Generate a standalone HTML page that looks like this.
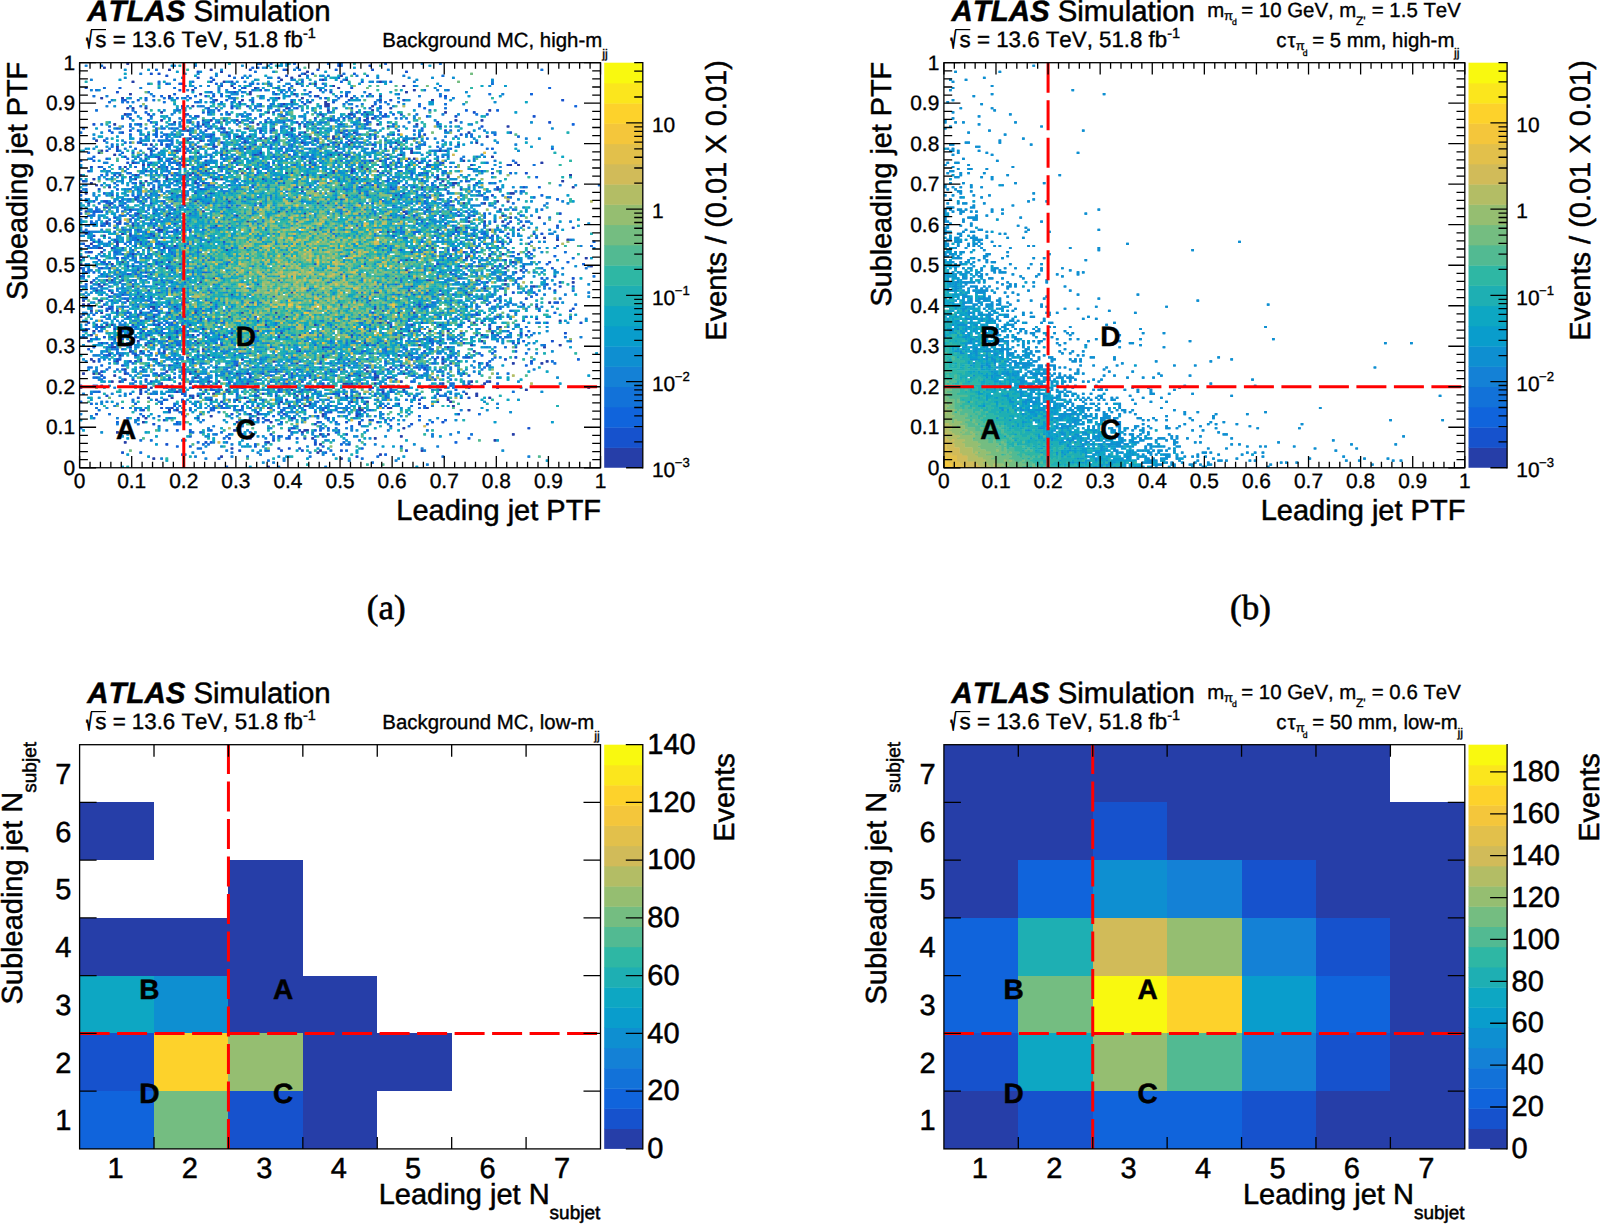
<!DOCTYPE html>
<html lang="en"><head><meta charset="utf-8"><title>ATLAS Simulation - ABCD regions</title>
<style>html,body{margin:0;padding:0;background:#fff}svg{display:block}text{font-family:"Liberation Sans",Arial,Helvetica,sans-serif;fill:#000;stroke:#000;stroke-width:.017em;font-kerning:none;font-variant-ligatures:none;text-rendering:geometricPrecision}.cap{font-family:"Liberation Serif","Times New Roman",Times,serif}</style></head><body>
<svg width="1600" height="1224" viewBox="0 0 1600 1224">
<rect width="1600" height="1224" fill="#fff"/>
<g id="c0" transform="translate(79.52 467.75) scale(2.60450 -2.02525) translate(0 .5)" fill="none" stroke-width="1.085">
<path stroke="#263ea8" d="M72 0h1M28 4h1m71 0h1M54 5h1M115 6h1M91 7h1M92 8h1m38 0h1M58 9h1M92 11h1M17 12h1m54 0h1M159 13h1M65 14h1m23 0h1m23 0h1M123 15h1M92 16h1m2 0h1m70 0h1M14 17h1m70 0h1M59 18h1m20 0h1m5 0h2M124 19h1M107 21h1M24 22h1m35 0h1m12 0h1M25 24h1m39 0h1m2 0h1m12 0h1M50 25h1m42 0h1m12 0h1M65 26h1m2 0h1m24 0h1M34 28h1m2 0h1m69 0h2m40 0h1M35 29h1m36 0h1m34 0h1m10 0h2m13 0h1M80 30h1m3 0h1m1 0h1m56 0h1M88 31h1m41 0h1M77 32h1m26 0h1m5 0h1m31 0h1M50 33h1m9 0h1m6 0h1m73 0h1M26 34h1m8 0h1m7 0h1m19 0h1m42 0h1m1 0h1m48 0h1M42 35h1m2 0h1m37 0h1m3 0h1m14 0h1m49 0h1M23 36h1m27 0h1m96 0h1m3 0h1M37 37h1m19 0h1m58 0h1M23 38h1m32 0h1m10 0h1m13 0h1m42 0h1m13 0h1m32 0h1M24 39h1m2 0h1m15 0h1m22 0h1m93 0h1m34 0h1M8 40h1m15 0h1m25 0h1m60 0h1M31 41h1m6 0h1m3 0h1m21 0h1m36 0h2m1 0h1m8 0h1m25 0h1m15 0h1M12 42h1m2 0h1m33 0h1m3 0h1m69 0h1m26 0h1m6 0h1M17 43h1m72 0h1M44 44h1m20 0h1m47 0h2M13 45h1m16 0h1m14 0h1m57 0h1m3 0h1M1 46h1m3 0h1m1 0h1m9 0h1m24 0h1m17 0h1m3 0h1m48 0h1m10 0h1M33 47h1m10 0h1m65 0h1M17 48h1m57 0h1m33 0h1m15 0h1M110 49h1m8 0h1M60 50h1m62 0h1M83 51h1m55 0h1m26 0h1m10 0h1M5 52h1m8 0h1m59 0h1m104 0h1M4 53h1m23 0h1m33 0h1m76 0h1M41 54h1m51 0h1m31 0h1M15 55h1m5 0h1m27 0h1m43 0h1m28 0h1M19 57h1m3 0h1m8 0h1m51 0h1m66 0h1M47 58h1m57 0h1M12 59h2m5 0h1m73 0h1m47 0h1m36 0h1M17 60h1m7 0h1m84 0h1m19 0h1m19 0h1m33 0h1M45 61h1m63 0h1M3 62h1m18 0h1m131 0h1M20 63h1m7 0h1m92 0h1M1 64h1m16 0h1m15 0h1m41 0h1M4 65h1m26 0h1m11 0h1m11 0h1m28 0h1m19 0h1m34 0h1m14 0h1M58 66h1m2 0h1m15 0h1m45 0h1m34 0h1M5 67h1m62 0h1m65 0h1m6 0h1M2 68h1m44 0h1m109 0h1M8 69h1m67 0h1m42 0h1m41 0h1M10 70h1m1 0h1m17 0h1m40 0h1m18 0h1m36 0h1m10 0h1M115 71h1m2 0h1m32 0h1m2 0h1M28 72h1m155 0h1M25 73h1m89 0h1M0 74h1m27 0h1m11 0h1m16 0h1m21 0h1M8 76h1m14 0h1m10 0h1m9 0h1m17 0h1m12 0h1m46 0h1m5 0h1M4 77h1m9 0h1M11 78h1m16 0h1m84 0h1M8 79h1m18 0h2m7 0h1m93 0h1m44 0h1M1 80h1m1 0h1M50 81h1m129 0h1M1 82h1m5 0h2m9 0h1m92 0h1M23 84h1m84 0h1M58 85h1m80 0h1m9 0h1M12 86h1m68 0h1M6 87h1m119 0h1M36 88h1m118 0h1M8 89h1m11 0h1m106 0h1m46 0h1M7 90h1m155 0h1M4 91h1m41 0h1m142 0h1M10 92h1m1 0h1m121 0h1m17 0h1m10 0h1M51 93h1M15 94h1M142 96h1M125 97h1m9 0h1m33 0h1M0 98h1m32 0h1m124 0h1m4 0h1M146 99h1m17 0h1m31 0h1M0 100h1m11 0h1m25 0h1M16 101h1m17 0h1m131 0h1M0 102h1m124 0h1M148 103h1m45 0h1M142 104h1m6 0h1m7 0h1M20 105h1m10 0h1m130 0h1M3 106h1m4 0h1m118 0h1m44 0h1M56 107h1m86 0h1M7 108h2m3 0h1m13 0h1m5 0h1m102 0h1M36 109h1M4 110h1m9 0h1M14 111h1M22 112h1m160 0h1m3 0h1M37 113h1m140 0h1M9 114h1m18 0h1M16 115h1M1 116h1m116 0h1m1 0h1M30 117h2m58 0h1m46 0h1m6 0h1m12 0h1M145 118h1M20 119h1m31 0h1m117 0h1M10 120h1M10 121h1m4 0h1m48 0h1m84 0h1m5 0h1m6 0h1M129 122h1M23 123h1m91 0h1m8 0h1m24 0h1m15 0h1m10 0h1M33 124h1m26 0h1m78 0h1m22 0h1M22 125h1m11 0h1m51 0h1m38 0h1M2 126h1m44 0h1m28 0h1m47 0h1M19 127h1m113 0h1m27 0h1M11 129h1m28 0h1M3 130h1m87 0h1m55 0h1m7 0h1M44 131h1m12 0h1m23 0h1m78 0h1m3 0h1M21 132h1m13 0h1m84 0h1M40 134h1m61 0h1m18 0h1M2 135h1m32 0h1m88 0h1m40 0h2M0 136h1m84 0h1m11 0h1M27 137h1m132 0h1M11 138h1m73 0h1m22 0h1m22 0h1m5 0h1m51 0h1M6 139h1m33 0h1m59 0h1m39 0h1M4 140h1m18 0h1m20 0h1m2 0h1m95 0h2M25 141h1m113 0h1m45 0h1M5 142h1m15 0h1m11 0h1m18 0h1m1 0h1m15 0h1m35 0h1m30 0h1M33 143h1m103 0h1m3 0h1M0 144h1m14 0h1m5 0h1m18 0h1m1 0h1m42 0h1m8 0h1m93 0h1M43 145h1m18 0h1m16 0h1M48 146h1m48 0h1m6 0h1m9 0h1M37 147h1m23 0h1m2 0h1m2 0h1m42 0h1M17 148h1m12 0h1m22 0h1m54 0h1m6 0h1M24 149h1m16 0h1m6 0h1m116 0h1m2 0h1M20 150h1m17 0h1m49 0h1m41 0h1m46 0h1M59 151h1m52 0h1m2 0h1m21 0h1m9 0h1M30 152h1m4 0h1m90 0h1m1 0h1M158 153h1M13 154h1m40 0h1m12 0h1m28 0h1m2 0h1m23 0h1M7 155h1m32 0h1m4 0h1m23 0h1m57 0h1M8 156h1m18 0h1m8 0h2m60 0h1m28 0h1m10 0h1M43 157h1m15 0h1m3 0h1m48 0h1M14 158h1m30 0h1m5 0h1m67 0h1M27 159h1m67 0h1m3 0h1m3 0h1M23 160h1m39 0h1m21 0h1m18 0h1m16 0h1m30 0h1M6 161h1m34 0h1m4 0h1m77 0h1M42 162h1m26 0h1m5 0h1m21 0h1m7 0h1m22 0h1M60 163h2m3 0h1m22 0h1m8 0h1m3 0h1m54 0h1M84 164h1M56 165h1m29 0h1m13 0h1m4 0h1m43 0h1M41 166h1m39 0h1M54 167h1m9 0h1m9 0h1m6 0h1M86 168h1m31 0h1m45 0h1M13 169h1m33 0h1m20 0h1m15 0h1m29 0h1m14 0h1M36 170h1m29 0h1M31 171h1m18 0h1m4 0h1m4 0h1m48 0h1m34 0h1m9 0h1M110 172h1m1 0h1M17 174h1m22 0h1m51 0h1m10 0h2m5 0h1M31 175h1m40 0h1m67 0h1M95 176h1m16 0h1m44 0h1M18 177h1m1 0h1m4 0h1m53 0h1m39 0h1M43 178h1m50 0h2m16 0h1M78 179h1m15 0h2M81 180h1m6 0h1m5 0h1M52 181h1m9 0h1m52 0h1m19 0h1M8 182h1m7 0h1m59 0h1m8 0h1m18 0h1M34 183h1m56 0h1m23 0h1M19 184h1m26 0h1m18 0h1m16 0h1M65 185h1m59 0h1M43 186h1m84 0h1M67 187h1m31 0h1M58 188h1m38 0h1m26 0h1M83 189h1m6 0h1M20 190h1m34 0h1m59 0h1M77 191h1m15 0h1m8 0h1M81 192h1M84 193h1m15 0h1M86 194h1M54 195h1m32 0h1M34 196h1m15 0h1m28 0h1M9 197h1M18 199h1m50 0h1"/>
<path stroke="#1652cd" d="M106 5h1M16 7h1M61 8h1m15 0h1m7 0h1m14 0h1m24 0h1M76 9h1m3 0h1m3 0h1M123 10h1M33 11h1m56 0h1m12 0h1M48 12h1m22 0h1m18 0h1M74 13h1M57 14h1m22 0h1m5 0h1M76 15h1m16 0h1M61 16h1m11 0h1m28 0h1M84 18h1M81 19h2m89 0h1M119 20h1M28 21h1m61 0h1m36 0h1M91 22h1m10 0h1m4 0h1m6 0h1m24 0h1M32 23h1m32 0h1m5 0h2m38 0h1M22 24h1m22 0h1m36 0h1m12 0h1M24 25h1m66 0h1M6 26h1m32 0h1m18 0h1m19 0h1m27 0h2m37 0h1M34 27h1m33 0h1m8 0h1m18 0h1M24 28h1m25 0h1m10 0h1m31 0h1M31 29h1m19 0h1m42 0h1M54 30h1m13 0h1m18 0h1m27 0h1M31 31h1m44 0h1m32 0h1m12 0h1M54 32h1m9 0h1m72 0h1M29 33h1m2 0h1m6 0h1m39 0h1m50 0h1M22 34h1m63 0h1m9 0h1m31 0h1m12 0h1m7 0h1M10 35h1m23 0h1m8 0h1m23 0h2m6 0h1m23 0h1M39 36h1m7 0h1m22 0h1m11 0h1m14 0h1m9 0h1m29 0h1M23 37h1m28 0h1m31 0h1m34 0h1M48 38h1m27 0h1m11 0h1M0 39h1m61 0h1m49 0h1m6 0h1m29 0h1M0 40h1m32 0h1m13 0h1M52 41h1m26 0h1m13 0h1m55 0h1m10 0h1M27 42h1m57 0h1m70 0h1M20 43h1m4 0h1m87 0h1m7 0h1M34 44h1m21 0h1m24 0h1m4 0h1m31 0h2M8 45h1m56 0h1m12 0h1m9 0h1m24 0h2m24 0h1M40 46h1m29 0h1m10 0h1m65 0h1M8 47h1m80 0h1m6 0h1M24 48h1m15 0h1m58 0h1m1 0h1m16 0h1m13 0h1M39 49h1m12 0h1m76 0h1m2 0h1M16 50h1m9 0h1m7 0h1m66 0h1m1 0h1m22 0h1m6 0h1m22 0h1M30 51h1m6 0h1m54 0h1m49 0h1m10 0h1m2 0h1M19 52h1m1 0h1m81 0h1m69 0h1M14 53h2m7 0h1m19 0h1m55 0h1m27 0h1m8 0h1m26 0h1M51 54h1m85 0h1m4 0h1m5 0h2m17 0h1M11 55h1m115 0h1m5 0h1M11 56h1m12 0h1m7 0h1m28 0h1m64 0h1M45 57h1m86 0h1m9 0h1M3 58h1M5 59h1m67 0h1m20 0h2m71 0h1M33 60h1m20 0h1m83 0h1M8 61h1m3 0h1m14 0h1m86 0h1m2 0h1m17 0h1m11 0h1m18 0h1m1 0h1M44 62h1m60 0h1m28 0h1m3 0h1m42 0h1M13 63h1m2 0h1m17 0h1m97 0h1M9 64h1m11 0h1m15 0h1m10 0h1m18 0h1m88 0h1M26 65h1m14 0h1m3 0h1m78 0h1m27 0h1m7 0h1m10 0h1M23 66h1m13 0h1m10 0h1m97 0h1m22 0h1m16 0h1M24 67h1m12 0h1m1 0h1m71 0h1m14 0h1m1 0h1m1 0h1M13 68h1m109 0h1M7 69h1m1 0h1m14 0h1M6 70h1m13 0h1m7 0h1m13 0h1m76 0h1m37 0h1M3 71h1m127 0h1m60 0h1M68 72h1m80 0h1M46 73h1m128 0h1M18 74h1m119 0h1m21 0h1M22 75h1m15 0h1m113 0h1M112 76h1M10 77h1m18 0h1m86 0h1m71 0h1M37 78h1m12 0h1m91 0h1m46 0h1M4 79h1m7 0h1m51 0h1m48 0h1m18 0h2m14 0h1M39 80h1m60 0h1m29 0h1m25 0h1m13 0h1M28 81h1m37 0h1m116 0h1M106 82h1m52 0h1m1 0h1M40 83h1m130 0h1M11 84h1m62 0h1M16 85h1m111 0h1m34 0h1M113 86h2m18 0h1m14 0h1m17 0h1M11 87h1m14 0h1m111 0h1m43 0h1M56 88h1m105 0h1M148 89h1m24 0h1m10 0h1M9 90h1m19 0h1m38 0h1m110 0h1M15 91h1m3 0h1m136 0h1m27 0h1M16 92h1m59 0h1m56 0h1M23 93h1m97 0h1m7 0h1m7 0h1m7 0h1m43 0h1M0 94h2m8 0h1m14 0h1m100 0h1m55 0h1M18 95h1m8 0h1m72 0h1m47 0h1M2 96h1m22 0h1m100 0h1m40 0h1M22 97h1m12 0h1M8 98h1m2 0h1m169 0h1M18 99h1m1 0h1m10 0h1m16 0h1m87 0h1m12 0h1m3 0h1m16 0h1M10 100h1m15 0h1m63 0h1m18 0h1m27 0h1M9 101h1m21 0h1m90 0h1m57 0h1M127 102h1m35 0h1M6 103h1m7 0h1M102 104h1M168 105h1M4 106h1m131 0h1m10 0h1m2 0h1m1 0h1M63 108h1m80 0h1m7 0h1M2 109h2m10 0h1m17 0h1m7 0h1m92 0h1m49 0h1M1 110h1m21 0h1m7 0h1m130 0h1m9 0h1M5 111h1m1 0h1m41 0h1m5 0h1m105 0h1m3 0h1M13 112h1M26 113h1m4 0h1m132 0h1M5 114h1m13 0h1m100 0h1m30 0h1m6 0h1M2 115h1m16 0h1m7 0h1m115 0h1m20 0h1m9 0h1m2 0h1M3 116h1m26 0h1m4 0h1M37 117h1m130 0h1M28 118h1m28 0h1m86 0h1m3 0h1m40 0h1M8 119h1m97 0h1m48 0h1m7 0h1m19 0h1M14 120h2m4 0h1m15 0h1m3 0h1m99 0h1m23 0h1M131 121h1m27 0h1m5 0h1M19 122h1m8 0h1m7 0h1M13 123h1m32 0h1M119 124h1m8 0h1m16 0h1m5 0h1M0 125h1m27 0h1m13 0h1m141 0h1M5 126h1m2 0h1m133 0h1M36 127h1M10 128h1m27 0h1m18 0h1m76 0h1M15 129h1m124 0h1m2 0h1M11 130h2m11 0h1m2 0h1m21 0h1m19 0h1M9 131h2m4 0h1m126 0h1M42 132h1m13 0h1m3 0h1m37 0h1m1 0h1M22 133h1m3 0h1m36 0h1m65 0h1m4 0h1m21 0h1M12 134h1m26 0h1m70 0h1m12 0h1m8 0h1m5 0h1m15 0h1m3 0h1M44 135h1m5 0h1m56 0h1m33 0h1M90 136h1M7 137h1m38 0h1m73 0h1m19 0h1m5 0h1M30 138h1m35 0h1m16 0h1m30 0h1m4 0h1m8 0h1m31 0h1m9 0h1M24 139h1m24 0h1m7 0h1m54 0h1m30 0h1M40 140h1m37 0h1m31 0h1m11 0h1m29 0h1M1 141h1m27 0h1m7 0h1m6 0h1m103 0h1M77 142h1M19 143h1m30 0h1m41 0h1M13 144h1m21 0h1m9 0h1m41 0h1m42 0h1M81 145h1m15 0h1m6 0h1m11 0h1m1 0h1m39 0h1m12 0h1M3 146h1m21 0h1M104 147h1m14 0h1M4 148h1m2 0h1m25 0h1m12 0h1m41 0h1m29 0h1M26 149h1m12 0h1m86 0h1m6 0h2m15 0h1m13 0h1M18 150h1m103 0h1m16 0h1m27 0h1M48 151h1m62 0h1m13 0h1m8 0h1M25 152h1m34 0h1m57 0h1m3 0h1M17 153h1m12 0h1m54 0h1m16 0h1M25 154h1m42 0h1m11 0h1m37 0h1M78 155h1M10 156h1m3 0h1m41 0h1m83 0h1M14 157h1m11 0h1m2 0h1m87 0h1m6 0h1M52 158h1m12 0h1M25 159h1m5 0h1m1 0h1m15 0h1m1 0h1m15 0h1m3 0h1m21 0h1m18 0h1m9 0h1m22 0h1M54 160h1m15 0h1m27 0h1M9 161h1m53 0h1m10 0h1m15 0h1m12 0h1M44 162h1m26 0h1m41 0h1M50 163h1m24 0h1M26 164h1m15 0h1m8 0h1m27 0h1m22 0h1m8 0h1m8 0h1m11 0h1m13 0h1M16 165h1m74 0h1m73 0h1M19 166h1m28 0h1m20 0h1m3 0h1m48 0h1m17 0h1M55 167h1M45 168h1m92 0h1m15 0h1M5 169h1m17 0h1m21 0h1m43 0h1m10 0h1m9 0h1M42 170h1m6 0h1m3 0h1m7 0h1m9 0h1m6 0h1m4 0h1m53 0h1m42 0h1M47 171h1m48 0h1M16 172h1m2 0h1m70 0h1m5 0h1m4 0h1M27 173h1m16 0h2m32 0h1m14 0h1m11 0h1m10 0h1m27 0h1m29 0h1M26 174h1m14 0h1m15 0h1m59 0h1m5 0h1M49 175h1m24 0h1m31 0h1m2 0h1m41 0h1M53 176h1M49 177h1m8 0h1m21 0h1m2 0h1m20 0h1M39 178h1m18 0h1m5 0h1m12 0h1M86 179h1M61 180h1m4 0h1m30 0h1M17 181h1m85 0h1m15 0h1m4 0h1m60 0h1M34 182h1M51 183h1m38 0h1m9 0h1m1 0h1m37 0h1M75 184h1m35 0h1M14 185h1m44 0h1m28 0h1m7 0h1M69 186h1m22 0h1M2 187h1m56 0h1m3 0h1m40 0h1M54 188h1M39 189h1M50 190h1m7 0h1M51 191h1M45 192h1m30 0h1M33 193h1m23 0h1m21 0h1M27 194h1m2 0h1m58 0h1M45 195h1m79 0h1M65 196h1m25 0h1m20 0h1M99 198h1m11 0h1M73 199h1"/>
<path stroke="#1064dc" d="M56 0h1M53 4h1M117 6h1M94 7h1M108 9h1M37 10h1m4 0h1m24 0h1m25 0h1M67 11h1m32 0h1M50 12h1m93 0h1M83 14h1m65 0h1M42 15h1m37 0h1M57 16h1m4 0h1M42 17h1m22 0h1m32 0h1M37 18h1m4 0h1m7 0h1m39 0h1m1 0h1M0 19h1m94 0h1M104 20h1M37 21h1m95 0h1M14 22h1m22 0h1m39 0h1m20 0h1m36 0h1M63 23h1m4 0h1m39 0h1m3 0h1m6 0h1m20 0h1M18 24h1m51 0h1M74 25h1m55 0h1M46 26h1m47 0h1M90 27h1m4 0h1m10 0h1m2 0h1M23 28h1m18 0h1m8 0h1m34 0h1m15 0h1m8 0h1M16 29h1m16 0h1m21 0h1m9 0h1m16 0h1m49 0h1M36 30h1m22 0h1m2 0h1m33 0h1m20 0h1m14 0h1M4 31h1m16 0h1m33 0h1m24 0h1M0 32h1M83 33h1m30 0h1M87 34h1m14 0h1m28 0h1M40 35h1m63 0h1m12 0h1m20 0h1M19 36h1m35 0h1m4 0h1m37 0h2m1 0h1m14 0h1M7 37h1m17 0h1m10 0h1m16 0h1m22 0h1m13 0h1M50 38h2m33 0h1m1 0h1m28 0h1m2 0h1m24 0h1M33 39h1m42 0h1m49 0h1M5 40h1m29 0h1m32 0h1m34 0h1m38 0h1m5 0h1M57 41h1m45 0h1m4 0h1m29 0h1M45 42h1m11 0h1m15 0h1m2 0h1m50 0h1M34 43h1m26 0h1m5 0h2m10 0h1m56 0h1M6 44h1m2 0h1m26 0h1m24 0h1m40 0h1m32 0h1M73 45h1m7 0h1m45 0h2m2 0h1m17 0h1M18 46h1m10 0h1m2 0h1m24 0h1m21 0h1m25 0h1M17 47h1m21 0h1m32 0h1m3 0h1m36 0h1m31 0h1M10 48h1m3 0h1m1 0h1m19 0h1m2 0h1m43 0h2m35 0h1m17 0h1M3 49h1m19 0h1m42 0h1m25 0h1m30 0h1m7 0h1M8 50h1m78 0h1m36 0h1m6 0h1m39 0h1M60 51h1m20 0h1m91 0h1M7 52h1m5 0h1m9 0h1m35 0h1m24 0h1m7 0h1m24 0h1m27 0h1m11 0h1M7 53h1m21 0h1m7 0h1m72 0h1m18 0h1m61 0h1M34 54h1m46 0h1m18 0h1m29 0h1m8 0h1m4 0h1m14 0h1M10 55h1m48 0h1m58 0h1m23 0h1m11 0h1M14 56h1m5 0h2m5 0h1m13 0h1m23 0h1m45 0h1m41 0h1m4 0h1M47 57h1m35 0h1m24 0h2m49 0h1m7 0h1M14 58h1m28 0h1m15 0h1m36 0h1m28 0h1m8 0h2M11 59h1m23 0h1m15 0h1m45 0h1m26 0h1M12 60h1m3 0h1m11 0h1m8 0h2m51 0h1m7 0h1m13 0h2m9 0h1M10 61h1m15 0h1m8 0h1m16 0h1m1 0h1M33 62h1m52 0h1m9 0h1m7 0h1m65 0h1m17 0h1M4 63h1m1 0h1m16 0h1m3 0h1m25 0h1m80 0h1m8 0h1M12 64h1m42 0h2m22 0h1m24 0h1m41 0h1m14 0h1M53 65h1m22 0h1m30 0h1m61 0h1M18 66h2m10 0h1m1 0h1m59 0h1m45 0h1M1 67h1m5 0h1m8 0h1m12 0h1m1 0h1m12 0h1m22 0h1m96 0h1m7 0h1M3 68h1m61 0h1m34 0h1M17 69h1m3 0h1m50 0h1m36 0h1m39 0h1M29 70h1m5 0h1m75 0h1m34 0h1M33 71h1m1 0h1m16 0h1m1 0h1m124 0h1M23 72h1m12 0h1m89 0h1m43 0h1M78 73h1m28 0h1m5 0h1m12 0h1M9 74h1m27 0h1m29 0h1m8 0h1m36 0h1m74 0h1M5 75h1m22 0h1m121 0h1M14 76h1m3 0h1m7 0h1m3 0h1m121 0h1m29 0h1M27 77h1m16 0h1m2 0h1M10 78h1m1 0h1m33 0h1m85 0h1m28 0h1M11 79h1m4 0h1m5 0h1m7 0h1m21 0h1m75 0h1M9 80h1m114 0h1m8 0h1m8 0h1M27 81h1m6 0h1m100 0h1m46 0h1M12 82h1m35 0h1m93 0h1M17 83h1m9 0h1m125 0h1M27 84h1m35 0h1m61 0h1m35 0h1m11 0h1M122 85h1m20 0h1m31 0h1M17 86h1m4 0h1m7 0h1m4 0h1m14 0h1m120 0h1m2 0h1M8 87h1m78 0h1m46 0h1M5 88h1m40 0h1m99 0h1m4 0h1m9 0h1M155 89h1m33 0h1M2 90h1m118 0h1M32 91h1m2 0h1m4 0h1m54 0h1m71 0h1M5 92h1m25 0h1m96 0h1m24 0h1M47 93h1m120 0h2m7 0h1M102 94h1m41 0h1M8 95h1m10 0h1m1 0h1m85 0h1M5 96h1m17 0h1m19 0h1m3 0h2m89 0h1m24 0h1M3 97h1M7 98h1m140 0h1M33 99h1m44 0h1m62 0h1m12 0h1m4 0h1m1 0h1M29 100h1m26 0h1m104 0h1m17 0h1m13 0h1M8 101h1m20 0h1m157 0h1M7 102h1m139 0h1M16 103h1m3 0h1m152 0h1M0 104h1m17 0h1m1 0h1m4 0h1m10 0h1m102 0h1m26 0h1m15 0h1M16 105h1m2 0h1m58 0h1m94 0h1M13 106h1m8 0h1M20 107h1m13 0h1m84 0h1m3 0h1m17 0h1M4 108h1m11 0h1m11 0h1m29 0h1m90 0h1m7 0h1M5 109h1m15 0h1m95 0h1m78 0h1M17 110h1m11 0h1m11 0h1m113 0h1M23 111h1m2 0h1m3 0h1m100 0h1m65 0h1M7 112h1m142 0h1M21 113h1m103 0h1m11 0h1m15 0h2m2 0h1m17 0h1m7 0h1M44 114h1m91 0h1m5 0h1m13 0h1M128 115h1m9 0h1m16 0h1M31 116h1m5 0h1m4 0h1m81 0h1m3 0h3m13 0h2m1 0h2M22 117h1m6 0h1m9 0h1m2 0h1m4 0h1m23 0h1M13 118h1m37 0h1m71 0h1m42 0h1M28 119h1m103 0h1m10 0h1M4 120h1m4 0h1m19 0h1m99 0h1m3 0h1m21 0h1M4 121h1m164 0h1M30 122h1m103 0h1M20 123h1m14 0h1m1 0h1M3 124h1m12 0h1m2 0h1m1 0h1m114 0h1m32 0h1M5 125h1m15 0h1m32 0h1m45 0h1m6 0h1m47 0h1M6 126h2m71 0h1m45 0h1m19 0h1M6 127h1m10 0h1m26 0h1m67 0h1M0 128h1m8 0h1m46 0h1m44 0h1m3 0h1m26 0h1M16 129h1m16 0h1m26 0h1m6 0h1m30 0h1m21 0h1m21 0h1M7 130h1m2 0h1m84 0h1m11 0h1m4 0h1m28 0h1M5 131h1m17 0h1m8 0h1m83 0h1m13 0h1m1 0h1M115 132h1m6 0h1m15 0h1m5 0h1m38 0h1M21 133h1m26 0h1m74 0h1m9 0h1m30 0h1M0 134h1m19 0h1m1 0h1m7 0h1m17 0h1m97 0h1m30 0h1M9 135h1m17 0h1m21 0h1M129 136h1m4 0h1m18 0h1m15 0h1M2 137h1m11 0h1m7 0h1m24 0h2m52 0h1m29 0h1M28 138h1m9 0h1m6 0h1m36 0h1m5 0h1m18 0h1m68 0h1M51 139h1m14 0h1m42 0h1m14 0h1m10 0h1m15 0h1M21 140h1m23 0h1m2 0h1m27 0h1M41 141h1m24 0h1m32 0h1m18 0h1M45 142h1m5 0h1m14 0h1m8 0h1m28 0h1m9 0h1M175 143h1M8 144h1m13 0h1m10 0h1m3 0h1m29 0h1m59 0h1m9 0h1m3 0h1M19 145h1m29 0h1m7 0h1m10 0h1m2 0h1m55 0h1m3 0h1m1 0h1m5 0h1m25 0h1M105 146h1m17 0h1m16 0h1m13 0h1M27 147h1m29 0h1m92 0h1M15 148h1m5 0h1m21 0h1m29 0h1m59 0h1M37 149h1m22 0h1m21 0h1m7 0h1m27 0h1M21 150h1m5 0h1m7 0h1m22 0h1m13 0h1m36 0h1m9 0h1m18 0h1M0 151h1m4 0h1m27 0h1m54 0h1m11 0h1m28 0h1M4 152h1m5 0h1m7 0h1m20 0h1m15 0h1m3 0h1m15 0h1m13 0h1m56 0h1M5 153h1m20 0h1m2 0h1m12 0h1m7 0h1m23 0h1m36 0h1M27 154h1m28 0h1m9 0h1m15 0h1m18 0h3M3 155h1m12 0h1m3 0h1m79 0h1M38 156h1m42 0h1M21 157h1m19 0h1m23 0h1m7 0h1m14 0h1m3 0h1m28 0h1m5 0h1m14 0h1m15 0h1m22 0h1M33 158h1m39 0h1m24 0h1m6 0h1m23 0h1m7 0h1M113 159h1m18 0h1M22 160h1m63 0h1m10 0h1m2 0h1m1 0h1M30 161h1m3 0h1m32 0h1m7 0h1m4 0h1M23 162h1m9 0h1m28 0h1m19 0h1M25 163h1m3 0h1m16 0h1m2 0h1m7 0h1m12 0h1m10 0h1m31 0h1m16 0h1m13 0h1M19 164h1m9 0h1m3 0h1m16 0h1m25 0h1m4 0h1m25 0h1m5 0h1m16 0h1m28 0h1M12 165h1m16 0h1m24 0h2m13 0h1M11 166h1m10 0h1m6 0h1m44 0h1m27 0h1m10 0h1m14 0h1M1 167h1m12 0h1m14 0h1m5 0h1m9 0h1m3 0h1m41 0h1m17 0h1m21 0h1M19 168h1m28 0h1m1 0h1m3 0h1m24 0h1m40 0h1M22 169h1m6 0h1m75 0h1m31 0h1m51 0h1M27 170h1m17 0h1m19 0h1m21 0h1m22 0h2M26 171h1m70 0h1m1 0h1m7 0h1M103 172h1m3 0h1M62 173h1m6 0h1m43 0h1m3 0h1m15 0h1M18 174h2m45 0h1m42 0h1m11 0h1m35 0h1M25 175h1m21 0h1m8 0h1m58 0h1M69 176h1m5 0h1m72 0h1m11 0h1M111 177h1m3 0h1m16 0h1M115 178h1m14 0h1m59 0h1M61 179h1m7 0h1m7 0h1m35 0h1M45 180h1m5 0h1m33 0h1M16 181h1m5 0h1m33 0h1M25 182h1m11 0h1m4 0h1m51 0h1M31 183h1m16 0h1m5 0h1m55 0h1m27 0h1M36 184h1m65 0h1m70 0h1M50 185h1m26 0h1M38 186h1m41 0h1M15 187h1m46 0h1m17 0h1m99 0h1M81 188h1m46 0h1M33 189h1m4 0h1m13 0h1m35 0h1M85 190h1m14 0h1m7 0h1m10 0h1M50 192h1m11 0h1m36 0h1M110 193h1M105 194h1M78 196h1m19 0h1M66 197h1m1 0h1M100 198h1M82 199h1m34 0h1"/>
<path stroke="#1272d9" d="M112 2h1M72 3h1M108 4h1M64 5h1m23 0h1m25 0h1m24 0h1M39 6h1M23 7h1m34 0h1M71 8h2m23 0h1m5 0h1M45 9h2M47 11h1m1 0h1M45 12h1m10 0h1m44 0h1M23 13h1m3 0h1m62 0h1M55 14h1m18 0h1m4 0h1M56 15h1m6 0h1m26 0h1M52 16h1m97 0h1M43 17h1m2 0h1m7 0h1m26 0h1M60 18h1m38 0h1m10 0h1M60 19h1m32 0h1m4 0h1M30 20h1m52 0h1m8 0h1m33 0h1M17 21h1m4 0h1m15 0h1m37 0h1M70 22h1m21 0h1M47 23h1m38 0h1m8 0h1m21 0h1m12 0h1M5 24h1m28 0h1m51 0h1m29 0h1M30 25h1m9 0h1m25 0h1M11 26h1m11 0h1m45 0h1m6 0h1m2 0h1m73 0h1M38 27h1m14 0h1m46 0h1M7 28h1m28 0h1m40 0h2m19 0h1m7 0h1M6 29h1m14 0h1m12 0h1m15 0h1m3 0h1m1 0h1m5 0h1m10 0h1m2 0h1m1 0h1m10 0h1m3 0h1m7 0h1m1 0h1m26 0h1M38 30h1m5 0h1m8 0h1m12 0h1m60 0h1M36 31h1m3 0h1m62 0h1M31 32h1m8 0h1m4 0h1m37 0h1m4 0h1m2 0h1M20 33h1m12 0h1m15 0h1m9 0h1m10 0h1m4 0h1m9 0h1m1 0h1m37 0h1M48 34h1m1 0h1m31 0h1m8 0h1m15 0h1m9 0h2m27 0h1M60 35h1m24 0h1m6 0h1m20 0h1m12 0h1m13 0h1M4 36h1m22 0h1m1 0h1m10 0h1m31 0h1m7 0h1m10 0h1m21 0h1m11 0h1M5 37h2m61 0h1m35 0h2m14 0h1m3 0h1m22 0h1m18 0h1M35 38h1m2 0h1m7 0h1m6 0h1m25 0h1m9 0h1m21 0h1m3 0h1M25 39h1m16 0h1m7 0h1m7 0h1m1 0h1m27 0h1m22 0h1m13 0h1m17 0h1M6 40h1m24 0h1m27 0h1m33 0h1m60 0h1M20 41h1m38 0h1m18 0h1m3 0h1m9 0h1m13 0h1m35 0h2M21 42h1m21 0h1m6 0h1m11 0h1m1 0h3m61 0h1M8 43h1m65 0h1m9 0h1m49 0h1m7 0h1M5 44h1m43 0h1m38 0h1m3 0h1m16 0h1m19 0h1M25 45h2m25 0h1m45 0h1M28 46h1m2 0h1m23 0h1m5 0h2m2 0h1m3 0h1m13 0h1m10 0h1m11 0h1m46 0h1m10 0h1M21 47h1m18 0h1m1 0h1m30 0h1m1 0h1m21 0h1m14 0h1m3 0h1m6 0h1m9 0h1m3 0h1m1 0h1M28 48h1m27 0h1m39 0h1m33 0h1m2 0h1m8 0h1m11 0h1M4 49h1m6 0h1m31 0h1m13 0h1m9 0h1m2 0h1m28 0h1m13 0h1m7 0h1m6 0h1m13 0h1m12 0h1M32 50h1m2 0h1m23 0h1m4 0h1m6 0h1m14 0h1m10 0h1m11 0h2m33 0h1M20 51h1m19 0h1m2 0h1m2 0h2m11 0h1m9 0h1m26 0h1m20 0h1m17 0h2m45 0h1M43 52h1m16 0h1m40 0h1m3 0h1m33 0h2m40 0h1M27 53h1m7 0h1m3 0h1m7 0h1m21 0h1m36 0h1M36 54h1m8 0h1m25 0h1m10 0h1m46 0h1m2 0h1m14 0h1M9 55h1m19 0h1m15 0h1m29 0h1m19 0h1m30 0h1M30 56h1m5 0h1m18 0h1m51 0h2m3 0h1m18 0h1m39 0h1M10 57h1m19 0h1m23 0h1m1 0h1m37 0h1m2 0h1m19 0h1M12 58h1m3 0h1m16 0h1m8 0h1m6 0h1m13 0h1m20 0h1m8 0h1m22 0h2M32 59h1m84 0h1m41 0h1m3 0h1M19 60h1m45 0h1m14 0h1m54 0h1m42 0h1M14 61h1m22 0h2m9 0h1m9 0h1m43 0h1m34 0h1M19 62h1m16 0h2m20 0h1m6 0h1m2 0h1m40 0h1m5 0h1m13 0h2m4 0h1m7 0h1m2 0h1m13 0h1M123 63h1m2 0h1m4 0h1m3 0h1m6 0h1m25 0h1M43 64h1m119 0h2m21 0h1M25 65h1m95 0h1m10 0h1m40 0h1M36 66h1m51 0h1m76 0h1M2 67h1m5 0h1m9 0h1m7 0h1m14 0h1m35 0h1m26 0h1m53 0h1M6 68h1m16 0h1m8 0h1m5 0h1m41 0h1m30 0h1m18 0h1m22 0h1m15 0h1M86 69h1m11 0h1m58 0h1m13 0h1M2 70h1m29 0h1m1 0h1m4 0h1m56 0h1m48 0h1m22 0h1M22 71h1m7 0h1m6 0h1m1 0h1m15 0h1m19 0h1m19 0h1m11 0h2m3 0h1m23 0h1m39 0h1M8 72h1m20 0h1m10 0h1m5 0h1m2 0h1m21 0h1m25 0h1m11 0h1m7 0h1m5 0h1M13 73h1m20 0h1m14 0h1m3 0h1m10 0h1m41 0h1m38 0h1m2 0h1m6 0h1m3 0h1M22 74h1m77 0h1m15 0h1m11 0h2m14 0h1m19 0h1m6 0h1M1 75h1m23 0h1m3 0h1m15 0h1m2 0h1m36 0h1m46 0h1m18 0h1m1 0h1M6 76h1m12 0h1m13 0h1m32 0h1m72 0h1m27 0h1M7 77h1m15 0h1m31 0h1m1 0h1m69 0h1m37 0h1m10 0h1M24 78h1m106 0h1m44 0h1M18 79h1m39 0h1m62 0h1m1 0h1m10 0h1m17 0h1m6 0h1m1 0h1M20 80h1m13 0h1m17 0h1m76 0h1m22 0h1m10 0h1m11 0h1m14 0h1M17 81h1m21 0h3m13 0h1m9 0h1m3 0h1m40 0h1m17 0h1m1 0h1m14 0h1m11 0h1m7 0h1M15 82h1m9 0h2m26 0h1m97 0h1m3 0h1M1 83h1m16 0h1m1 0h1m3 0h1m6 0h1m122 0h1M2 84h1m11 0h2m5 0h1m15 0h1m97 0h2M8 85h1m4 0h1m8 0h1m68 0h1m28 0h1m11 0h1m5 0h1m11 0h1m7 0h1M108 86h1m18 0h1m41 0h1M0 87h1m17 0h1m16 0h1m3 0h1m4 0h1m4 0h1m17 0h1m121 0h1M4 88h1m17 0h1m7 0h1m2 0h1m3 0h1m1 0h1m1 0h1m23 0h1m22 0h1m37 0h1m53 0h1M0 89h2m5 0h1m17 0h1m87 0h1m54 0h1m9 0h1M20 90h1m30 0h1m64 0h1m24 0h1m5 0h1M114 91h1m25 0h1m13 0h1M20 92h1m8 0h1m3 0h1m63 0h1m25 0h1m37 0h1M13 93h1m13 0h1m13 0h1m12 0h1m91 0h1m14 0h1m17 0h1M197 94h1M22 95h1m16 0h1m103 0h1m8 0h1M15 96h1m5 0h1m4 0h1m143 0h1M1 97h1m12 0h1m26 0h1m90 0h1m38 0h1M1 98h1m20 0h1m15 0h1m5 0h1m1 0h1m123 0h1m6 0h1m16 0h1M12 99h1m14 0h1m6 0h1m31 0h1m67 0h1m10 0h1m4 0h1m1 0h1M15 100h1m7 0h1m15 0h1M11 101h1m9 0h2m13 0h1m20 0h1m75 0h1m17 0h1m1 0h1m11 0h1m1 0h1M47 102h1m1 0h1m73 0h1m15 0h1m4 0h1M1 103h1m15 0h1m7 0h1m83 0h1m31 0h1m3 0h1m6 0h1m36 0h1M47 104h1m87 0h1m2 0h1m9 0h1M14 105h1m6 0h1m4 0h1m8 0h1m104 0h1m10 0h1m5 0h1M2 106h1m11 0h1m14 0h1m5 0h1m9 0h1m112 0h1m7 0h1m19 0h1M31 107h1m84 0h1m11 0h1m1 0h1m1 0h1m11 0h1m6 0h1m12 0h1M6 108h1m6 0h1m21 0h1m6 0h1m76 0h1m19 0h1m3 0h1M6 109h1m30 0h1m8 0h1m106 0h1m6 0h1M25 110h1m4 0h1m120 0h1M11 111h1m7 0h1m126 0h1m26 0h1M4 112h1m9 0h1m5 0h2m126 0h1m9 0h1m29 0h1M4 113h1m15 0h1m4 0h1m43 0h1m54 0h1m7 0h1m11 0h1M23 114h1m3 0h1m70 0h1m14 0h1m35 0h1m10 0h1M3 115h1m21 0h1m71 0h1m56 0h1M13 116h1m8 0h1m2 0h1m7 0h1m62 0h1m18 0h1m5 0h1m1 0h1m12 0h1m18 0h1m5 0h2M2 117h1m13 0h1m2 0h1m16 0h1m64 0h1m2 0h1m46 0h1M38 118h1m11 0h1m41 0h1m67 0h1m22 0h1M9 119h1m31 0h1M5 120h1m5 0h1m5 0h2m3 0h1m4 0h1m29 0h1m10 0h1m109 0h1M13 121h1m10 0h1m2 0h1m3 0h1m35 0h1m2 0h1m12 0h1m87 0h2M11 122h1m3 0h1m41 0h1m60 0h2m19 0h1M48 123h1m37 0h1m18 0h1m32 0h1m16 0h1M4 124h2m9 0h1m21 0h1m21 0h1m64 0h1m30 0h1M18 125h1m19 0h1m27 0h1m44 0h1m1 0h1m18 0h1m11 0h1m4 0h1M3 126h1m6 0h1m5 0h1m2 0h1m5 0h1m3 0h1m72 0h1m14 0h1m14 0h1m2 0h1m2 0h1m9 0h1m2 0h1M20 127h1m8 0h1m11 0h1m67 0h1m19 0h1m11 0h1m24 0h1m10 0h1M6 128h1m5 0h1m1 0h1m13 0h1m4 0h1m1 0h1m18 0h1m68 0h1M58 129h1m10 0h1m23 0h1m6 0h1m24 0h1m31 0h1M17 130h1m14 0h1m2 0h1m9 0h1m11 0h1m52 0h1m16 0h1m4 0h2m6 0h1m13 0h1m11 0h1M13 131h1m8 0h1m8 0h1m4 0h1m10 0h1m15 0h1m21 0h1m50 0h1M2 132h1m13 0h1m2 0h1m5 0h1m19 0h2m19 0h1m60 0h1M37 133h1m12 0h1m17 0h1m9 0h1m4 0h1m48 0h1m32 0h1m8 0h1M14 134h1m22 0h2m34 0h1m14 0h1m64 0h1m8 0h1M51 135h1m3 0h1M31 136h1m12 0h1m34 0h1m2 0h1m27 0h1m26 0h1M19 137h1m34 0h1m4 0h1m27 0h1m14 0h1m16 0h1m15 0h1M20 138h1m13 0h1m5 0h1m80 0h1m3 0h1M2 139h1m5 0h1m5 0h1m26 0h1m3 0h1m4 0h1m10 0h1m1 0h1m8 0h1m15 0h1m25 0h1m84 0h1M13 140h1m6 0h1m6 0h1m7 0h1m59 0h1m9 0h1m29 0h1m2 0h1m18 0h1m1 0h1M2 141h1m33 0h1m23 0h1m2 0h1m7 0h1m19 0h1m25 0h1m2 0h2m9 0h1m17 0h1M10 142h1m28 0h1m19 0h2m13 0h1m24 0h1m9 0h1m8 0h1m12 0h1M46 143h1m30 0h1m27 0h1m15 0h1M10 144h1m21 0h1m5 0h1m5 0h1m8 0h2m55 0h1m3 0h1M14 145h1m3 0h1m10 0h1m6 0h1m4 0h1m5 0h1m3 0h1m80 0h1M33 146h1m11 0h1m8 0h1m19 0h1m27 0h1m19 0h1M9 147h1m8 0h1m14 0h1m1 0h1m7 0h1m6 0h1m20 0h1m33 0h1M8 148h1m45 0h2m36 0h1m28 0h1m3 0h1m4 0h1m6 0h1m6 0h1M56 149h1m14 0h1m4 0h1m12 0h1m12 0h1m18 0h1m52 0h1M37 150h1m36 0h1m17 0h1m24 0h1m38 0h1M34 151h1m31 0h1m31 0h1m9 0h1m8 0h1m13 0h1m34 0h1M34 152h1m47 0h1m3 0h1m3 0h1M22 153h1m23 0h1m1 0h1m9 0h1m1 0h1m15 0h1m4 0h1m12 0h1m42 0h1m1 0h1m1 0h1m10 0h1M36 154h1m32 0h1m19 0h1m5 0h1m38 0h1M27 155h1m2 0h1m61 0h1M69 156h1m9 0h1m33 0h1m22 0h2M27 157h1m10 0h1m16 0h1m4 0h2m14 0h2m1 0h1m10 0h1m47 0h1m17 0h1M12 158h1m21 0h1m11 0h1m9 0h1m5 0h1m15 0h1m2 0h1m1 0h1m8 0h1m14 0h1M12 159h1m21 0h1m3 0h1m5 0h1m16 0h1m11 0h1m7 0h1m4 0h1m2 0h1m20 0h1M17 160h1m1 0h1m11 0h1m3 0h1m22 0h1m3 0h1m1 0h1m17 0h1m5 0h1m2 0h1m15 0h2M35 161h1m11 0h1m37 0h1m20 0h1m10 0h1m21 0h1M50 162h1m37 0h1m1 0h1m8 0h1m11 0h1m21 0h1M31 163h1m6 0h1m9 0h1m34 0h1m11 0h1m54 0h1m17 0h1M32 164h1m3 0h1m2 0h1m5 0h1m11 0h1m48 0h1m11 0h1m3 0h1m25 0h1m1 0h1M0 165h1m105 0h1M42 166h1m58 0h1m29 0h1m10 0h1M15 167h1m9 0h1m5 0h2m4 0h1m5 0h1m19 0h1m5 0h1m41 0h1M11 168h1m117 0h1M8 169h1m10 0h1m15 0h1m2 0h1m21 0h1m13 0h1m11 0h1m12 0h1m7 0h1m1 0h1m10 0h1M48 170h1m24 0h1m18 0h1m49 0h1M41 171h1m29 0h1m8 0h1m14 0h1m14 0h1M72 172h1m13 0h1m17 0h1M77 173h1m32 0h1M77 174h1m1 0h1m49 0h1m22 0h1M21 175h1m73 0h1m8 0h1M6 176h1m13 0h1m16 0h2m10 0h1m26 0h1m1 0h1m55 0h1M52 177h1m7 0h1m6 0h1m14 0h1m15 0h1m41 0h1M23 178h1m22 0h1m21 0h2m3 0h1m2 0h1m29 0h1M101 179h1m28 0h1m9 0h1M11 180h1m4 0h1m1 0h1m13 0h1m11 0h1m9 0h1m3 0h1m54 0h1m1 0h1m1 0h1m4 0h1M25 181h1m2 0h1m22 0h1m7 0h1m6 0h1m5 0h1m8 0h1M32 182h1m7 0h1m17 0h1m16 0h1m23 0h1m40 0h1M5 183h1m22 0h1m12 0h1m2 0h1m12 0h1m22 0h1m2 0h1m28 0h1M54 184h1m67 0h1m34 0h1M26 185h1m35 0h1m11 0h1m28 0h1M6 186h1m59 0h1m4 0h1m22 0h1m37 0h1m8 0h1M9 187h1m26 0h1m7 0h1m23 0h1m6 0h2M73 188h1m64 0h1M59 189h1m5 0h2m1 0h1m3 0h1m20 0h1m64 0h1M30 190h1m12 0h1M92 191h1M59 192h1M65 193h1m21 0h1m7 0h1m43 0h1M85 194h1m15 0h1M67 195h1M29 196h1m54 0h1m92 0h1M83 197h1M8 198h1m35 0h1M95 199h1m3 0h2m37 0h1"/>
<path stroke="#1481d6" d="M76 0h1m17 0h1M133 1h1M74 2h1M78 3h1m24 0h1m17 0h1M31 4h1m16 0h1M44 5h1m13 0h1m113 0h1M69 6h1m23 0h1m3 0h1M47 7h1m20 0h1m19 0h1M56 8h1m75 0h1M131 9h1M70 10h1m66 0h1M58 11h1m43 0h1m10 0h1M51 12h1M39 13h1m54 0h1m12 0h1M64 14h1m6 0h1m4 0h1M49 15h1m24 0h1m2 0h1m28 0h1m28 0h1M51 16h1m29 0h1m3 0h1m49 0h1m6 0h1M89 17h1m9 0h1m45 0h1M33 18h1m15 0h1m45 0h1m8 0h1m13 0h1m14 0h1M49 19h1m22 0h1m19 0h1m9 0h1m1 0h1M51 20h1m10 0h1M14 21h1m21 0h1m62 0h1m18 0h1M21 22h1m24 0h1m21 0h1M21 23h1m39 0h1m4 0h1m14 0h1m42 0h1M14 24h1m90 0h1m14 0h1M4 25h1m72 0h1m1 0h1m8 0h1m10 0h1m2 0h1m4 0h1m2 0h1m2 0h1m1 0h1m7 0h1M0 26h1m60 0h1m2 0h1m18 0h1m19 0h1m12 0h1m9 0h1M39 27h1m41 0h1m12 0h1m6 0h1m13 0h1M21 28h1m37 0h1m2 0h1m4 0h1m6 0h1m71 0h1M25 29h1m11 0h1m4 0h1m5 0h1m8 0h1m1 0h1m19 0h1m12 0h1m6 0h2m15 0h1M13 30h1m37 0h1m30 0h1m5 0h1m13 0h1m17 0h1m14 0h1M6 31h1m7 0h1m28 0h1m6 0h1m5 0h1m33 0h1m4 0h1m20 0h1m43 0h1M8 32h1m1 0h1m19 0h1m8 0h1m30 0h1m5 0h1m13 0h1m12 0h1M57 33h1m19 0h1m6 0h1m9 0h2m8 0h1M110 34h1m25 0h1M15 35h1m112 0h1m10 0h1m4 0h1M1 36h1m10 0h1m4 0h1m27 0h1m21 0h1m7 0h1m41 0h1m22 0h1m1 0h1M28 37h1m5 0h1m3 0h1m1 0h1m31 0h1m4 0h1m2 0h1m4 0h1m12 0h1m7 0h1M68 38h1m1 0h1m6 0h1m12 0h1m10 0h1m2 0h1m9 0h1m20 0h1M13 39h1m21 0h1m17 0h1m20 0h1m2 0h1m5 0h1m33 0h1m23 0h1M86 40h1m20 0h1m35 0h1m3 0h1M30 41h1m16 0h1m1 0h1m12 0h2m8 0h1M16 42h1m8 0h1m16 0h1m3 0h1m31 0h1m3 0h1m32 0h1m31 0h1m1 0h1M7 43h1m8 0h1m26 0h1m3 0h1m1 0h1m6 0h1m7 0h1m4 0h1m15 0h1m8 0h1m22 0h1m15 0h1M38 44h1m6 0h1m2 0h1m1 0h1m109 0h1M24 45h1m24 0h1m4 0h1m4 0h3m9 0h2m9 0h1m7 0h1m6 0h1m6 0h1m41 0h1M36 46h1m11 0h1m38 0h1m23 0h1m10 0h1m3 0h1m5 0h1m8 0h1m18 0h1M6 47h1m16 0h1m30 0h1m1 0h2m6 0h1m5 0h1m3 0h1m2 0h1m7 0h1m8 0h1m5 0h1m25 0h2m23 0h1M6 48h1m25 0h1m1 0h1m13 0h1m6 0h1m3 0h1m4 0h1m13 0h1m95 0h1M37 49h1m18 0h1m31 0h1m44 0h1m17 0h1m5 0h1M28 50h1m2 0h1m14 0h1m5 0h1m22 0h1m1 0h1m2 0h1m24 0h1m5 0h1m17 0h2m14 0h1M14 51h1m41 0h1m15 0h1m5 0h1m23 0h1m3 0h1m16 0h1m4 0h1M2 52h1m47 0h1m7 0h1m6 0h1m9 0h1m36 0h1m9 0h1m28 0h1M9 53h1m23 0h1m33 0h1m19 0h1m70 0h1M15 54h1m22 0h2m7 0h2m4 0h1m74 0h1m6 0h1M5 55h2m9 0h1m5 0h1m3 0h1m20 0h1M8 56h1m7 0h1m6 0h1m7 0h1m30 0h2m15 0h1m17 0h1m2 0h1m13 0h1m2 0h1m11 0h1m7 0h2m5 0h1m30 0h1M14 57h1m5 0h1m5 0h1m8 0h1m3 0h1m12 0h1m15 0h1m5 0h1m11 0h1m1 0h1m15 0h1m20 0h1m11 0h1M10 58h1m2 0h1m16 0h1m21 0h1m4 0h1m3 0h1m9 0h1m52 0h1m3 0h1m43 0h1M10 59h1m10 0h1m9 0h1m2 0h1m18 0h1m29 0h1m58 0h1m13 0h1M14 60h1m17 0h1m8 0h1m2 0h1m4 0h1m9 0h1m1 0h3m13 0h1m4 0h1m19 0h1m25 0h1m2 0h1m45 0h1M7 61h1m10 0h1m3 0h1m2 0h1m5 0h1m9 0h1m1 0h1m26 0h1m1 0h1m23 0h1m14 0h1m28 0h1m14 0h1M13 62h1m14 0h1m1 0h1m7 0h1m2 0h1m8 0h2m12 0h1m2 0h1m34 0h1m17 0h1m4 0h1m2 0h1m37 0h1M24 63h1m32 0h1m6 0h1m23 0h1m49 0h1m2 0h1m3 0h1m16 0h1M2 64h1m3 0h1m18 0h1m16 0h1m44 0h1m3 0h1m1 0h1m29 0h1m9 0h1m8 0h1m7 0h1m8 0h1m5 0h1m26 0h1M17 65h1m29 0h1m1 0h1m32 0h1m8 0h1m1 0h1m47 0h1m17 0h1M41 66h1m4 0h1m3 0h2m5 0h1m8 0h1m33 0h1m4 0h1m3 0h1m6 0h1m3 0h2m5 0h1m46 0h1M36 67h1m13 0h1m1 0h1m19 0h1M8 68h1m12 0h1m20 0h1m15 0h1m54 0h1m18 0h1m27 0h1M6 69h1m6 0h1m5 0h2m32 0h1m72 0h1m10 0h1m1 0h1m20 0h1m3 0h1M15 70h2m6 0h1m12 0h1m38 0h1m15 0h1m16 0h1m16 0h2m1 0h1m10 0h1M10 71h1m4 0h1m1 0h1m13 0h1m9 0h1m72 0h1m4 0h1m21 0h1m33 0h1M16 72h1m3 0h2m33 0h1m36 0h2m47 0h1M10 73h1m15 0h2m9 0h1m1 0h1m4 0h1m5 0h1m1 0h1m46 0h1m21 0h1m5 0h1m15 0h1m13 0h1m7 0h1m28 0h1M11 74h1m14 0h1m36 0h1m46 0h1m39 0h1m8 0h1m1 0h1M11 75h1m2 0h1m2 0h1m15 0h1m6 0h1m2 0h1m11 0h1m16 0h1m34 0h1m28 0h2m23 0h1M1 76h2m1 0h1m12 0h1m32 0h1m30 0h1m37 0h1m6 0h1m11 0h1m7 0h1M12 77h1m5 0h1m11 0h1m6 0h1m7 0h1m4 0h1m37 0h1m56 0h1M4 78h1m9 0h1m11 0h1m7 0h1m9 0h1m7 0h1m50 0h1m14 0h1m33 0h1m5 0h1m12 0h1M3 79h1m11 0h1m1 0h1m14 0h1m4 0h1m2 0h1m112 0h1m4 0h1m10 0h1M22 80h1m8 0h1m5 0h1m73 0h1m24 0h1m10 0h1m16 0h1m1 0h1M5 81h1m7 0h1m9 0h1m112 0h1m32 0h1M79 82h1m37 0h1m19 0h1m8 0h1M2 83h1m13 0h1m4 0h1m14 0h1m1 0h1m4 0h1m1 0h1m138 0h1M93 84h1m55 0h1m7 0h2M1 85h1m15 0h2m50 0h1m19 0h1m21 0h1m21 0h1m14 0h1m29 0h1m7 0h1M4 86h1m10 0h1m9 0h1m5 0h1m24 0h1m49 0h1m18 0h1m15 0h1m53 0h1M14 87h1m6 0h1m11 0h1m2 0h2m91 0h1m17 0h1m2 0h1m4 0h2M2 88h1m3 0h1m7 0h1m1 0h1m35 0h1m92 0h1m22 0h1m9 0h1M2 89h1m8 0h1m4 0h1m7 0h1m6 0h1m11 0h1m120 0h1m10 0h1M6 90h1m38 0h1m7 0h1m97 0h3m24 0h1m3 0h1M11 91h3m109 0h1m20 0h2M21 92h1m3 0h1m2 0h1m79 0h1m26 0h1m5 0h2m24 0h1m10 0h1M1 93h1m27 0h1m9 0h1m101 0h1m18 0h1M11 94h2m3 0h1m5 0h1m23 0h2m70 0h1m18 0h1m22 0h2m3 0h1M14 95h1m1 0h1m14 0h1m2 0h1m3 0h1m98 0h1m1 0h1m4 0h1m17 0h2M3 96h1m7 0h1m1 0h1m6 0h1m7 0h1m7 0h1m12 0h1m14 0h1m75 0h1m11 0h1m5 0h2m14 0h1M4 97h1m23 0h1m14 0h1m99 0h2M3 98h1m14 0h1m4 0h1m10 0h1m97 0h1m27 0h1m24 0h1M6 99h1m17 0h2m9 0h1m71 0h1m19 0h1m27 0h1m39 0h1M2 100h1m6 0h1m128 0h2m10 0h1m5 0h1m10 0h1m2 0h1m2 0h1M18 101h1m118 0h1m38 0h1M14 102h1m6 0h1m29 0h1m77 0h1m12 0h1m7 0h1m4 0h1m4 0h1M13 103h1m7 0h1m4 0h1m127 0h1m1 0h1m11 0h1m3 0h1M8 104h1m156 0h1M13 105h1m13 0h1m8 0h1m2 0h1m2 0h1m89 0h1m38 0h1M15 106h1m3 0h1m14 0h1m4 0h1m6 0h1m58 0h1m12 0h1m11 0h2m6 0h1m9 0h1M9 107h1m3 0h2m89 0h1m30 0h1m38 0h1M0 108h1m4 0h1m27 0h2m1 0h2m90 0h1m27 0h1m4 0h1m14 0h1m20 0h1M10 109h1m16 0h1m87 0h1m9 0h1m66 0h1M0 110h1m9 0h1m8 0h1m1 0h1m33 0h1m19 0h1m59 0h1m7 0h1M13 111h1m4 0h1m24 0h1m114 0h1m19 0h1M46 112h1m3 0h1m80 0h1m21 0h1M11 113h1m33 0h2m6 0h1m81 0h1m19 0h1m16 0h1M0 114h1m13 0h1m5 0h3m7 0h1m9 0h1m17 0h1m23 0h1m58 0h1m6 0h1m19 0h1m14 0h1M28 115h1m4 0h1m4 0h1m33 0h1m1 0h1m38 0h1m9 0h2m20 0h1m4 0h1m29 0h2M4 116h3m2 0h1m9 0h1m3 0h1m10 0h1m116 0h1m2 0h1M0 117h1m7 0h1m8 0h2m4 0h1m29 0h1m11 0h1m57 0h1m28 0h1M16 118h1m13 0h1m1 0h1m11 0h1m7 0h1m80 0h1m4 0h1m1 0h1m14 0h1m16 0h1M2 119h2m1 0h1m5 0h1m10 0h1m3 0h1m5 0h1m1 0h1m29 0h1m37 0h1m5 0h1M8 120h1m28 0h1m98 0h1m20 0h1M6 121h1m12 0h1m21 0h1m7 0h1m54 0h1m2 0h1m14 0h1m15 0h1m9 0h1m39 0h1M0 122h1m6 0h1m26 0h1m5 0h1m55 0h1m17 0h1m16 0h1M2 123h1m4 0h1m6 0h1m10 0h1m5 0h1m20 0h1m67 0h1m7 0h1m1 0h1m36 0h1m12 0h1M22 124h1m2 0h1m15 0h2m22 0h1m56 0h1m6 0h1m20 0h1m12 0h1m9 0h1M44 125h1m18 0h1m93 0h1M14 126h1m36 0h1m15 0h1m13 0h1m18 0h1m12 0h1m20 0h1m15 0h1M0 127h1m6 0h1m6 0h1m6 0h2m3 0h1m1 0h1m2 0h2m2 0h1m30 0h1m1 0h1m8 0h1m3 0h1m17 0h2m62 0h1m3 0h1M16 128h2m16 0h1m18 0h1m23 0h1m7 0h1m34 0h2m37 0h1M24 129h1m2 0h1m6 0h1m4 0h1m16 0h1m4 0h1m12 0h1m64 0h1m11 0h1m1 0h1m24 0h1M42 130h1m5 0h1m2 0h1m2 0h1m12 0h1m20 0h1m14 0h1m55 0h1m19 0h1M18 131h1m24 0h1m8 0h1m9 0h1m61 0h1m4 0h1m55 0h1M0 132h1m17 0h1m3 0h1m4 0h1m16 0h1m20 0h1m28 0h1m6 0h1m53 0h1M24 133h1m4 0h1m9 0h1m29 0h1m3 0h1m29 0h1m1 0h1m20 0h1m28 0h1M5 134h1m4 0h1m7 0h1m4 0h1m1 0h1m1 0h1m13 0h1m56 0h1m7 0h1m6 0h1m17 0h1m4 0h1m2 0h1m12 0h1M11 135h2m10 0h1m1 0h1m3 0h1m11 0h1m68 0h1m7 0h2m2 0h1M28 136h1m4 0h1m7 0h1m13 0h2m2 0h1m36 0h1m5 0h1m4 0h1m1 0h1m6 0h1m9 0h1m5 0h1m8 0h1m8 0h1m1 0h1m3 0h1m10 0h1m2 0h1M1 137h1m15 0h1m5 0h1m7 0h1m20 0h1m7 0h1m1 0h1m35 0h1m4 0h1m2 0h2m51 0h1m1 0h1M33 138h1m15 0h1m1 0h1m19 0h2m31 0h1m15 0h1m6 0h1m8 0h1m12 0h1m3 0h1m17 0h1M11 139h1m14 0h1m1 0h1m1 0h2m14 0h1m72 0h1m13 0h1m8 0h1m41 0h1M49 140h1m9 0h1m44 0h1m2 0h1m3 0h1m3 0h1m9 0h1M14 141h1m1 0h1m11 0h1m1 0h1m2 0h1m49 0h1m30 0h1m17 0h1m13 0h1M29 142h1m12 0h1m58 0h1m17 0h1m9 0h1M7 143h1m20 0h1m11 0h1m4 0h1m51 0h1m5 0h1m18 0h1m4 0h1m20 0h1M30 144h1m43 0h1m58 0h1m1 0h1M24 145h1m2 0h1m6 0h1m2 0h1m14 0h1m62 0h1M11 146h1m34 0h1m47 0h1m4 0h1m26 0h2m23 0h1M15 147h1m8 0h1m6 0h1m4 0h1m1 0h1m6 0h1m8 0h1m34 0h1m18 0h1m16 0h1m6 0h1m25 0h1M24 148h1m22 0h1m17 0h1m3 0h1m2 0h1m24 0h1m9 0h1m8 0h1m5 0h1m19 0h1m18 0h1M31 149h1m6 0h1m10 0h1m36 0h1m51 0h1M9 150h2m13 0h1m9 0h1m1 0h1m8 0h1m3 0h1m1 0h1m16 0h1m1 0h1m15 0h1m3 0h1m12 0h1m3 0h1m34 0h1M50 151h1m4 0h1m37 0h1m8 0h1m6 0h1m12 0h1m9 0h1m26 0h1M23 152h1m14 0h1m4 0h1m22 0h1m3 0h1m6 0h1m1 0h1m5 0h1m28 0h1m36 0h1M20 153h1m33 0h1m15 0h1m15 0h1m1 0h2m3 0h1m10 0h1m16 0h1m25 0h1M15 154h1m7 0h1m26 0h1m23 0h1m32 0h1m9 0h1m36 0h1M48 155h1m5 0h1m8 0h1m4 0h1m4 0h1m13 0h1m17 0h1m18 0h1m4 0h1M41 156h1m10 0h1m1 0h1m6 0h1m22 0h2m28 0h1m8 0h1m11 0h1M11 157h1m5 0h1m33 0h1m6 0h1m5 0h1m18 0h1m15 0h1m9 0h1m10 0h1m9 0h1M28 158h1m11 0h1m1 0h1m27 0h1m6 0h1m2 0h1m20 0h1m4 0h1m1 0h1m35 0h1M35 159h1m6 0h1m12 0h1m10 0h1m9 0h1m3 0h1m16 0h1m17 0h1m1 0h1m12 0h2m22 0h1m12 0h1M39 160h1m11 0h1m22 0h1m30 0h1m23 0h1m2 0h1m27 0h1M23 161h1m4 0h1m2 0h1m17 0h2m1 0h1m11 0h1m17 0h1m8 0h1m39 0h1M5 162h1m4 0h1m14 0h1m15 0h1m3 0h1m6 0h1m4 0h1m26 0h1m6 0h1m2 0h1m30 0h1m1 0h1m8 0h1m34 0h1M33 163h1m9 0h1m20 0h1m21 0h1m6 0h2m21 0h1m23 0h1M28 164h1m20 0h1m6 0h1m21 0h1m1 0h1M15 165h1m31 0h1m25 0h1m10 0h1m14 0h1m1 0h1m1 0h1m26 0h1m27 0h2M36 166h1m2 0h2m14 0h1m4 0h1m33 0h1m4 0h1m55 0h1M42 167h1m7 0h1m26 0h1m28 0h1m46 0h1M16 168h1m29 0h1m30 0h2m11 0h1m5 0h1m4 0h1m2 0h1m1 0h1m17 0h1m3 0h1m16 0h1M150 169h1M52 170h1m22 0h1m12 0h1m4 0h2m31 0h1m19 0h1M39 171h1m2 0h1m16 0h1m4 0h1m11 0h1m4 0h1m16 0h1M38 172h1m28 0h1m45 0h1m1 0h1m5 0h1m1 0h1m1 0h1m2 0h1M18 173h1m66 0h1m11 0h1m2 0h1M35 174h1m18 0h1m6 0h1m2 0h1m28 0h1m18 0h1m26 0h1M36 175h1m14 0h1m35 0h1m2 0h1m5 0h1M50 176h1m34 0h1M95 177h1M10 178h1m14 0h1m15 0h1m5 0h1m19 0h1m4 0h1m8 0h1m2 0h1m7 0h1M73 179h2m4 0h1m1 0h1m22 0h1m3 0h1m9 0h1M20 180h1m66 0h1m14 0h1M12 181h1m85 0h1m15 0h1M19 182h1m39 0h1m9 0h1m22 0h1m50 0h1M10 183h1m58 0h1m18 0h1m9 0h1m6 0h1m24 0h1M27 184h1m23 0h1m8 0h1m25 0h1m51 0h1m23 0h1M57 185h2m43 0h1m6 0h1M4 186h1m36 0h1m11 0h1m2 0h1m21 0h1m3 0h1m54 0h1M23 187h1m29 0h1M43 188h1m5 0h1m15 0h1m12 0h1m6 0h1m4 0h1m3 0h1M26 189h1m3 0h1m23 0h1m18 0h1m6 0h1M57 190h1m5 0h1m12 0h1m35 0h1m1 0h1m1 0h1m11 0h1m29 0h1M4 191h1m31 0h1m44 0h1m3 0h1m8 0h1m6 0h1M72 192h1m41 0h1M52 193h1m40 0h1m12 0h1m17 0h1M23 194h1M82 196h1m35 0h1M70 197h1M2 198h1m33 0h1M68 199h1m10 0h1m51 0h1"/>
<path stroke="#0e8fd1" d="M70 2h1M78 4h1m43 0h1M76 5h1M40 6h1M43 7h1m49 0h1M162 8h1M48 10h1m5 0h1m8 0h1m1 0h1m21 0h1M61 11h1m47 0h1m18 0h1M103 12h1M62 13h1m34 0h1m4 0h1M111 14h1M48 15h1m19 0h1m1 0h1m23 0h1m10 0h1m11 0h1M18 16h1m70 0h1m3 0h1M8 17h1m38 0h1M64 18h1m32 0h1m8 0h1M73 19h1M108 20h2M77 21h1m20 0h1m23 0h1M38 22h1m1 0h1m44 0h1M22 23h1m32 0h1m19 0h1m21 0h1m36 0h1m9 0h1M28 24h1m6 0h1m8 0h1m13 0h1m26 0h1m5 0h1m2 0h1m42 0h1M57 25h1m2 0h1m21 0h1m7 0h1m3 0h1m6 0h1m6 0h1M70 26h2m43 0h1M49 27h1m13 0h1m3 0h1m4 0h1m7 0h1m1 0h1m16 0h1m65 0h1M60 28h1m20 0h1m10 0h1m3 0h1m13 0h1m1 0h1m43 0h1M10 29h1m8 0h1m26 0h1m5 0h1m16 0h1m10 0h1m4 0h1m5 0h1m3 0h1m2 0h1m3 0h1m6 0h1m13 0h1m36 0h1M49 30h1m26 0h1m4 0h1m7 0h2m1 0h1m2 0h1m2 0h1M8 31h1m63 0h1m5 0h1m20 0h2m5 0h1m8 0h1m2 0h1m2 0h1M20 32h1m38 0h1m1 0h1m3 0h1m18 0h1m8 0h1m2 0h1m12 0h1m17 0h1m27 0h1M41 33h1m10 0h1m2 0h1m36 0h1m7 0h1m1 0h1m3 0h1m9 0h2m1 0h1m2 0h1M7 34h1m52 0h1m24 0h1m14 0h1m3 0h1m4 0h1M17 35h1m97 0h1m13 0h1m6 0h1M28 36h1m3 0h1m40 0h1m15 0h1m2 0h1m1 0h1m1 0h1m14 0h1m6 0h1m10 0h2m13 0h1M4 37h1m24 0h1m3 0h1m5 0h1m16 0h1m3 0h1m1 0h1m20 0h1m8 0h1m6 0h1m2 0h1m22 0h1m16 0h1m34 0h1M26 38h1m12 0h1m20 0h1m10 0h2m48 0h1m15 0h1M23 39h1m8 0h1m3 0h1m24 0h1m1 0h1m3 0h1m12 0h1m19 0h1M11 40h1m13 0h1m3 0h2m29 0h3m15 0h1m15 0h1m1 0h1m21 0h1m15 0h1M19 41h1m6 0h1m48 0h1m4 0h1m6 0h2m6 0h1m14 0h1m4 0h1m1 0h1M9 42h1m18 0h1m31 0h1m19 0h1m16 0h1m2 0h1m6 0h1m8 0h1m3 0h1m47 0h1M78 43h1m14 0h1m9 0h1m2 0h2m4 0h1m15 0h1M7 44h1m7 0h1m27 0h1m2 0h1m11 0h1m4 0h1m2 0h1m43 0h1m1 0h1m7 0h1m12 0h1m7 0h1m41 0h1M19 45h1m1 0h1m18 0h1m33 0h1m9 0h4m6 0h1m16 0h1m5 0h1m12 0h1m2 0h1M39 46h1m5 0h3m4 0h1m1 0h1m8 0h1m4 0h1m6 0h1m12 0h1m18 0h1m7 0h1m17 0h1m11 0h1M5 47h1m18 0h1m13 0h1m11 0h1m7 0h1m2 0h1m7 0h1m17 0h1m10 0h1m3 0h1m35 0h1M3 48h1m17 0h1m19 0h1m2 0h1m2 0h1m14 0h1m7 0h1m65 0h1m8 0h1m2 0h1M6 49h1m27 0h1m14 0h1m8 0h1m10 0h1m7 0h1m8 0h1m18 0h1m24 0h1M17 50h1m20 0h1m11 0h1m7 0h1m14 0h1m32 0h1m10 0h1m2 0h1m11 0h1m8 0h1m8 0h1m6 0h1M11 51h1m6 0h1m17 0h1m7 0h1m8 0h1m8 0h1m2 0h1m16 0h1m6 0h1m5 0h1m2 0h2m1 0h1m6 0h1m9 0h1M18 52h1m10 0h1m2 0h1m34 0h1m1 0h1m10 0h1m18 0h1m7 0h1m12 0h1m15 0h1M1 53h1m24 0h1m11 0h1m2 0h2m27 0h2m8 0h1m1 0h2m6 0h1m9 0h1m18 0h2m9 0h1m13 0h1M10 54h1m10 0h1m33 0h1m2 0h1m3 0h1m6 0h1m2 0h1m1 0h1m29 0h1m6 0h1m2 0h1m3 0h1m8 0h1m13 0h1m19 0h1M7 55h1m28 0h1m30 0h1m10 0h1m21 0h1m42 0h1m4 0h1m2 0h1M15 56h1m19 0h1m20 0h1m2 0h1m25 0h1m19 0h1m9 0h2m4 0h1m2 0h1m7 0h1m10 0h1M8 57h1m39 0h1m6 0h1m1 0h1m11 0h1m17 0h1m28 0h1m3 0h1m2 0h1m3 0h1m1 0h1m9 0h1m5 0h1m35 0h1M19 58h1m12 0h1m4 0h1m27 0h1m17 0h1m15 0h2m13 0h1m24 0h1m1 0h1M14 59h1m7 0h1m25 0h1m19 0h2m4 0h1m21 0h1m4 0h1m30 0h1m1 0h1m5 0h1m2 0h1m11 0h1M1 60h1m4 0h1m14 0h1m12 0h1m7 0h1m12 0h1m76 0h1m12 0h1m5 0h1M9 61h1m20 0h1m15 0h1m12 0h1m7 0h1m3 0h1m17 0h2m1 0h1m4 0h1m6 0h4m13 0h2m3 0h1m35 0h1m9 0h1m1 0h1M26 62h1m4 0h2m30 0h1m19 0h1m3 0h1m11 0h2m15 0h1m10 0h1m59 0h1M15 63h1m2 0h1m30 0h4m1 0h1m18 0h1m2 0h1m4 0h1m32 0h1m3 0h1m11 0h1m8 0h1m10 0h1M0 64h1m10 0h1m1 0h1m9 0h1m16 0h1m12 0h1m54 0h1m17 0h1m7 0h1m9 0h1m10 0h1m2 0h1m10 0h1M21 65h1m18 0h1m17 0h1m1 0h1m6 0h1m13 0h1m34 0h1m3 0h1m8 0h1m15 0h1m9 0h1m2 0h1M5 66h1m19 0h1m1 0h1m3 0h1m3 0h1m17 0h1m16 0h1m15 0h1m15 0h1m28 0h1m15 0h1M19 67h1m7 0h1m6 0h1m3 0h1m19 0h2m5 0h1m25 0h1m37 0h1m32 0h1m16 0h1M22 68h1m6 0h1m4 0h1m5 0h1m2 0h1m4 0h1m5 0h1m5 0h1m14 0h1m2 0h1m14 0h1m3 0h1m8 0h1m2 0h1m15 0h2m14 0h2m9 0h1m13 0h1M5 69h1m12 0h1m12 0h1m5 0h1m2 0h2m3 0h1m1 0h1m18 0h1m15 0h1m10 0h1m31 0h1m5 0h1m1 0h1m6 0h1m4 0h1m21 0h1m11 0h1M13 70h1m3 0h1m4 0h1m18 0h1m22 0h1m76 0h1m25 0h1M9 71h1m18 0h1m5 0h1m10 0h1m17 0h1m4 0h1m12 0h1m43 0h1m7 0h1m13 0h1m10 0h1m28 0h1M1 72h2m3 0h1m7 0h1m9 0h1m7 0h2m11 0h1m57 0h1m17 0h1m33 0h1M4 73h1m6 0h1m5 0h2m9 0h1m9 0h1m19 0h1m8 0h1m67 0h1m4 0h1M19 74h3m3 0h1m1 0h1m10 0h1m7 0h1m27 0h1m39 0h1m33 0h1M3 75h1m15 0h1m3 0h2m5 0h1m10 0h1m53 0h1m19 0h1m10 0h1m2 0h1m12 0h1m21 0h1m2 0h1M25 76h1m15 0h1m69 0h1m29 0h1m16 0h1M21 77h1m6 0h1m2 0h1m4 0h1m1 0h1m9 0h1m38 0h1m11 0h1m23 0h1m9 0h1m32 0h1M29 78h1m6 0h1m1 0h1m18 0h1m57 0h1m9 0h1m1 0h1m13 0h1m4 0h1m12 0h1M1 79h1m19 0h1m4 0h1m6 0h1m83 0h1m8 0h1m8 0h2m25 0h1m14 0h1m3 0h1M26 80h1m2 0h1m5 0h1m32 0h1m48 0h1m8 0h1m4 0h1m2 0h2m12 0h1m18 0h1M10 81h1m5 0h1m4 0h1m7 0h1m32 0h1m10 0h1m45 0h1m30 0h1m10 0h1m23 0h1M24 82h1m2 0h1m6 0h1m9 0h1m17 0h1m5 0h1m30 0h1m8 0h1m12 0h2m3 0h1m3 0h1m1 0h1m5 0h1m1 0h1m2 0h1M30 83h1m17 0h1m57 0h1m2 0h2m15 0h1m4 0h1m5 0h1m22 0h1M12 84h1m6 0h1m4 0h1m5 0h1m1 0h1m25 0h2m20 0h1m22 0h1m13 0h1m34 0h1m1 0h1m40 0h1M14 85h1m9 0h1m8 0h1m15 0h1m11 0h1m3 0h1m31 0h1m25 0h1m6 0h1m6 0h1m6 0h1m1 0h1m7 0h1M2 86h1m3 0h1m9 0h1m10 0h1m1 0h1m3 0h1m7 0h1m5 0h1m7 0h1m37 0h1m3 0h1m19 0h1m12 0h1m5 0h1m22 0h1M7 87h1m88 0h1m25 0h1m18 0h1m17 0h1m12 0h2M8 88h1m8 0h1m31 0h1m1 0h1m2 0h1m2 0h1m31 0h1m26 0h1m32 0h1m4 0h1m4 0h1m13 0h1M19 89h1m6 0h2m6 0h3m81 0h1m5 0h1m1 0h1m2 0h1m11 0h1m14 0h1m3 0h1M5 90h1m8 0h1m1 0h2m12 0h1m6 0h2m1 0h1m7 0h1m15 0h1m53 0h1m1 0h1m1 0h1m20 0h1m5 0h1m16 0h1m28 0h1M21 91h1m2 0h1m6 0h1m2 0h1m2 0h1m4 0h1m19 0h1m14 0h1m26 0h1m24 0h1m17 0h1M34 92h2m2 0h1m2 0h1m4 0h1m5 0h1m76 0h1m10 0h1M6 93h1m101 0h1m14 0h1m23 0h1m15 0h1m1 0h1M8 94h1m15 0h1m5 0h1m4 0h1m7 0h1m18 0h1m9 0h1m3 0h1m75 0h1m11 0h1m5 0h1m3 0h1M1 95h1m8 0h1m2 0h1m3 0h1m25 0h1m1 0h1m11 0h1m13 0h1m45 0h1m24 0h1m4 0h1m6 0h1m3 0h2m6 0h1m18 0h1M1 96h1m5 0h1m9 0h1m6 0h1m21 0h1m3 0h1m1 0h1m17 0h1m49 0h1m10 0h1m15 0h1m3 0h1m2 0h1m11 0h1m10 0h1m4 0h2M20 97h2m3 0h1m19 0h1m136 0h1M9 98h2m24 0h2m88 0h1m9 0h1M2 99h1m10 0h1m7 0h2m21 0h1m87 0h1m33 0h1m23 0h1M3 100h1m14 0h1m1 0h1m20 0h1m3 0h1m8 0h1m15 0h1m42 0h1m40 0h1m16 0h2M6 101h1m23 0h1m10 0h1m1 0h1m12 0h1m112 0h1m3 0h1M17 102h1m2 0h1m7 0h2m3 0h2m19 0h1m46 0h1m4 0h1m41 0h1m7 0h1m1 0h1m9 0h2M4 103h1m6 0h1m6 0h1m5 0h1m26 0h1m115 0h1M6 104h1m2 0h1m3 0h1m9 0h1m3 0h1m13 0h1m3 0h1m54 0h1m21 0h1m7 0h1m5 0h1m3 0h1m5 0h1m14 0h1m10 0h1M7 105h1m10 0h1m4 0h1m19 0h1m1 0h1m64 0h1m6 0h1m9 0h1m7 0h1m8 0h1m14 0h1M20 106h1m10 0h1m4 0h1m91 0h1m12 0h1m2 0h1m32 0h1M15 107h2m7 0h1m1 0h1m15 0h1m2 0h1m21 0h1m11 0h1m9 0h1m32 0h1m27 0h1M3 108h1m15 0h1m10 0h1m24 0h1m4 0h1m52 0h2m11 0h1m4 0h1m9 0h1m8 0h1m12 0h1m18 0h1M7 109h1m1 0h1m8 0h1m5 0h1m1 0h1m87 0h1m4 0h1m9 0h1m4 0h1m2 0h1M7 110h1m1 0h1m22 0h2m9 0h1m27 0h1m6 0h1m26 0h1m10 0h1m29 0h1m6 0h1m10 0h1M8 111h1m7 0h1m4 0h2m2 0h1m9 0h1m5 0h1m4 0h1m23 0h1m65 0h6m9 0h1m8 0h1m1 0h1M16 112h1m2 0h1m9 0h1m17 0h2m10 0h1m9 0h1m69 0h1m9 0h1m39 0h1M14 113h1m4 0h1m4 0h1m3 0h1m3 0h1m5 0h1m5 0h1m6 0h1m43 0h1m24 0h1m37 0h1M1 114h1m2 0h1m10 0h1m33 0h2m54 0h1m8 0h1m2 0h2m2 0h1m44 0h1m8 0h1M26 115h1m9 0h1m10 0h1m20 0h1m30 0h1m6 0h1m32 0h1m1 0h1m24 0h1m1 0h1M2 116h1m4 0h1m9 0h1m6 0h1m11 0h1m9 0h1m2 0h1m77 0h1m9 0h1m1 0h1m2 0h1m16 0h1m22 0h1M21 117h1m10 0h1m7 0h1m7 0h1m8 0h1m34 0h1m4 0h1m32 0h1m10 0h1m8 0h1m8 0h1M0 118h1m32 0h2m7 0h1m25 0h1m9 0h1m28 0h1m5 0h1m1 0h1m5 0h1m27 0h1m13 0h1M14 119h1m9 0h1m14 0h1m4 0h1m2 0h1m8 0h1m3 0h1m20 0h1m16 0h1m24 0h1m4 0h1m19 0h1m3 0h1m9 0h1M6 120h1m19 0h1m22 0h1m11 0h1m4 0h1m34 0h1m17 0h1m4 0h1m6 0h1m18 0h1m44 0h1M0 121h1m20 0h1m10 0h1m1 0h2m3 0h1m13 0h1m6 0h1m51 0h1m22 0h3m5 0h1M21 122h1m5 0h1m14 0h1m2 0h1m9 0h1m14 0h1m45 0h1m18 0h2m9 0h1m1 0h1m10 0h1M10 123h1m17 0h1m1 0h1m2 0h1m2 0h1m13 0h1m4 0h1m4 0h1m11 0h1m5 0h1m31 0h1m10 0h1m1 0h1m2 0h1m21 0h1M8 124h1m8 0h1m12 0h1m7 0h1m4 0h2m3 0h1m23 0h1m17 0h1m16 0h1m2 0h1m2 0h1m7 0h1m19 0h1m1 0h1m5 0h1M23 125h1m6 0h1m2 0h1m1 0h2m21 0h1m13 0h1m17 0h1m4 0h1m1 0h1m23 0h1m7 0h1m4 0h1m11 0h1m5 0h1M4 126h1m27 0h1m1 0h1m8 0h2m5 0h1m4 0h1m32 0h1m6 0h1m65 0h1M3 127h2m6 0h1m6 0h1m5 0h1m13 0h1m39 0h1m26 0h1m12 0h1m4 0h1m3 0h1m11 0h1m35 0h1M24 128h1m1 0h1m12 0h1m7 0h1m18 0h1m17 0h1m9 0h1m2 0h1m16 0h1m25 0h1m24 0h1m4 0h1M3 129h1m42 0h1m1 0h1m2 0h1m52 0h1m26 0h1m1 0h2m6 0h1m4 0h1m3 0h1m1 0h1m5 0h1M0 130h1m15 0h1m30 0h1m52 0h1m16 0h2m4 0h1m5 0h1m8 0h1m48 0h1M2 131h2m4 0h1m2 0h1m4 0h1m2 0h1m5 0h1m1 0h1m9 0h1m1 0h1m9 0h2m7 0h1m12 0h1m14 0h1m2 0h2m26 0h1m23 0h1m3 0h1m27 0h1M3 132h1m2 0h1m6 0h1m10 0h1m12 0h1m14 0h1m11 0h1m6 0h1m1 0h1m6 0h2m25 0h1m17 0h1m11 0h1m3 0h1m8 0h1m5 0h1m11 0h1M6 133h1m9 0h1m16 0h1m6 0h1m8 0h1m9 0h1m15 0h1m35 0h1m2 0h1m64 0h2M29 134h1m5 0h1m61 0h1m32 0h1m3 0h1M5 135h1m11 0h1m2 0h1m11 0h1m3 0h1m21 0h1m11 0h1m13 0h1m1 0h1m5 0h1m1 0h1m19 0h1m5 0h2m7 0h1m1 0h1m37 0h1M2 136h1m17 0h1m1 0h2m10 0h1m5 0h1m13 0h1m2 0h1m55 0h1M18 137h1m9 0h1m1 0h1m5 0h1m5 0h1m2 0h1m3 0h1m15 0h1m46 0h1m8 0h1m15 0h1m11 0h1M22 138h1m20 0h1m16 0h1m14 0h1m18 0h1m6 0h1m30 0h1m33 0h1m2 0h1M1 139h1m16 0h1m4 0h1m10 0h1m1 0h2m1 0h1m18 0h1m8 0h1m43 0h1m9 0h1m4 0h1m1 0h1m61 0h1M16 140h1m13 0h1m3 0h1m20 0h1m26 0h1m4 0h1m2 0h1m63 0h1m3 0h1M19 141h1m12 0h1m5 0h1m7 0h1m11 0h2m13 0h1m16 0h1m11 0h1m1 0h1m31 0h1M0 142h1m11 0h1m3 0h1m2 0h2m25 0h1m24 0h1m12 0h1m11 0h1m25 0h1m1 0h1m17 0h3M12 143h1m1 0h1m7 0h1m4 0h1m11 0h1m1 0h1m14 0h1m8 0h1m13 0h1m13 0h1m7 0h1m13 0h1m2 0h1m1 0h1m15 0h1M20 144h1m6 0h1m11 0h1m9 0h1m39 0h1m12 0h2m15 0h1m11 0h1m14 0h1m5 0h1M10 145h1m2 0h1m1 0h1m7 0h1m7 0h1m14 0h1m1 0h1m7 0h1m3 0h1m4 0h1m7 0h1m13 0h1m7 0h1m3 0h3m6 0h2m11 0h1m6 0h1m11 0h1m13 0h1m6 0h1m5 0h1M4 146h1m5 0h1m6 0h1m5 0h1m2 0h1m1 0h2m2 0h1m1 0h1m25 0h1m7 0h1m3 0h1m14 0h1m21 0h1m29 0h1m12 0h2m7 0h1M40 147h1m8 0h1m8 0h1m11 0h1m1 0h1m4 0h1m50 0h1m7 0h1m1 0h1m10 0h1M0 148h1m30 0h2m5 0h1m5 0h1m19 0h1m12 0h1m1 0h1m4 0h1m1 0h1m7 0h1m4 0h1m3 0h2m29 0h1M0 149h1m18 0h1m14 0h1m5 0h1m6 0h1m20 0h1m3 0h1m4 0h1m3 0h1m15 0h1m1 0h1m4 0h2m2 0h1m5 0h1m2 0h1m5 0h1m35 0h1M22 150h1m7 0h1m1 0h1m14 0h2m5 0h1m5 0h2m21 0h1m14 0h1m24 0h1m4 0h1m2 0h1M20 151h1m3 0h2m10 0h1m7 0h1m4 0h1m1 0h2m23 0h1m2 0h1m23 0h2m11 0h1m3 0h1m19 0h1m5 0h1m4 0h1M3 152h1m17 0h1m9 0h1m13 0h2m3 0h1m5 0h1m4 0h1m2 0h1m2 0h1m20 0h1m3 0h1m24 0h1m19 0h1M32 153h1m10 0h1m1 0h1m10 0h1m4 0h1m7 0h1m3 0h1m1 0h1m11 0h1m17 0h1m3 0h1m45 0h1M31 154h1m17 0h1m8 0h1m28 0h1m34 0h1m1 0h1m6 0h1m7 0h3M37 155h1m13 0h1m14 0h1m15 0h2m11 0h1m1 0h1m1 0h1m9 0h2m1 0h1m3 0h1m42 0h1M1 156h1m13 0h1m7 0h1m4 0h1m2 0h1m3 0h1m6 0h1m25 0h1m13 0h1m7 0h1m3 0h1m6 0h1m6 0h2m2 0h1m7 0h1m18 0h1m28 0h1M2 157h1m2 0h1m28 0h1m12 0h1m2 0h1m16 0h1m19 0h1m16 0h1m5 0h1m30 0h1M10 158h1m8 0h1m23 0h1m47 0h1m1 0h1m5 0h1m2 0h1m12 0h1m14 0h1m8 0h1m5 0h1m35 0h1M24 159h1m62 0h1m31 0h1M10 160h1m32 0h1m11 0h1m9 0h1m10 0h1m7 0h1m2 0h1m23 0h1m6 0h2m17 0h1m12 0h1M16 161h1m9 0h1m5 0h2m55 0h1m29 0h1m2 0h1m2 0h1m26 0h1M35 162h1m10 0h1m6 0h1m9 0h1m4 0h1m4 0h1m24 0h1m3 0h1m5 0h1m15 0h1m1 0h1m24 0h1m24 0h1M19 163h1m42 0h1m10 0h1m8 0h1m4 0h1m11 0h1m2 0h1m7 0h1m14 0h1m22 0h1M5 164h1m17 0h1m11 0h1m12 0h1m13 0h1m2 0h1m4 0h1m30 0h1m2 0h1m14 0h1m8 0h1M8 165h1m14 0h1m7 0h1m3 0h1m6 0h1m14 0h1m22 0h1m9 0h1m7 0h1m41 0h2M46 166h1m20 0h1m9 0h1m18 0h1m8 0h2m5 0h1m32 0h1M13 167h1m6 0h1m13 0h1m1 0h1m3 0h1m11 0h2m14 0h1m2 0h1m1 0h1m15 0h1m6 0h1m2 0h1m10 0h1m70 0h1M23 168h1m7 0h1m6 0h1m5 0h1m25 0h1m28 0h1m2 0h1m6 0h1m32 0h1M21 169h1m12 0h1m1 0h1m12 0h1m42 0h1M38 170h1m8 0h1m9 0h1m11 0h1m6 0h2m7 0h1m3 0h1m28 0h1m54 0h1M53 171h1m8 0h2m9 0h1m3 0h2m11 0h1m15 0h1m29 0h1M27 172h1m6 0h1m8 0h1m7 0h1m45 0h1m1 0h1M16 173h1m5 0h1m10 0h1m6 0h1m1 0h1m20 0h2m19 0h1m17 0h2m10 0h1m13 0h1M28 174h1m20 0h2m5 0h1m5 0h1m6 0h1m21 0h1m13 0h1m9 0h1m29 0h1M32 176h1m7 0h1m10 0h1m14 0h1m13 0h1m16 0h1m16 0h1M37 177h1m1 0h1m8 0h1m16 0h1m6 0h2m15 0h1M13 178h1m5 0h1m25 0h1m9 0h1m64 0h1M54 179h1m3 0h1m23 0h1m20 0h1m20 0h1m22 0h1M46 180h1m3 0h1m84 0h1m23 0h1M46 181h1m18 0h1m8 0h1m12 0h1m1 0h1m7 0h1m9 0h1m18 0h1M39 182h1m10 0h1m6 0h1m8 0h1m39 0h1m8 0h1m6 0h1M70 183h1M58 184h2m14 0h1m3 0h1m8 0h1M49 185h1m10 0h1m2 0h1m15 0h1m13 0h1m54 0h1M7 186h1m53 0h1m5 0h1m18 0h1m9 0h1m43 0h1M92 187h1m43 0h1M40 188h1m5 0h1m110 0h1M34 189h1m44 0h1m4 0h1M60 190h1m29 0h1m20 0h1m5 0h1M67 191h1m14 0h1m46 0h1m28 0h1M17 192h1m55 0h1m52 0h1m8 0h1m7 0h1M63 193h1M40 194h1m4 0h1m6 0h1M46 195h1m27 0h1M17 196h1m36 0h1M71 197h1M35 198h1m26 0h1m14 0h1"/>
<path stroke="#099dcc" d="M16 0h1m48 0h1m63 0h1M179 3h1M87 4h1M26 5h1m52 0h2m43 0h1M18 6h1M66 8h1m2 0h1m36 0h1M91 9h1m3 0h1M62 10h1m53 0h1m3 0h1M29 11h1m34 0h1m6 0h1M55 12h1m27 0h1M40 13h1m54 0h1m64 0h1M18 14h1m82 0h1M16 15h1m12 0h1m108 0h1M58 16h1M25 17h1m37 0h1m19 0h1m25 0h1M1 18h1M30 19h1m49 0h1M82 20h1M42 21h1m16 0h1m33 0h1m17 0h1M56 22h1m6 0h1m3 0h1m47 0h1m1 0h1m41 0h1m21 0h1M0 23h1m44 0h1M33 24h1m46 0h1m16 0h1m8 0h1M45 25h1m34 0h1M27 26h1m44 0h1m13 0h1m57 0h1M32 27h2m9 0h1m59 0h1m3 0h1m17 0h1M40 28h1m3 0h1m21 0h1m18 0h1m4 0h1m13 0h1M22 29h2m21 0h1m38 0h1m3 0h1m25 0h1m11 0h1m27 0h1M46 30h1m47 0h1m9 0h2m16 0h1M37 31h1m8 0h1m6 0h1m12 0h1m1 0h1m14 0h1m5 0h1m23 0h1M12 32h1m31 0h1m5 0h1m16 0h1m11 0h1m1 0h1m24 0h1m28 0h1M4 33h1m22 0h1m20 0h1m20 0h1m6 0h1m31 0h1m4 0h1m14 0h1m39 0h1M3 34h1m27 0h1m17 0h1m5 0h1m5 0h1m2 0h1m10 0h3m23 0h1m1 0h1m17 0h1M66 35h1m6 0h1m17 0h1m26 0h1M31 36h1m14 0h1m43 0h1m4 0h1m8 0h1m9 0h1m30 0h1M20 37h1m10 0h1m16 0h1m10 0h1m15 0h1m3 0h1m21 0h1m20 0h1M34 38h1m1 0h1m15 0h1m4 0h1m1 0h1m14 0h1m7 0h1m3 0h1m33 0h1M40 39h1m43 0h1m20 0h1m17 0h1m3 0h1m41 0h1M44 40h1m3 0h1m22 0h1m7 0h1m3 0h1m7 0h1m5 0h1m4 0h1m12 0h1m4 0h1m16 0h1m1 0h1M27 41h1m18 0h1m13 0h1m7 0h1m22 0h1m22 0h1m20 0h1m11 0h1m36 0h1M11 42h1m11 0h1m5 0h1m28 0h1m2 0h1m30 0h1m17 0h1M29 43h1m2 0h1m13 0h1m1 0h1m3 0h1m4 0h1m4 0h2m1 0h1m7 0h1m3 0h1m8 0h1m21 0h1M20 44h1m2 0h1m35 0h1m20 0h1m9 0h1m3 0h1m8 0h1m3 0h1m23 0h1M29 45h1m1 0h1m6 0h1m11 0h1m2 0h1m1 0h1m27 0h1m12 0h1m8 0h2m35 0h1m52 0h1M22 46h1m20 0h2m13 0h1m7 0h1m24 0h1m26 0h1m4 0h1m1 0h1m2 0h1m17 0h1M9 47h1m3 0h1m11 0h1m21 0h2m14 0h1m2 0h2m36 0h1m1 0h3m9 0h1M52 48h1m24 0h1m1 0h1m5 0h1m3 0h1m2 0h1m2 0h1m1 0h1m14 0h1m4 0h1m4 0h1M26 49h1m5 0h1m3 0h1m1 0h1m7 0h2m5 0h1m1 0h1m5 0h1m9 0h2m1 0h1m3 0h1m11 0h1m2 0h1m7 0h1m2 0h1m1 0h1m4 0h1m14 0h1m31 0h1M18 50h1m11 0h1m5 0h1m5 0h1m24 0h1m8 0h1m7 0h1m22 0h1m7 0h1m37 0h1m8 0h1M17 51h1m11 0h1m8 0h1m9 0h1m8 0h1m18 0h1m11 0h1m11 0h1m3 0h2m14 0h1m10 0h1m22 0h1M37 52h1m32 0h1m6 0h1m1 0h1m31 0h1m11 0h1m9 0h1m14 0h1M11 53h1m1 0h1m20 0h1m1 0h1m9 0h1m2 0h1m15 0h1m10 0h1m2 0h1m1 0h1m20 0h2m22 0h1m47 0h1M9 54h1m22 0h2m18 0h1m1 0h1m4 0h1m10 0h1m7 0h1m4 0h1m39 0h1m26 0h1M13 55h1m11 0h1m1 0h1m3 0h2m2 0h1m8 0h1m8 0h1m8 0h1m21 0h1m14 0h1m3 0h1m11 0h1m4 0h1m2 0h1m7 0h1m9 0h1M12 56h1m4 0h1m33 0h1m12 0h1m4 0h1m4 0h1m5 0h1m8 0h2m12 0h1m6 0h1m7 0h1m1 0h1m6 0h2m5 0h1m5 0h1m57 0h1M4 57h1m4 0h1m14 0h1m24 0h1m60 0h1m7 0h2m2 0h1m12 0h1m2 0h1M21 58h1m6 0h1m22 0h1m3 0h1m4 0h1m14 0h1m2 0h1m3 0h1m12 0h1m8 0h1m5 0h1m9 0h1m6 0h1m15 0h1M18 59h1m8 0h2m7 0h1m1 0h1m2 0h1m10 0h1m14 0h1m2 0h1m7 0h1m3 0h1m19 0h1m1 0h1m15 0h1m2 0h1m30 0h1m2 0h1m30 0h1M7 60h2m6 0h1m6 0h1m8 0h1m34 0h1m6 0h1m9 0h1m4 0h1m12 0h1m6 0h2m1 0h1m8 0h2m3 0h1m45 0h1M13 61h1m6 0h1m15 0h1m12 0h1m1 0h1m43 0h1m27 0h1m8 0h3m8 0h1m6 0h1M4 62h1m34 0h1m2 0h1m9 0h1m13 0h1m22 0h2m3 0h1m2 0h1m21 0h1m6 0h1m6 0h1m2 0h2m6 0h1m8 0h1m8 0h1M5 63h1m6 0h1m16 0h1m28 0h2m7 0h2m6 0h1m2 0h2m5 0h1m1 0h1m8 0h1m5 0h1m3 0h1m2 0h1m5 0h1m17 0h1m24 0h3M16 64h1m5 0h1m10 0h1m7 0h1m2 0h1m4 0h1m2 0h1m9 0h1m5 0h1m44 0h1m22 0h1m4 0h1M1 65h1m11 0h2m8 0h1m3 0h1m6 0h1m2 0h1m13 0h1m4 0h1m49 0h1m18 0h1m1 0h1m36 0h2M10 66h1m2 0h1m3 0h1m2 0h1m7 0h2m3 0h2m25 0h1m14 0h1m13 0h1m7 0h1m39 0h1m4 0h1m33 0h1M23 67h1m47 0h1m6 0h1m10 0h1m35 0h1m12 0h1m20 0h1m3 0h1M0 68h1m27 0h1m2 0h1m4 0h1m2 0h1m6 0h1m3 0h1m15 0h1m19 0h1m16 0h1m8 0h1m5 0h1m5 0h1m14 0h1M0 69h1m10 0h1m2 0h1m18 0h1m2 0h1m9 0h1m7 0h1m7 0h1m8 0h1m24 0h1m16 0h1m13 0h1M0 70h1m26 0h1m9 0h1m13 0h1m9 0h1m12 0h1m27 0h1m2 0h1m31 0h1m2 0h1M5 71h1m13 0h1m22 0h2m16 0h1m10 0h1m2 0h1m15 0h1m37 0h1m1 0h1m1 0h1m6 0h1m19 0h1m12 0h1M12 72h1m28 0h1m9 0h2m5 0h1m5 0h1m1 0h1m5 0h1m6 0h1m2 0h1m29 0h1m18 0h1m20 0h1m5 0h1m27 0h1m7 0h1M19 73h1m23 0h1m25 0h1m6 0h1m7 0h1m3 0h1m41 0h1m6 0h2m3 0h1m18 0h1m26 0h1M29 74h1m3 0h1m1 0h1m3 0h1m2 0h1m22 0h1m37 0h1m8 0h1m4 0h1m4 0h1m4 0h1m6 0h1m11 0h1m28 0h1m3 0h2M34 75h2m11 0h1m13 0h1m9 0h1m18 0h1m1 0h1m16 0h2m5 0h1m11 0h1m16 0h1m2 0h2m40 0h1M16 76h1m4 0h1m2 0h1m2 0h1m9 0h1m8 0h1m5 0h1m3 0h1m4 0h1m34 0h1m16 0h1m41 0h1M41 77h1m7 0h1m14 0h1m8 0h1m9 0h1m18 0h1m8 0h1m19 0h1m9 0h1m6 0h1m1 0h1M16 78h1m3 0h1m19 0h1m1 0h2m1 0h1m3 0h1m23 0h1m31 0h1m11 0h1m19 0h1m10 0h1M25 79h1m3 0h1m17 0h1m8 0h1m10 0h1m54 0h1m26 0h2m13 0h1m5 0h1M12 80h1m11 0h1m2 0h1m5 0h1m4 0h1m6 0h1m3 0h1m8 0h1m30 0h1m60 0h1M4 81h1m7 0h1m39 0h1m4 0h1m10 0h1m30 0h1m37 0h1m2 0h2m22 0h1M11 82h1m2 0h1m5 0h1m2 0h1m9 0h1m5 0h1m5 0h1m36 0h1m6 0h1m20 0h1m34 0h1m2 0h2m6 0h1m6 0h1m1 0h1M10 83h1m11 0h2m2 0h1m15 0h1m7 0h1m9 0h1m9 0h1m34 0h1m11 0h1m11 0h1m3 0h1m1 0h1m6 0h1m13 0h1M41 84h1m12 0h2m54 0h1m30 0h1m4 0h1m4 0h1m4 0h1M3 85h1m6 0h1m4 0h1m3 0h1m1 0h1m6 0h1m10 0h1m1 0h1m1 0h1m32 0h1m42 0h1m1 0h1m13 0h1M9 86h1m9 0h1m6 0h1m10 0h1m13 0h1m7 0h1m1 0h1m77 0h1m42 0h1M5 87h1m6 0h1m3 0h2m4 0h1m8 0h2m10 0h1m6 0h1m21 0h1m15 0h1m1 0h1m40 0h1m13 0h2m1 0h1m4 0h1m16 0h1m5 0h1M9 88h2m4 0h1m13 0h1m5 0h1m2 0h1m4 0h1m20 0h1m14 0h1m43 0h3M4 89h1m18 0h1m8 0h1m6 0h1m76 0h1m11 0h1m7 0h1m22 0h1m1 0h1m9 0h1M13 90h1m8 0h1m1 0h1m7 0h1m6 0h1m41 0h1m4 0h1m32 0h1m8 0h1m3 0h1m6 0h1m4 0h2m2 0h1m6 0h1m12 0h1m8 0h1M8 91h1m17 0h1m39 0h2m28 0h1m29 0h1m3 0h1m6 0h3m9 0h1m5 0h1m22 0h1M7 92h1m1 0h1m3 0h1m4 0h1m5 0h1m30 0h1m51 0h1m10 0h1m11 0h3m10 0h1m16 0h1m20 0h1M16 93h1m9 0h1m4 0h1m4 0h1m5 0h1m12 0h1m35 0h1m6 0h1m1 0h1m38 0h1m2 0h1M7 94h1m1 0h1m16 0h1m5 0h1m1 0h1m2 0h1m1 0h1m4 0h1m7 0h2m4 0h1m2 0h1m6 0h1m5 0h1m6 0h1m42 0h1m2 0h1m17 0h1M9 95h1m13 0h1m12 0h1m16 0h1m5 0h1m30 0h1m19 0h1m21 0h1m13 0h1M9 96h1m6 0h1m10 0h1m7 0h1m3 0h1m1 0h1m3 0h1m14 0h1m12 0h1m27 0h1m25 0h1m16 0h1m5 0h1M7 97h1m7 0h1m35 0h1m4 0h2m1 0h1m31 0h1m1 0h1m2 0h1m25 0h1m15 0h2m6 0h1m12 0h1m18 0h1M25 98h1m21 0h1m5 0h1m39 0h1m11 0h1m20 0h1m2 0h2m11 0h1m33 0h1M3 99h1m6 0h1m6 0h1m12 0h1m16 0h1m8 0h1m12 0h1m22 0h1m4 0h1m2 0h1m20 0h1m11 0h1m4 0h1m1 0h1m3 0h1m2 0h1M6 100h1m1 0h1m8 0h1m12 0h1m2 0h2m18 0h1m18 0h1m67 0h1m4 0h1M5 101h1m9 0h1m9 0h1m13 0h1m7 0h1m25 0h1m8 0h1m18 0h1m12 0h2m25 0h1m1 0h1m13 0h1M35 102h1m3 0h1m1 0h1m22 0h1m8 0h1m29 0h1m15 0h1m4 0h1m3 0h1m7 0h1m1 0h1m2 0h1m1 0h1m10 0h1m7 0h1m20 0h1M23 103h1m3 0h1m2 0h1m14 0h1m2 0h1m1 0h1m64 0h1m10 0h1m5 0h1m6 0h1m2 0h1m26 0h1m26 0h1M19 104h1m9 0h1m3 0h2m3 0h1m4 0h1m6 0h1m6 0h2m1 0h1m3 0h1m9 0h1m26 0h1m15 0h1m3 0h1m29 0h1M11 105h1m3 0h1m18 0h1m14 0h1m6 0h1m15 0h1m30 0h1m10 0h2m26 0h1M38 106h1m5 0h1m7 0h1m4 0h1m12 0h1m29 0h1m22 0h2M19 107h1m10 0h1m1 0h1m5 0h1m18 0h2m5 0h1m12 0h1m15 0h1m8 0h1m42 0h1m14 0h1M29 108h1m10 0h1m4 0h1m1 0h1m6 0h1m4 0h1m9 0h1m27 0h1m20 0h1m27 0h1m11 0h1m20 0h1M13 109h1m16 0h2m2 0h1m12 0h1m39 0h1m17 0h2m13 0h1m21 0h1m1 0h1m2 0h1m14 0h1M8 110h1m2 0h1m15 0h1m9 0h1m2 0h1m16 0h1m23 0h1m1 0h1m41 0h1m21 0h1m9 0h1M29 111h1m3 0h1m16 0h1m14 0h1m7 0h1m1 0h1m31 0h1m13 0h1m8 0h1m1 0h1m11 0h1m31 0h1M24 112h1m33 0h1m41 0h1m11 0h1m8 0h1m2 0h2m1 0h1m9 0h1m27 0h1m3 0h1M15 113h2m5 0h2m3 0h1m1 0h1m3 0h1m1 0h1m5 0h1m97 0h1m1 0h1m18 0h1M24 114h1m1 0h1m7 0h1m8 0h1m16 0h1m6 0h2m1 0h1m32 0h1m3 0h1m11 0h1m7 0h1m22 0h1m4 0h1m13 0h1M4 115h1m12 0h1m19 0h1m17 0h1m2 0h2m2 0h1m13 0h1m14 0h1m26 0h1m13 0h1m15 0h1m2 0h1m4 0h1M10 116h2m3 0h1m24 0h1m3 0h1m2 0h1m17 0h1m18 0h1m8 0h1m11 0h1m28 0h1m8 0h1m22 0h1m7 0h1M59 117h1m23 0h1m5 0h1m6 0h1m14 0h1m6 0h1m2 0h2m23 0h1m7 0h1m5 0h1m19 0h1m4 0h1M20 118h1m16 0h1m7 0h1m1 0h1m5 0h2m3 0h2m11 0h1m5 0h1m7 0h1m7 0h1m34 0h1m6 0h1m15 0h1m17 0h1m5 0h1M6 119h1m29 0h1m14 0h1m38 0h1m33 0h1m1 0h1m6 0h1m5 0h2m3 0h1M0 120h1m27 0h1m17 0h2m5 0h2m14 0h1m24 0h1m9 0h1m3 0h1m21 0h1m3 0h1m3 0h1m34 0h1M1 121h1m27 0h1m3 0h1m4 0h1m3 0h1m4 0h1m3 0h1m30 0h1m5 0h1m5 0h1m4 0h1m26 0h1m12 0h1m1 0h2m14 0h1m26 0h1M14 122h1m10 0h1m6 0h2m15 0h2m29 0h1m10 0h1m10 0h1m27 0h1m1 0h1m7 0h1m22 0h1m4 0h1M4 123h1m17 0h1m3 0h1m17 0h1m13 0h2m25 0h1m4 0h1m49 0h1m1 0h1m16 0h1M7 124h1m5 0h1m10 0h1m4 0h1m4 0h1m12 0h1m8 0h1m23 0h1m22 0h1m31 0h1m2 0h1m1 0h1m5 0h1m12 0h1m10 0h1M10 125h1m1 0h2m15 0h1m1 0h1m18 0h1m4 0h2m4 0h1m5 0h1m6 0h2m6 0h1m1 0h1m24 0h1m6 0h1m2 0h1m22 0h2M28 126h1m7 0h1m16 0h1m12 0h1m4 0h1m3 0h1m22 0h2m12 0h1m2 0h1m6 0h1m3 0h1m25 0h1m7 0h1m10 0h1m3 0h1M30 127h1m3 0h1m5 0h1m1 0h1m3 0h1m4 0h1m2 0h1m2 0h2m15 0h1m7 0h1m1 0h2m42 0h1m2 0h1m2 0h1m9 0h1m26 0h1M23 128h1m6 0h1m10 0h1m1 0h1m11 0h1m14 0h1m10 0h2m7 0h1m19 0h1m6 0h1m4 0h1m7 0h1m10 0h1m5 0h1m2 0h1M13 129h1m7 0h1m4 0h1m3 0h1m11 0h2m26 0h1m37 0h1m12 0h1m2 0h1m10 0h1m1 0h1M28 130h1m23 0h1m5 0h2m4 0h2m5 0h1m2 0h1m12 0h1m20 0h1m10 0h1m5 0h2m9 0h1m8 0h1m3 0h1M29 131h2m15 0h1m1 0h1m6 0h1m31 0h1m7 0h1m4 0h1m11 0h1m1 0h1m3 0h2m13 0h1m1 0h1m13 0h1m39 0h1M14 132h1m2 0h1m11 0h1m10 0h1m6 0h2m1 0h1m3 0h1m12 0h1m7 0h1m9 0h1m33 0h1m9 0h1m16 0h1M14 133h1m12 0h1m6 0h3m1 0h1m6 0h2m7 0h1m7 0h1m8 0h1m21 0h1m4 0h1m7 0h1m17 0h2m2 0h1m13 0h1M28 134h1m16 0h1m4 0h1m2 0h1m15 0h1m1 0h1m3 0h1m3 0h1m6 0h1m35 0h1m1 0h1m4 0h1m20 0h1m36 0h1M22 135h1m5 0h1m10 0h1m5 0h1m11 0h1m2 0h1m5 0h1m2 0h1m4 0h1m23 0h1m10 0h1m15 0h1m16 0h2m5 0h1m5 0h1M12 136h1m4 0h1m8 0h1m12 0h1m5 0h3m15 0h1m1 0h2m8 0h1m1 0h1m26 0h1m13 0h1m4 0h1m4 0h1m28 0h1M37 137h1m5 0h1m23 0h1m4 0h1m3 0h1m27 0h1m6 0h1m6 0h1m5 0h1M13 138h1m7 0h1m1 0h1m20 0h1m3 0h1m1 0h1m1 0h2m11 0h1m2 0h1m21 0h1m4 0h1m7 0h1m2 0h1m22 0h1m5 0h1m5 0h1m4 0h1m4 0h1m10 0h1M10 139h1m21 0h2m8 0h1m11 0h1m4 0h2m1 0h1m28 0h1m18 0h1m7 0h1m43 0h1M38 140h1m4 0h1m17 0h1m2 0h1m2 0h1m6 0h1m2 0h1m5 0h1m16 0h1m17 0h1m1 0h2m10 0h1m12 0h1m7 0h1M51 141h1m4 0h1m13 0h1m4 0h1m6 0h1m3 0h1m14 0h1m6 0h1m14 0h1m9 0h1m27 0h1M7 142h1m26 0h2m1 0h2m9 0h1m27 0h1m6 0h1m3 0h1m17 0h1m2 0h1m4 0h1m13 0h2m21 0h1M9 143h1m6 0h1m4 0h1m14 0h1m1 0h1m5 0h1m6 0h1m1 0h1m10 0h1m8 0h1m6 0h1m6 0h1m2 0h1m4 0h1m2 0h2m7 0h1m2 0h1m22 0h1m24 0h1M25 144h1m22 0h1m15 0h1m3 0h1m6 0h4m13 0h2m7 0h1m4 0h1m10 0h1m11 0h1m19 0h1M44 145h1m5 0h1m13 0h1m4 0h1m5 0h1m13 0h2m5 0h1m9 0h1m23 0h1M8 146h1m15 0h1m2 0h1m28 0h1m2 0h1m9 0h1m11 0h1m18 0h1m10 0h1m5 0h1m1 0h1m25 0h1m9 0h1M4 147h1m20 0h1m18 0h1m20 0h1m2 0h1m5 0h1m1 0h1m7 0h1m2 0h2m5 0h1m36 0h1m20 0h1M11 148h1m23 0h1m22 0h1m12 0h1m8 0h1m12 0h1m8 0h1m33 0h1m16 0h1M12 149h1m16 0h1m2 0h1m50 0h1m23 0h1m27 0h3M26 150h1m23 0h1m14 0h1m10 0h1m12 0h1m4 0h1m26 0h1m4 0h1m16 0h1m11 0h1M7 151h1m22 0h2m7 0h2m1 0h1m21 0h2m8 0h1m2 0h1m3 0h1m24 0h1m3 0h1m16 0h1m21 0h1M11 152h1m21 0h1m8 0h1m11 0h1m2 0h1m5 0h1m16 0h1m14 0h1m5 0h1m2 0h1m2 0h1M27 153h2m10 0h1m7 0h1m18 0h1m11 0h1m11 0h1m16 0h1m8 0h1m2 0h1M28 154h1m3 0h1m1 0h1m11 0h1m8 0h1m3 0h1m3 0h1m13 0h1m5 0h1m2 0h1m3 0h1m1 0h1m1 0h1m15 0h1m25 0h1M32 155h1m19 0h1m14 0h1m8 0h1m12 0h2m5 0h1m6 0h1m7 0h1m1 0h1m9 0h1m4 0h1m1 0h1M32 156h1m29 0h1m3 0h2m7 0h1m13 0h1m1 0h1m11 0h1m13 0h1m23 0h1M3 157h1m33 0h1m2 0h1m5 0h1m15 0h1m6 0h1m4 0h1m5 0h2m19 0h1m21 0h1m2 0h1M6 158h1m30 0h1m1 0h1m15 0h1m5 0h1m2 0h1m7 0h1m40 0h1m7 0h1m51 0h1M14 159h1m41 0h1m2 0h2m33 0h1m6 0h2m39 0h1m4 0h1M38 160h1m3 0h1m7 0h1m16 0h1m4 0h1m6 0h1m16 0h1m12 0h1m3 0h1m6 0h1m19 0h1m1 0h1M24 161h2m11 0h1m13 0h1m29 0h1m1 0h1m2 0h1m8 0h1m8 0h1m54 0h1M19 162h2m5 0h1m34 0h1m4 0h1m50 0h1M14 163h1m19 0h1m2 0h1m6 0h1m6 0h1m7 0h1m7 0h1m8 0h1m3 0h1m4 0h1m25 0h1m11 0h1M47 164h1m11 0h2m6 0h1m35 0h1M46 165h1m24 0h1m7 0h1m1 0h1m3 0h1m9 0h1m60 0h1M23 166h1m14 0h1m4 0h1m14 0h1m6 0h1m4 0h1m8 0h1m9 0h1m61 0h1M6 167h1m71 0h1m3 0h1m9 0h1m2 0h1m11 0h1M28 168h1m10 0h1m25 0h1m5 0h1m12 0h1m15 0h1m18 0h1m17 0h1M43 169h1m4 0h1m2 0h1m4 0h1m16 0h1m4 0h1m12 0h1m9 0h1m4 0h1M29 170h1m11 0h1m17 0h1m14 0h1m7 0h1m15 0h1m6 0h2m8 0h1M20 171h1m31 0h1m3 0h1m1 0h1m20 0h1m6 0h1m14 0h1M23 172h1m41 0h1M31 173h1m28 0h1m25 0h1m31 0h1m15 0h1M76 174h1m9 0h1M50 175h1m12 0h1m15 0h1m30 0h1m8 0h1m47 0h1M36 176h1m91 0h1M40 177h1m51 0h1M59 178h1m1 0h1m17 0h1M36 179h1m16 0h1m9 0h1m70 0h2M48 180h1m25 0h1m59 0h1M35 181h2m45 0h1m22 0h2m18 0h1m16 0h1M35 182h1m42 0h1M62 183h1m15 0h2m28 0h1m40 0h1m11 0h1M83 184h1m37 0h1M43 185h1m37 0h1M72 186h1m4 0h1M30 187h1m39 0h1m20 0h1m1 0h1M42 188h1m18 0h1m67 0h1m33 0h1M70 189h1m36 0h1m29 0h1M42 190h1m13 0h1m9 0h1M15 191h1m82 0h1m9 0h1M39 192h1m24 0h1m22 0h1m14 0h1M92 193h1m21 0h1M37 195h1m56 0h1M26 196h1M105 197h1M72 198h1m3 0h1m2 0h1m54 0h1M44 199h1m32 0h1"/>
<path stroke="#0da7c3" d="M33 3h1M98 4h1M106 7h1M83 8h1M64 10h1M61 12h1M51 13h1m73 0h1M51 14h1m57 0h1M41 15h1M49 16h1m13 0h1M67 17h1m14 0h1M30 18h1m91 0h1M54 19h1m58 0h1m5 0h1M62 21h1M25 22h1m57 0h1m12 0h1M62 23h1m20 0h1m19 0h1m18 0h1M4 24h1m72 0h1m24 0h1M26 25h1m38 0h1m5 0h1M108 26h1m13 0h1M84 27h1M69 28h1m13 0h1m13 0h1m25 0h1M56 30h1m3 0h1m9 0h2m1 0h2m32 0h1m13 0h1m19 0h1M44 31h1m18 0h1m5 0h1m15 0h1M42 32h1m23 0h1m8 0h1m4 0h1m6 0h1m27 0h1M65 33h1m35 0h1m19 0h1m5 0h1m26 0h1m9 0h1M42 34h1m3 0h1m15 0h1m42 0h1m29 0h1m19 0h1M55 35h1m9 0h1m23 0h1m3 0h1m52 0h1M49 36h1m35 0h1m35 0h1M15 37h1m19 0h1m82 0h1m22 0h1M41 38h1m12 0h1m8 0h1m1 0h1m28 0h1m4 0h1m29 0h1M9 39h1m27 0h1m32 0h1m1 0h1m13 0h1m6 0h1m3 0h1m18 0h1m7 0h1m6 0h1m2 0h1m5 0h1M56 40h1m6 0h1m3 0h1m17 0h1m9 0h1m8 0h2m44 0h1M23 41h1m32 0h1m4 0h1m5 0h1m2 0h1m13 0h1m45 0h1M8 42h1m27 0h1m3 0h1m3 0h1m2 0h1m4 0h1m17 0h1m3 0h1m8 0h1m20 0h1M33 43h1m5 0h1m1 0h1m34 0h1m12 0h1m5 0h1m4 0h1m15 0h1m22 0h1m24 0h1m4 0h1M40 44h1m11 0h1m17 0h1m6 0h1m4 0h1m1 0h1m26 0h1m18 0h1m30 0h1m2 0h1M28 45h1m91 0h2m10 0h1m4 0h1M97 46h1m5 0h1m15 0h1M41 47h1m1 0h1m11 0h1m4 0h1m18 0h2m1 0h1m1 0h1m34 0h1m27 0h1m24 0h1m6 0h1M20 48h1m4 0h1m47 0h2m6 0h2m5 0h1m2 0h1m1 0h1m21 0h1M21 49h1m29 0h1m16 0h1m14 0h1m16 0h1m7 0h1m16 0h1m8 0h1m18 0h1m22 0h1M25 50h1m11 0h1m2 0h1m22 0h1m4 0h1m16 0h1m10 0h1m5 0h1m10 0h1m8 0h1M26 51h1m15 0h1m25 0h1m1 0h1m16 0h1m3 0h1m2 0h1M17 52h1m17 0h1m6 0h1m14 0h1m5 0h2m16 0h1m6 0h1m7 0h1m24 0h1M44 53h2m4 0h1m4 0h1m3 0h1m17 0h1m29 0h1m9 0h1m23 0h1M8 54h1m13 0h1m8 0h1m11 0h1m12 0h1m4 0h1m1 0h2m25 0h1m3 0h1m4 0h1m2 0h1M37 55h2m11 0h3m1 0h1m2 0h1m2 0h2m10 0h1m8 0h1m8 0h1m3 0h1m6 0h1m15 0h1m6 0h2m4 0h1M37 56h1m7 0h1m2 0h1m3 0h1m28 0h1m1 0h1m3 0h1m8 0h1m2 0h1m2 0h1m3 0h1m26 0h1M43 57h1m6 0h1m9 0h1m17 0h2m11 0h2m7 0h2m3 0h2m27 0h1m8 0h1M17 58h1m21 0h1m13 0h1m4 0h1m8 0h1m43 0h1m38 0h1M42 59h1m2 0h1m29 0h1m13 0h1m1 0h1m8 0h1m9 0h1m2 0h1m1 0h1m2 0h1m6 0h1M5 60h1m5 0h1m11 0h1m43 0h1m10 0h1m7 0h1m4 0h1m4 0h1m3 0h1m2 0h1m11 0h2m2 0h1m7 0h1m1 0h1m37 0h1M34 61h1m5 0h1m1 0h1m21 0h1m4 0h1m30 0h1m9 0h1m8 0h1m19 0h1m2 0h1M20 62h1m19 0h1m6 0h2m5 0h1m14 0h1m21 0h1m3 0h1m18 0h1m6 0h1m1 0h1m27 0h1m13 0h1m2 0h1m6 0h1M7 63h1m27 0h1m36 0h1m4 0h1m2 0h1m12 0h1M31 64h1m3 0h2m2 0h1m11 0h1m13 0h1m7 0h1m6 0h1m25 0h1m3 0h1m1 0h1m1 0h1m12 0h1m10 0h1m12 0h1M3 65h1m38 0h1m5 0h1m3 0h1m1 0h1m14 0h1m3 0h1m4 0h1m24 0h1m5 0h2m6 0h2m28 0h1M11 66h1m10 0h1m3 0h1m11 0h2m23 0h2m2 0h1m1 0h1m2 0h1m7 0h1m22 0h1m11 0h1m6 0h1M13 67h1m3 0h1m12 0h1m9 0h1m2 0h1m1 0h1m1 0h1m8 0h2m12 0h1m2 0h1m1 0h2m8 0h1m10 0h1m3 0h2m8 0h1m4 0h1m8 0h1m27 0h1m16 0h1M1 68h1m77 0h1m11 0h1m24 0h1m27 0h1M22 69h1m2 0h1m4 0h1m21 0h1m28 0h1m24 0h2m3 0h1m3 0h2m3 0h1m9 0h1m15 0h1M8 70h1m15 0h1m1 0h1m17 0h1m2 0h1m7 0h1m11 0h1m5 0h1m9 0h1m2 0h2m7 0h1m11 0h1m1 0h2M12 71h1m10 0h2m15 0h1m3 0h1m1 0h2m9 0h1m1 0h1m1 0h1m5 0h1m5 0h1m2 0h1m1 0h1m1 0h1m5 0h2m8 0h1m1 0h1m30 0h1m5 0h1m10 0h1m15 0h1m15 0h1m5 0h1M26 72h1m12 0h1m29 0h1m3 0h1m16 0h1m10 0h1m31 0h1m9 0h1m10 0h1M22 73h1m8 0h2m14 0h1m8 0h1m4 0h1m38 0h1m3 0h1m11 0h1m5 0h1m5 0h1m2 0h1m12 0h1m11 0h1m1 0h1M16 74h1m15 0h1m10 0h1m26 0h1m27 0h1m2 0h1m30 0h1m7 0h1m32 0h1M10 75h1m33 0h1m20 0h1m16 0h1m21 0h1m17 0h1m1 0h1m6 0h1m8 0h1m6 0h1m36 0h1M13 76h1m28 0h1m10 0h1m6 0h1m24 0h1m47 0h1m1 0h1m7 0h1M8 77h1m25 0h1m44 0h1m2 0h1m12 0h1m24 0h1m9 0h1m23 0h1m4 0h1m8 0h1m2 0h1m7 0h1M3 78h1m15 0h1m15 0h1m12 0h1m9 0h1m15 0h1m3 0h1m6 0h1m36 0h1m3 0h1m6 0h1m1 0h1m11 0h1m9 0h1M7 79h1m12 0h1m14 0h1m2 0h1m7 0h1m3 0h2m1 0h1m5 0h1m5 0h2m11 0h1m14 0h1m6 0h1m11 0h1m11 0h1m18 0h1m24 0h1m3 0h1M21 80h1m3 0h1m10 0h1m5 0h1m12 0h1m3 0h1m2 0h1m7 0h1m17 0h1m24 0h1m46 0h1M14 81h1m16 0h3m11 0h2m4 0h1m25 0h1m13 0h1m32 0h1m6 0h1m10 0h1M21 82h1m18 0h1m8 0h1m2 0h1m18 0h1m9 0h1m2 0h1m9 0h1m9 0h1m8 0h1m17 0h1m1 0h1m41 0h1M29 83h1m23 0h1m4 0h1m2 0h1m1 0h1m9 0h1m12 0h1m5 0h1m19 0h1m2 0h2m3 0h1m29 0h1m10 0h1M26 84h1m11 0h1m12 0h1m5 0h1m2 0h2m4 0h1m4 0h1m13 0h1m18 0h1m8 0h1m8 0h1m3 0h1m1 0h1m15 0h1M26 85h2m29 0h1m6 0h1m38 0h3m21 0h1m1 0h1m4 0h1m6 0h1m48 0h1M7 86h2m14 0h1m16 0h1m4 0h1m7 0h2m43 0h1m2 0h1m9 0h1m8 0h1m11 0h1m2 0h1m8 0h1m2 0h1m9 0h1m15 0h1M20 87h1m17 0h1m2 0h1m10 0h1m6 0h1m6 0h1m13 0h1m1 0h1m30 0h1m21 0h1m4 0h1m11 0h1M25 88h1m1 0h1m3 0h1m13 0h1m15 0h1m36 0h1m5 0h1m10 0h1m12 0h1m6 0h1m1 0h2m4 0h1M28 89h1m12 0h1m4 0h1m5 0h2m8 0h1m6 0h1m38 0h1m1 0h1m14 0h1m32 0h1M35 90h2m15 0h1m5 0h2m7 0h1m38 0h1m23 0h1m15 0h1M36 91h1m2 0h1m3 0h2m9 0h1m32 0h1m20 0h1m6 0h1m1 0h1m10 0h1m2 0h1m4 0h1m15 0h1m24 0h1M2 92h1m20 0h1m8 0h1m9 0h1m1 0h1m17 0h1m10 0h1m25 0h1m49 0h1m7 0h1m4 0h1M0 93h1m27 0h1m15 0h1m4 0h1m7 0h4m27 0h1m4 0h1m23 0h1m20 0h1m19 0h1m7 0h1m25 0h1M19 94h2m2 0h1m7 0h1m6 0h1m3 0h1m11 0h1m14 0h1m14 0h1m1 0h1m27 0h1m1 0h2m2 0h1m14 0h1m14 0h1m4 0h1m1 0h1M30 95h1m9 0h1m61 0h1m23 0h1m55 0h1M40 96h1m57 0h1m23 0h1m6 0h1m2 0h1m4 0h1m1 0h1m20 0h3M11 97h1m1 0h1m3 0h3m26 0h1m70 0h1m16 0h1m1 0h1m4 0h1m3 0h1m3 0h1m1 0h1m5 0h1m2 0h1M14 98h1m5 0h1m8 0h1m19 0h1m12 0h1m8 0h1m18 0h1m3 0h1m18 0h1m2 0h2m2 0h1m16 0h2m2 0h1m3 0h1m4 0h1m11 0h1M23 99h1m12 0h1m3 0h2m11 0h1m11 0h1m19 0h1m10 0h1m13 0h1m31 0h1m26 0h1M27 100h1m9 0h1m10 0h1m11 0h1m32 0h1m24 0h1m24 0h1m13 0h1m7 0h1m9 0h1M14 101h1m8 0h2m30 0h1m3 0h1m9 0h1m14 0h1m11 0h1m12 0h1m10 0h1m8 0h1M19 102h1m11 0h1m21 0h1m6 0h1m19 0h1m16 0h1m12 0h1m5 0h1m9 0h1m10 0h1m15 0h1m5 0h1M34 103h2m3 0h2m24 0h1m4 0h1m8 0h1m40 0h1m30 0h1M3 104h1m28 0h1m7 0h1m20 0h1m1 0h1m5 0h1m11 0h1m47 0h1m14 0h2M9 105h1m23 0h1m4 0h1m18 0h1m2 0h1m29 0h1m33 0h1m9 0h1m28 0h1M26 106h1m5 0h1m17 0h1m3 0h1m4 0h1m14 0h1m7 0h1m42 0h1m13 0h1m13 0h1M0 107h1m34 0h2m18 0h1m12 0h1m34 0h1m10 0h1m9 0h1m8 0h1m2 0h1m17 0h1M21 108h1m1 0h1m19 0h1m4 0h2m1 0h2m13 0h1m6 0h1m2 0h1m5 0h1m16 0h1m27 0h1M11 109h1m8 0h1m21 0h1m7 0h1m1 0h1m6 0h1m39 0h1m11 0h2m30 0h1m1 0h1m3 0h1m2 0h1m3 0h1M24 110h1m20 0h2m2 0h1m1 0h1m1 0h1m2 0h1m2 0h1m7 0h1m18 0h1m20 0h1m19 0h1m2 0h1m2 0h1m7 0h2m2 0h1m10 0h1m12 0h1M6 111h1m8 0h1m8 0h1m9 0h1m3 0h1m13 0h2m18 0h1m13 0h1m22 0h1m5 0h1m2 0h1m4 0h1m1 0h2m8 0h1m6 0h1m11 0h1M5 112h1m6 0h1m22 0h1m1 0h1m5 0h1m7 0h1m12 0h1m3 0h1m9 0h1m3 0h1m13 0h1m14 0h1m30 0h1m17 0h1m1 0h1M3 113h1m5 0h1m24 0h1m1 0h1m3 0h1m16 0h2m5 0h1m2 0h1m4 0h1m10 0h1m5 0h1m15 0h1m16 0h2M3 114h1m32 0h1m14 0h1m2 0h2m13 0h1m19 0h1m12 0h1m42 0h1m17 0h1M11 115h3m7 0h1m2 0h1m7 0h1m21 0h1m33 0h1m19 0h1m12 0h1m20 0h1m4 0h1M38 116h1m6 0h1m13 0h1m22 0h1m2 0h1m1 0h1m6 0h1m9 0h1m1 0h1m3 0h1m5 0h1m5 0h1m10 0h1m1 0h1m5 0h1m11 0h1M25 117h1m15 0h1m2 0h2m4 0h1m1 0h1m1 0h1m1 0h1m4 0h1m12 0h1m25 0h1m6 0h2m39 0h1m12 0h1M23 118h1m11 0h1m4 0h1m8 0h1m5 0h1m30 0h1m7 0h1m17 0h1m1 0h1m2 0h2m8 0h1m18 0h1M21 119h1m7 0h1m13 0h1m1 0h1m4 0h1m7 0h1m11 0h1m5 0h1m16 0h1m7 0h1m14 0h2m3 0h1m8 0h1m60 0h1M24 120h2m5 0h2m2 0h1m8 0h2m33 0h1m15 0h1m10 0h1m5 0h1m19 0h1m8 0h1m9 0h1M8 121h1m28 0h1m7 0h2m12 0h1m1 0h2m2 0h2m8 0h1m11 0h1m1 0h1m7 0h2m4 0h1m7 0h1m8 0h1m8 0h1m14 0h1M22 122h1m15 0h1m8 0h1m14 0h2m10 0h1m2 0h2m10 0h1m10 0h2m21 0h1m23 0h1m3 0h1m39 0h1M15 123h1m18 0h1m3 0h1m3 0h2m1 0h1m15 0h1m13 0h1m3 0h1m15 0h1m4 0h1m24 0h1m7 0h3m17 0h1M9 124h1m35 0h1m4 0h1m13 0h1m23 0h1m11 0h1m3 0h3m11 0h1m1 0h1m2 0h1m3 0h1m16 0h1M26 125h1m18 0h1m22 0h1m4 0h1m9 0h1m1 0h1m34 0h1m5 0h1M22 126h1m14 0h2m1 0h1m11 0h1m4 0h1m1 0h1m13 0h1m12 0h1m17 0h2m10 0h1m10 0h1m5 0h1M61 127h1m13 0h1m11 0h1m3 0h1m1 0h1m13 0h1m2 0h1m4 0h1m3 0h1m23 0h1m2 0h1m2 0h1m1 0h1M2 128h1m10 0h1m4 0h1m26 0h1m5 0h1m8 0h1m8 0h1m3 0h1m1 0h1m2 0h2m12 0h1m10 0h1m2 0h1m5 0h2m13 0h1m5 0h1m14 0h1m23 0h1M1 129h1m16 0h1m19 0h1m5 0h1m26 0h1m18 0h1m21 0h1m34 0h1m14 0h1M15 130h1m7 0h1m5 0h1m26 0h1m6 0h1m11 0h1m9 0h1m3 0h1m2 0h1m4 0h1m1 0h1m22 0h1m8 0h1m5 0h1m19 0h1M4 131h1m51 0h1m13 0h1m3 0h1m9 0h1m3 0h1m3 0h1m3 0h1m25 0h1m3 0h2M43 132h1m5 0h1m8 0h1m17 0h2m4 0h1m6 0h1m6 0h2m6 0h1m7 0h1m4 0h1m5 0h1m9 0h1M15 133h1m37 0h1m10 0h2m14 0h1m9 0h1m4 0h1m14 0h1m5 0h1m3 0h1m38 0h1m13 0h1M7 134h1m3 0h1m24 0h1m9 0h1m4 0h2m5 0h1m4 0h1m8 0h1m9 0h1m21 0h1m4 0h1m1 0h1m8 0h1m26 0h1M14 135h1m1 0h1m23 0h1m6 0h1m5 0h1m7 0h1m2 0h1m2 0h1m7 0h1m7 0h1m1 0h1m31 0h1m8 0h1m11 0h1m7 0h1m17 0h1M50 136h1m2 0h1m16 0h1m10 0h1m16 0h1m16 0h1m19 0h1M16 137h1m4 0h1m16 0h1m18 0h1m3 0h1m13 0h1m6 0h1m2 0h1m4 0h1m5 0h1m19 0h2m20 0h1m12 0h1m4 0h1M56 138h1m4 0h1m49 0h1m6 0h1m35 0h1M76 139h1m6 0h1m2 0h1m2 0h1m4 0h1m8 0h2m15 0h1m6 0h1m1 0h1m6 0h1m15 0h1M9 140h1m8 0h1m13 0h1m4 0h1m1 0h1m18 0h1m10 0h2m2 0h1m7 0h1m21 0h1m9 0h2m4 0h1m21 0h2M15 141h1m7 0h1m19 0h1m3 0h1m9 0h1m4 0h1m1 0h1m2 0h2m9 0h1m6 0h1m1 0h1m12 0h1m4 0h1m1 0h1m4 0h2m14 0h1m1 0h1m22 0h1M2 142h1m24 0h1m12 0h1m12 0h1m1 0h2m4 0h1m2 0h1m14 0h1m18 0h1M52 143h1m2 0h1m1 0h1m9 0h1m10 0h1m6 0h1m18 0h1m8 0h1m10 0h3M1 144h1m34 0h1m4 0h1m16 0h1m4 0h1m19 0h1m2 0h1m3 0h1m9 0h1m7 0h1m13 0h1M12 145h1m29 0h1m31 0h1m1 0h1m11 0h1m16 0h1m18 0h1M31 146h1m6 0h1m1 0h1m22 0h1m1 0h1m11 0h1m8 0h1m4 0h1m4 0h1m4 0h1m26 0h1m4 0h1M32 147h1m48 0h1m8 0h1m2 0h1m1 0h2m1 0h1m36 0h1m15 0h1M26 148h1m18 0h1m10 0h1m10 0h1m2 0h1m12 0h1m6 0h2m8 0h1m16 0h1m5 0h1M45 149h2m7 0h1m8 0h1m6 0h1m22 0h1m31 0h1m25 0h1M28 150h1m13 0h1m9 0h1m6 0h1m4 0h1m4 0h1m23 0h1m3 0h1m13 0h1m21 0h1M23 151h1m17 0h1m3 0h1m23 0h1m8 0h1m16 0h1M73 152h1m20 0h1m4 0h1m5 0h1m7 0h1m18 0h1m8 0h1M16 153h1m19 0h1m34 0h1m12 0h1m7 0h1m3 0h1m16 0h1m19 0h1m19 0h1m31 0h1M22 154h1m6 0h1m5 0h1m26 0h1m7 0h1m20 0h1m5 0h1m8 0h1m4 0h1M31 155h1m10 0h1m1 0h1m34 0h1m18 0h1m37 0h1m4 0h1M20 156h1m24 0h1m2 0h1m27 0h2m2 0h1m14 0h1m38 0h1M72 157h1m13 0h1m19 0h1m60 0h1M36 158h1m31 0h1m28 0h1M48 159h1m1 0h1m19 0h1m3 0h1m15 0h1m1 0h1m12 0h1m33 0h1M57 160h1m17 0h1m47 0h1m1 0h1m19 0h1m25 0h1M14 161h1m41 0h1m3 0h1m11 0h1m27 0h1m9 0h1m10 0h1M51 162h1m7 0h1m4 0h1m11 0h1m4 0h1m4 0h2m43 0h1m13 0h1M7 163h2m27 0h1m18 0h2m46 0h1m1 0h1M34 164h1m31 0h1m15 0h1m9 0h1m1 0h1m3 0h1M26 165h1m24 0h1m10 0h2m13 0h1m42 0h1m43 0h1M66 166h1m4 0h1m10 0h1m12 0h1m2 0h1m16 0h1m14 0h1M70 167h1m45 0h1m4 0h1m3 0h1M33 168h1m39 0h1m13 0h1m10 0h1m9 0h1m13 0h1M63 169h1m74 0h1m10 0h1M11 170h1m69 0h1m9 0h1m12 0h1M34 171h1m14 0h1m25 0h1M32 172h1m11 0h1m10 0h1m26 0h1m12 0h1M154 173h1M100 174h1m10 0h1M71 175h1m20 0h1m29 0h1M30 176h1m58 0h1m17 0h1M54 177h1m47 0h1m11 0h1M50 178h1m40 0h1M66 179h1m1 0h1m11 0h1m2 0h1M59 180h1m111 0h1M41 181h1m33 0h1m8 0h1m19 0h1M18 182h1m51 0h1m2 0h2M56 183h1M76 184h1m4 0h1m33 0h1M48 185h1m4 0h1m2 0h1m43 0h1m18 0h1M123 186h1M64 188h1m31 0h1m57 0h1M58 189h1m44 0h1m13 0h1M32 190h1m39 0h1m10 0h1M94 192h1m2 0h2M44 193h1m26 0h1m27 0h1M17 194h1M80 199h1"/>
<path stroke="#1eafb3" d="M18 0h1M87 1h1M74 4h1m28 0h1M42 5h1m38 0h1M104 6h1M87 8h1M71 9h1m35 0h1m15 0h1M73 11h1M49 14h1M100 15h1M99 16h1m1 0h1M26 17h1m60 0h1M47 18h1m24 0h1m16 0h1m8 0h1M83 19h1M72 20h1m37 0h1m4 0h1M33 23h1m113 0h1M19 24h1m16 0h1m50 0h1m27 0h1m2 0h1M84 25h1M110 26h1M20 27h1m26 0h1m31 0h1m6 0h1m40 0h1M95 28h1m30 0h1M26 29h1m37 0h1m16 0h1m28 0h1M26 30h1m30 0h1m6 0h1m32 0h1m12 0h1m3 0h1m24 0h1m43 0h1M48 31h1m24 0h1m82 0h1M22 32h1m14 0h1m13 0h2m44 0h1m1 0h1m5 0h1m2 0h1M71 33h1m27 0h1M4 34h1m62 0h1m20 0h1m22 0h1m4 0h1M35 35h1m46 0h1m15 0h1m62 0h1M9 36h1m48 0h1m50 0h1m5 0h1M14 37h1m49 0h1m8 0h1m8 0h1m4 0h1m26 0h1m8 0h1m13 0h1M78 38h1m1 0h1m3 0h1m10 0h1m40 0h1M21 39h1m17 0h1m17 0h1m15 0h1m17 0h1m22 0h1m7 0h1M21 40h1m35 0h1m19 0h1m2 0h1m8 0h1m10 0h1m21 0h1M51 41h1m13 0h2m10 0h1m20 0h1m6 0h1m30 0h1M30 42h1m17 0h1m26 0h1m12 0h1m10 0h1m2 0h2m42 0h1M58 43h1m1 0h1m10 0h1m9 0h1m14 0h2m7 0h1m38 0h1m1 0h1M32 44h1m22 0h1m1 0h1m33 0h1m3 0h1m20 0h1M34 45h1m9 0h1m12 0h1m9 0h1m12 0h1m45 0h1M59 46h1m25 0h1m7 0h1m1 0h1m4 0h1m8 0h1m6 0h1m22 0h1M15 47h1m4 0h1m25 0h1m5 0h1m15 0h1m26 0h1m5 0h1m12 0h1m20 0h1m17 0h1M35 48h1m25 0h1m1 0h1m1 0h1m2 0h1m2 0h2m3 0h1m21 0h1m5 0h1m29 0h1m22 0h1M24 49h1m16 0h1m23 0h1m13 0h1m5 0h1m3 0h1m1 0h1m2 0h1m8 0h1m10 0h2m20 0h1m2 0h1M61 50h1m10 0h1m8 0h2m6 0h1M31 51h1m34 0h1m30 0h1m32 0h1m6 0h1m6 0h1M22 52h1m5 0h1m17 0h2m4 0h2m1 0h2m9 0h1m4 0h1m4 0h1m8 0h2m6 0h1m3 0h1m17 0h1m13 0h1m12 0h2M51 53h1m2 0h1m3 0h1m9 0h1m15 0h2m3 0h1m2 0h1m5 0h1m2 0h1m6 0h2m12 0h1m17 0h1M26 54h1m17 0h1m28 0h1m1 0h1m3 0h1m12 0h1m19 0h1m3 0h1m4 0h1m9 0h1M0 55h1m17 0h1m27 0h1m1 0h1m22 0h1m5 0h1m10 0h1M18 56h1m21 0h1m9 0h1m6 0h2m7 0h1m10 0h2m3 0h1m12 0h1m23 0h1m58 0h1M64 57h2m1 0h1m2 0h2m5 0h1m12 0h1m2 0h1m17 0h1M11 58h1m15 0h1m7 0h1m8 0h1m17 0h1m17 0h1m7 0h2m1 0h2m1 0h1m3 0h1m3 0h1m26 0h2m2 0h1m8 0h1m15 0h1M9 59h1m16 0h1m23 0h1m6 0h1m6 0h1m6 0h1m8 0h2m6 0h1m9 0h1m4 0h1m3 0h2m7 0h1m2 0h1m13 0h1M39 60h2m4 0h1m10 0h1m19 0h1m12 0h1m16 0h1m17 0h1m8 0h1M16 61h1m11 0h1m15 0h1m11 0h1m4 0h1m1 0h1m10 0h1m24 0h1m3 0h1m9 0h1m24 0h1m5 0h1m3 0h2M29 62h1m16 0h1m2 0h1m31 0h1m2 0h1m8 0h1m14 0h1m41 0h1M36 63h1m2 0h1m7 0h1m7 0h1m27 0h1m13 0h1m30 0h1m18 0h1M50 64h1m9 0h1m8 0h2m1 0h1m2 0h1m14 0h1m3 0h1m2 0h1m18 0h1m20 0h1m5 0h1m10 0h1m17 0h1M35 65h1m3 0h1m56 0h1m8 0h1m24 0h1m7 0h1M12 66h1m11 0h1m22 0h1m7 0h1m3 0h1m2 0h1m18 0h1m30 0h1m16 0h1m22 0h1m8 0h1M20 67h1m30 0h1m28 0h1m6 0h1m18 0h2m14 0h1m12 0h1M9 68h1m4 0h1m22 0h1m18 0h1m4 0h2m14 0h1m4 0h1m16 0h1m1 0h1m19 0h1m6 0h2m10 0h1m9 0h1M34 69h1m24 0h1m1 0h1m2 0h1m4 0h1m4 0h1m3 0h1m1 0h1m10 0h1m46 0h1m29 0h1M21 70h1m21 0h1m16 0h1m2 0h1m8 0h1m21 0h1m2 0h1m17 0h1m2 0h1m3 0h1m19 0h1m7 0h1m1 0h1M49 71h1m32 0h1m1 0h2m7 0h1m5 0h1m6 0h1m9 0h1m6 0h1m13 0h1m25 0h1M42 72h1m7 0h1m2 0h1m3 0h1m4 0h1m4 0h1m15 0h1m3 0h1m32 0h1m4 0h1m18 0h1m12 0h1M30 73h1m4 0h1m19 0h1m18 0h2m5 0h1m13 0h1m9 0h1m11 0h1m5 0h1m8 0h2m13 0h1m4 0h1m17 0h1M8 74h1m4 0h2m33 0h3m1 0h1m5 0h1m3 0h1m14 0h1m2 0h2m2 0h2m13 0h1m37 0h1m32 0h1M20 75h1m31 0h2m5 0h1m17 0h2m8 0h1m13 0h1m16 0h1m14 0h1m4 0h1M12 76h1m18 0h1m4 0h1m8 0h1m48 0h1m4 0h1m2 0h2m16 0h1m15 0h2m4 0h1M63 77h1m2 0h1m1 0h1m1 0h1m15 0h1m14 0h1m20 0h1m13 0h1m7 0h1m12 0h1m9 0h1M21 78h2m28 0h1m4 0h1m9 0h1m8 0h1m6 0h1m7 0h1m2 0h1m6 0h1m1 0h1m5 0h2m2 0h1m7 0h1m23 0h1m30 0h1m7 0h1M14 79h1m27 0h2m1 0h1m17 0h1m4 0h2m1 0h1m4 0h1m5 0h1m5 0h1m8 0h1m9 0h1m2 0h1m4 0h1m2 0h1m18 0h1m4 0h1M10 80h1m8 0h1m8 0h1m1 0h1m20 0h1m2 0h1m2 0h1m26 0h3m10 0h1m5 0h1m11 0h2m8 0h1m2 0h1m12 0h1m3 0h1M19 81h1m16 0h1m10 0h1m31 0h1m9 0h1m5 0h1m8 0h1m16 0h2m21 0h1m1 0h2m29 0h1M22 82h1m13 0h1m4 0h1m8 0h1m4 0h1m27 0h1m1 0h1m4 0h1m10 0h1m18 0h1m13 0h1M6 83h1m1 0h1m4 0h1m20 0h1m30 0h2m21 0h1m9 0h1m8 0h1m20 0h1m7 0h1m11 0h1m3 0h1m12 0h1M25 84h1m24 0h1m1 0h2m2 0h1m5 0h1m1 0h1m16 0h1m12 0h1m29 0h1m6 0h1m10 0h1m10 0h1M7 85h1m12 0h1m2 0h1m5 0h1m21 0h1m1 0h2m4 0h1m12 0h1m23 0h1m21 0h1m26 0h1m6 0h1m3 0h2m1 0h1M32 86h1m15 0h1m9 0h1m1 0h1m5 0h1m11 0h1m4 0h1m5 0h1m15 0h1m28 0h1m33 0h1M23 87h1m41 0h1m32 0h1m1 0h1m3 0h2m3 0h1m6 0h2m14 0h1m6 0h1m2 0h1M18 88h2m1 0h1m31 0h1m5 0h2m36 0h1m1 0h1m2 0h1m5 0h1m1 0h1m8 0h1m13 0h2m6 0h2m4 0h1m2 0h1m19 0h1m18 0h1M18 89h1m19 0h1m16 0h2m1 0h1m15 0h1m11 0h1m2 0h1m2 0h1m7 0h2m13 0h1m19 0h1m3 0h1m7 0h1m2 0h2M10 90h1m10 0h1m6 0h1m2 0h1m9 0h1m63 0h1m8 0h1m9 0h1m4 0h1m6 0h1m25 0h1m24 0h1M9 91h1m18 0h1m19 0h1m6 0h1m1 0h1m3 0h1m6 0h1m5 0h1m4 0h1m25 0h1m44 0h1m22 0h1M15 92h1m3 0h1m30 0h1m6 0h1m8 0h1m1 0h1m3 0h1m20 0h1m8 0h1m11 0h2m9 0h1M40 93h1m5 0h1m3 0h1m17 0h1m25 0h1m1 0h1m5 0h1m21 0h1m1 0h2m20 0h1m7 0h1m7 0h1M3 94h1m10 0h1m3 0h1m8 0h1m5 0h1m26 0h1m5 0h1m6 0h1m1 0h1m12 0h1m3 0h1m13 0h1m3 0h1m4 0h1m17 0h1m12 0h1m4 0h1M15 95h1m4 0h1m11 0h1m13 0h1m7 0h2m7 0h1m30 0h1m8 0h2m13 0h1m4 0h1m1 0h1m3 0h1m4 0h1M31 96h1m1 0h2m7 0h1m1 0h1m11 0h1m15 0h1m33 0h3m1 0h1m17 0h1m1 0h1m44 0h1M30 97h2m4 0h1m5 0h1m6 0h1m24 0h1m4 0h1m1 0h2m5 0h1m3 0h1m6 0h2m6 0h2m2 0h1m9 0h1m18 0h1m1 0h1m11 0h1m1 0h1M17 98h1m3 0h1m4 0h1m4 0h2m6 0h1m5 0h1m6 0h1m1 0h2m14 0h1m2 0h1m27 0h1m4 0h1m8 0h1m20 0h1m7 0h1m10 0h1M15 99h1m3 0h1m19 0h1m2 0h2m7 0h2m1 0h1m6 0h1m8 0h1m6 0h1m8 0h1m7 0h1m4 0h1m1 0h1m4 0h1m5 0h1m1 0h1m1 0h1m13 0h1m4 0h1m24 0h1m1 0h1M32 100h1m13 0h1m8 0h1m2 0h1m8 0h1m17 0h1m1 0h1m1 0h1m5 0h1m26 0h1m1 0h1m1 0h1m3 0h1m2 0h1m21 0h1m2 0h1M28 101h1m3 0h1m27 0h1m9 0h1m3 0h2m4 0h1m8 0h1m14 0h1m8 0h1m4 0h1m5 0h1m15 0h1M1 102h1m23 0h1m6 0h1m11 0h1m5 0h1m7 0h1m6 0h1m23 0h1m12 0h1m29 0h1m7 0h1m24 0h1M5 103h1m6 0h1m20 0h1m8 0h1m16 0h1m13 0h1m18 0h1m12 0h3m17 0h1m4 0h1m4 0h1m2 0h1m4 0h1M10 104h2m5 0h1m13 0h1m40 0h1m5 0h1m4 0h1m8 0h1m18 0h1m2 0h2m37 0h1m17 0h1M0 105h1m23 0h1m3 0h1m12 0h1m2 0h1m6 0h1m1 0h1m11 0h1m7 0h1m5 0h1m1 0h1m1 0h1m13 0h1m8 0h1m11 0h1m7 0h1m14 0h1m7 0h1m8 0h1M42 106h1m12 0h2m3 0h1m7 0h1m11 0h1m2 0h1m15 0h1m19 0h1m6 0h1m2 0h1m31 0h1m3 0h1M12 107h1m30 0h1m3 0h2m11 0h1m4 0h1m7 0h1m13 0h1m3 0h1m17 0h1m7 0h2m38 0h1m13 0h1M14 108h1m7 0h1m15 0h1m5 0h1m5 0h1m14 0h1m13 0h1m11 0h1m15 0h2m11 0h1m2 0h1m5 0h1m29 0h2m5 0h1m4 0h1M25 109h1m3 0h1m9 0h1m4 0h2m2 0h2m4 0h2m1 0h1m2 0h1m6 0h1m12 0h1m11 0h3m7 0h1m13 0h1m1 0h1m7 0h3m7 0h1M47 110h1m20 0h2m9 0h1m4 0h1m14 0h1m2 0h1m1 0h1m3 0h1m30 0h1M31 111h2m15 0h1m2 0h1m2 0h1m16 0h1m15 0h1m32 0h1m6 0h1M15 112h1m23 0h1m1 0h2m13 0h1m18 0h1m12 0h1m4 0h1m16 0h1m30 0h1m13 0h1M42 113h2m6 0h1m1 0h1m39 0h1m14 0h1m4 0h1m6 0h1m18 0h1m7 0h3M32 114h1m9 0h1m16 0h1m2 0h1m2 0h1m10 0h1m2 0h2m19 0h1m14 0h1m16 0h1m2 0h1m1 0h1m2 0h1m11 0h1M30 115h1m15 0h1m4 0h2m10 0h2m1 0h1m3 0h1m8 0h1m4 0h1m16 0h1m1 0h1m18 0h1m3 0h1m25 0h1m43 0h1M0 116h1m7 0h1m7 0h1m4 0h1m5 0h2m10 0h1m12 0h2m15 0h2m10 0h1m27 0h1m2 0h1m18 0h1m24 0h1M33 117h1m33 0h1m7 0h1m40 0h1m2 0h1m4 0h1m4 0h1m1 0h2m1 0h1m8 0h1m22 0h1M14 118h1m7 0h1m18 0h1m1 0h1m2 0h1m25 0h1m6 0h1m20 0h1m7 0h1m20 0h1m1 0h2m10 0h1M23 119h1m3 0h1m33 0h1m1 0h1m4 0h1m3 0h1m4 0h1m33 0h1m6 0h3m1 0h1m4 0h1m6 0h1m1 0h3m10 0h1M21 120h1m17 0h1m1 0h2m5 0h1m26 0h1m4 0h1m4 0h3m17 0h1m5 0h1m2 0h2m2 0h1m16 0h1m17 0h1m14 0h1M30 121h1m5 0h1m63 0h2m6 0h1m1 0h1m4 0h1m3 0h1m4 0h1M29 122h1m11 0h1m12 0h1m3 0h1m9 0h1m13 0h1m1 0h1m14 0h1m13 0h1m39 0h1M9 123h1m29 0h1m25 0h1m3 0h1m18 0h1m8 0h1m10 0h1m32 0h1m1 0h1M28 124h1m7 0h1m20 0h1m4 0h1m3 0h1m4 0h1m1 0h1m23 0h1m10 0h1m2 0h1m22 0h1M37 125h1m5 0h1m3 0h2m22 0h1m7 0h1m11 0h1m20 0h1m24 0h1m13 0h1M12 126h1m10 0h1m21 0h1m12 0h1m1 0h1m2 0h1m13 0h1m5 0h1m1 0h1m3 0h1m1 0h1m2 0h1m25 0h1m15 0h2m2 0h1m6 0h1M23 127h1m15 0h1m16 0h1m6 0h1m19 0h1m6 0h1m7 0h1m4 0h1m16 0h3m41 0h1M20 128h1m11 0h1m4 0h1m64 0h1m34 0h1m5 0h1m35 0h1M0 129h1m8 0h1m12 0h1m31 0h2m9 0h2m8 0h1m5 0h1m10 0h1m10 0h1m11 0h1m2 0h1M43 130h1m6 0h1m2 0h1m8 0h1m3 0h1m11 0h1m3 0h1m11 0h1m10 0h1m14 0h2m12 0h2M38 131h1m20 0h1m4 0h1m11 0h2m2 0h1m25 0h2m5 0h1m11 0h1m2 0h1m10 0h1m19 0h1m11 0h1M34 132h1m1 0h1m25 0h1m5 0h1m10 0h1m6 0h1m22 0h1m4 0h1m24 0h1m7 0h1m1 0h1M32 133h1m10 0h2m2 0h1m4 0h1m3 0h1m10 0h1m8 0h2m13 0h1m2 0h1m1 0h2m14 0h1m4 0h1m3 0h2m8 0h1m15 0h1M17 134h1m25 0h1m11 0h3m1 0h1m2 0h1m4 0h1m15 0h1m21 0h1m6 0h1m12 0h1m25 0h1M10 135h1m23 0h1m11 0h1m5 0h1m6 0h1m5 0h1m2 0h1m7 0h1m1 0h1m2 0h1m19 0h2m24 0h1m5 0h1m3 0h1m15 0h1M7 136h1m21 0h1m7 0h1m5 0h1m4 0h1m31 0h1m22 0h1m2 0h1m1 0h1m5 0h1m2 0h1m4 0h1m1 0h1m23 0h1m12 0h1M51 137h1m6 0h1m9 0h1m12 0h1m7 0h1m10 0h1m7 0h3m4 0h1m11 0h1m4 0h1m6 0h1m8 0h1M0 138h1m54 0h1m2 0h2m32 0h1m22 0h1M21 139h1m21 0h1m12 0h1m7 0h1m4 0h1m8 0h1m8 0h1m11 0h1m6 0h1m10 0h1M26 140h1m36 0h1m8 0h1m15 0h2m6 0h1M65 141h1m6 0h1m16 0h1m4 0h1m2 0h1m8 0h1m2 0h2m14 0h1M11 142h1m24 0h1m4 0h1m1 0h1m24 0h1m3 0h1m19 0h1m17 0h2m26 0h2m23 0h1M32 143h1m25 0h2m10 0h2m3 0h1m18 0h1m28 0h1m5 0h1m17 0h1m37 0h1m2 0h1M29 144h1m17 0h1m3 0h1m3 0h1m17 0h1m5 0h1m18 0h1m16 0h1m5 0h1m1 0h1m8 0h1m6 0h1M38 145h1m27 0h1m10 0h1m4 0h1m1 0h1m1 0h1m35 0h1m2 0h2M9 146h1m63 0h1m5 0h1m5 0h1m2 0h1m18 0h1m17 0h1m16 0h1M29 147h1m26 0h1m5 0h1m12 0h1m2 0h2m11 0h1m15 0h1m9 0h1m9 0h1M19 148h1m30 0h3m15 0h1m9 0h1m6 0h1m25 0h1m7 0h1m6 0h1m13 0h1M27 149h2m23 0h1m13 0h2m11 0h1m4 0h1m27 0h1m14 0h1m1 0h1M62 150h1m14 0h1m23 0h2m2 0h1m48 0h1m6 0h1M60 151h1m1 0h1m22 0h1m3 0h1m1 0h2M26 152h1m13 0h1m27 0h1m2 0h1m28 0h1m30 0h1m4 0h1M25 153h1m25 0h1m5 0h1m25 0h1m11 0h1m1 0h1m1 0h1m20 0h1m3 0h1m26 0h1M52 154h1m12 0h1m6 0h1m12 0h1m27 0h2M35 155h1m28 0h2m4 0h1m1 0h1m12 0h2m1 0h1m5 0h1m12 0h1m12 0h1m12 0h1m48 0h1M18 156h1m45 0h1m7 0h1m15 0h1m55 0h1M54 157h1m1 0h1m18 0h1m13 0h1m10 0h1m14 0h1m13 0h1M69 158h1m1 0h1m10 0h1m1 0h2m9 0h1m7 0h2m12 0h1m5 0h1m10 0h1M16 159h1m40 0h1m5 0h1m18 0h1m24 0h1M40 160h1m4 0h1m10 0h1m3 0h1m5 0h1m13 0h1m2 0h1m22 0h1M61 161h1m7 0h1m6 0h1M12 162h1m27 0h1m6 0h1m56 0h1m1 0h2m14 0h1m6 0h1m13 0h1M26 163h1m51 0h1m74 0h1M24 164h1m13 0h1m36 0h1m10 0h2m20 0h1m3 0h1M38 165h1m4 0h1m23 0h1m10 0h1m13 0h2m20 0h1m72 0h1M53 166h1m7 0h1m13 0h1m2 0h1m11 0h1m1 0h1m11 0h1m6 0h1M57 167h1m22 0h1m6 0h2m4 0h1m14 0h1m29 0h1m7 0h1M49 168h1m1 0h1m41 0h1m38 0h1m7 0h1m3 0h1M10 169h1m43 0h1m15 0h2m9 0h1m5 0h2m5 0h1m20 0h1m5 0h1M33 170h1m22 0h1m15 0h1m27 0h1m30 0h1M48 171h1m17 0h1m25 0h1m36 0h1M56 172h1m7 0h1m10 0h1m17 0h1M32 173h1m48 0h2m26 0h1m14 0h1m30 0h1M74 174h1m5 0h1m13 0h1m6 0h1m7 0h1M58 175h1m48 0h1m3 0h1M68 176h1m12 0h1M42 177h1m42 0h1m1 0h1m21 0h1M37 178h1m22 0h1m14 0h1m2 0h1m8 0h1m13 0h1M51 179h1m10 0h1m13 0h1m14 0h1M13 181h1M23 182h1M97 184h1M68 186h1M53 188h1m9 0h1m23 0h1m16 0h1M42 189h1m42 0h1m8 0h1M2 190h1m46 0h1M68 191h1m19 0h1M96 192h1M73 197h1M38 198h1m36 0h1M57 199h1m47 0h1"/>
<path stroke="#2eb7a4" d="M110 1h1M33 4h1M90 8h1M55 10h1m50 0h1M93 12h1m2 0h1M76 13h1M91 15h1M47 16h1m60 0h1m23 0h1M55 18h1m79 0h1M77 19h1M61 20h1m32 0h1M89 21h1M66 22h1M30 23h1m45 0h1m3 0h1M78 24h1m25 0h1m2 0h1M56 25h1m10 0h1M56 26h1m6 0h1M73 27h1m2 0h1m8 0h1m18 0h1M113 28h1m11 0h1M39 29h1m65 0h1M9 30h1m48 0h1M29 31h1m40 0h1m4 0h1m69 0h1M16 32h1m38 0h1m80 0h1M93 33h1m64 0h1M68 34h1m14 0h1m5 0h1m42 0h1m9 0h1M46 35h1m14 0h1m14 0h1m1 0h1m1 0h1m26 0h1m4 0h1m10 0h1M52 36h2m3 0h1m5 0h1m7 0h1m9 0h1m5 0h1m38 0h2M74 37h1m11 0h1m4 0h1m5 0h1m2 0h1m34 0h1M15 38h1m53 0h1m3 0h1m22 0h1M45 39h2m28 0h1m13 0h1m47 0h1M58 40h1m14 0h1m24 0h1m2 0h1m11 0h1M28 41h1m25 0h1m14 0h1m11 0h1m15 0h1m11 0h1M63 42h1m32 0h1m9 0h1m45 0h1M31 43h1m3 0h1m4 0h1m14 0h1m10 0h1M97 44h1m2 0h2m4 0h1M33 45h1m55 0h1m12 0h1m5 0h1m45 0h1M71 46h2m7 0h1m8 0h1m2 0h1m3 0h1m4 0h1m8 0h1m3 0h1M27 47h1m7 0h1m15 0h1m10 0h1m25 0h1m1 0h1m24 0h1m8 0h1m3 0h1M42 48h2m9 0h1m4 0h1m8 0h1m18 0h1m3 0h1m16 0h1m19 0h1m12 0h1M18 49h1m16 0h1m18 0h1m18 0h1m21 0h1m11 0h1m8 0h1m23 0h1m4 0h1m2 0h1M43 50h1m12 0h1m21 0h1m9 0h1m4 0h1m4 0h1m22 0h1M13 51h1m7 0h1m3 0h1m32 0h1m14 0h1m45 0h1m5 0h1m19 0h1M39 52h1m1 0h1m58 0h1m3 0h1m8 0h1m32 0h1M22 53h1m30 0h1m19 0h1m4 0h1m14 0h1m18 0h1m1 0h1m19 0h1m35 0h1M12 54h1m36 0h1m7 0h1m2 0h1m25 0h1m8 0h1m2 0h1m66 0h1M42 55h1m15 0h1m11 0h1m16 0h1m20 0h1m2 0h1m4 0h1m4 0h1m23 0h1M42 56h1m10 0h2m12 0h1m8 0h1m7 0h1m7 0h1m1 0h1m47 0h1m6 0h1m2 0h1m37 0h1M37 57h1m2 0h2m31 0h1m7 0h1m3 0h1m16 0h1m4 0h1m4 0h1m1 0h1m42 0h1m8 0h1M34 58h1m3 0h1m29 0h3m15 0h1m21 0h1m3 0h1m62 0h1M49 59h1m8 0h1m26 0h1m6 0h1m6 0h1m9 0h1m12 0h1M26 60h1m8 0h1m11 0h1m21 0h2m8 0h1m4 0h2m6 0h1m1 0h1m2 0h1m19 0h1M50 61h1m9 0h1m12 0h1m3 0h1m1 0h1m1 0h3m2 0h1m1 0h1m26 0h1m11 0h2m2 0h1M27 62h1m27 0h3m1 0h1m1 0h1m13 0h2m2 0h2m1 0h1m9 0h1m10 0h1m9 0h1m17 0h1m7 0h1M11 63h1m13 0h1m14 0h1m30 0h1m17 0h1m2 0h1m7 0h1m2 0h2m15 0h1m32 0h1M17 64h1m10 0h1m18 0h1m9 0h1m1 0h1m1 0h1m12 0h1m17 0h1m2 0h1m19 0h1m1 0h1m11 0h1M11 65h1m12 0h1m8 0h1m27 0h2m1 0h1m6 0h1m5 0h1m33 0h2m1 0h1m11 0h1m8 0h1m7 0h1m12 0h1M2 66h1m11 0h1m25 0h1m15 0h1m25 0h1m1 0h1m6 0h1m1 0h1m1 0h1m21 0h1m8 0h1m6 0h1m19 0h1m6 0h1M35 67h1m17 0h2m27 0h1m1 0h1m1 0h1m18 0h1m17 0h1m19 0h1M55 68h1m20 0h1m40 0h1m18 0h1M29 69h1m8 0h1m12 0h1m16 0h1m1 0h1m8 0h1m8 0h2m5 0h1m14 0h1m7 0h1m2 0h1M5 70h1m5 0h1m6 0h1m43 0h1m2 0h2m32 0h1m3 0h1m9 0h1m16 0h1m13 0h1m10 0h1m8 0h1M53 71h1m12 0h1m2 0h1m19 0h1m1 0h2m4 0h1m4 0h1m6 0h1m28 0h1M19 72h1m2 0h1m2 0h1m4 0h1m7 0h1m4 0h1m12 0h1m8 0h1m14 0h2m7 0h1m1 0h1m27 0h1m4 0h1m2 0h1m18 0h1m20 0h1M21 73h1m14 0h1m4 0h1m18 0h1m10 0h2m12 0h1m4 0h1m2 0h1m3 0h1m13 0h1m7 0h1m9 0h1m6 0h1m12 0h1M3 74h1m32 0h1m4 0h1m3 0h1m42 0h1m1 0h1m2 0h1m3 0h1m9 0h2m15 0h3m4 0h1m3 0h1m20 0h1m5 0h1m2 0h1M21 75h1m32 0h1m1 0h1m1 0h1m5 0h1m8 0h3m15 0h1m2 0h1m24 0h1m21 0h1m15 0h1m20 0h2M15 76h1m24 0h1m17 0h1m9 0h1m4 0h1m3 0h1m6 0h1m19 0h1m3 0h1m12 0h1m3 0h1m21 0h1m1 0h1m3 0h1M16 77h1m23 0h1m1 0h1m3 0h1m4 0h1m9 0h1m9 0h1m5 0h2m2 0h1m2 0h1m7 0h1m12 0h1m3 0h1m4 0h1m2 0h1m1 0h1m5 0h2m12 0h1m7 0h1m3 0h1m1 0h1M54 78h1m4 0h2m1 0h1m2 0h1m1 0h1m8 0h1m3 0h1m5 0h1m7 0h1m12 0h1m22 0h1m9 0h1M61 79h1m10 0h1m21 0h1m8 0h1m5 0h1m1 0h1m15 0h1m1 0h1m1 0h1m28 0h1M46 80h1m6 0h1m10 0h1m7 0h1m2 0h1m3 0h1m2 0h1m4 0h1m5 0h1m2 0h1m12 0h2m11 0h2m8 0h1m5 0h1M7 81h1m22 0h1m6 0h1m15 0h2m43 0h1m1 0h2m4 0h1m1 0h1m6 0h1m2 0h1m4 0h1m2 0h2m1 0h1m9 0h1m14 0h1M13 82h1m16 0h1m6 0h1m23 0h1m4 0h2m5 0h1m3 0h1m13 0h1m8 0h1m15 0h1m1 0h2m8 0h2m11 0h1M15 83h1m3 0h1m15 0h1m3 0h1m6 0h1m2 0h1m1 0h1m3 0h1m1 0h1m1 0h1m7 0h2m2 0h1m10 0h1m4 0h1m1 0h1m14 0h1m14 0h1m2 0h1m4 0h1m2 0h1m9 0h1m36 0h1M22 84h1m5 0h1m7 0h1m30 0h1m1 0h1m21 0h1m4 0h1m3 0h1m1 0h1m4 0h1m7 0h1m11 0h1m9 0h1m7 0h1M0 85h1m29 0h3m2 0h1m2 0h1m3 0h1m9 0h1m14 0h1m12 0h1m3 0h1m7 0h1m5 0h1m9 0h2m5 0h1m1 0h1m7 0h1m5 0h1m8 0h1m6 0h1M21 86h1m35 0h1m6 0h1m11 0h1m2 0h1m7 0h1m8 0h1m7 0h1m35 0h1m31 0h1M29 87h1m16 0h1m1 0h1m4 0h1m2 0h1m1 0h1m18 0h1m19 0h1m13 0h1m24 0h2m22 0h1m2 0h1M1 88h1m26 0h1m3 0h1m7 0h1m1 0h1m15 0h1m8 0h1m6 0h1m2 0h2m11 0h2m11 0h1m8 0h1m9 0h1m4 0h1m2 0h1m5 0h1m2 0h1m29 0h1M12 89h1m8 0h1m7 0h1m12 0h1m6 0h1m1 0h1m5 0h1m9 0h2m3 0h1m2 0h1m12 0h1m7 0h2m36 0h1m2 0h1M47 90h1m6 0h1m10 0h1m9 0h1m18 0h1m14 0h1m25 0h1m2 0h1m1 0h1m23 0h1M6 91h1m7 0h1m3 0h1m4 0h1m5 0h2m16 0h1m5 0h1m5 0h2m2 0h2m4 0h1m10 0h1m5 0h1m3 0h1m3 0h1m8 0h1m3 0h1m2 0h1m1 0h1m7 0h1m3 0h1m8 0h1m7 0h1m17 0h1m25 0h1M11 92h1m28 0h1m2 0h1m3 0h1m8 0h1m4 0h1m2 0h1m4 0h1m8 0h1m17 0h1m15 0h2m6 0h3m13 0h1m29 0h1M14 93h1m3 0h1m14 0h1m4 0h1m9 0h1m7 0h1m9 0h1m11 0h2m3 0h2m2 0h1m15 0h1m1 0h1m9 0h1m9 0h1m4 0h1m3 0h2m17 0h1M17 94h1m18 0h1m3 0h2m3 0h1m3 0h1m9 0h1m23 0h1m15 0h1m7 0h1m3 0h1m1 0h1m20 0h1m1 0h1m3 0h1m2 0h1M28 95h1m8 0h1m23 0h1m2 0h1m2 0h1m10 0h1m32 0h1m9 0h2m4 0h1m10 0h1m1 0h1m16 0h1m18 0h1m1 0h1M12 96h1m16 0h1m2 0h1m20 0h1m9 0h1m2 0h1m8 0h1m8 0h1m29 0h2m19 0h1m9 0h1M6 97h1m16 0h1m10 0h1m5 0h1m3 0h1m8 0h1m10 0h2m5 0h1m1 0h1m4 0h1m4 0h1m6 0h1m4 0h1m6 0h1m1 0h1m4 0h1m2 0h1m1 0h1m3 0h2m3 0h2m8 0h1m27 0h1m12 0h1M27 98h1m30 0h1m7 0h1m5 0h1m12 0h1m5 0h1m8 0h1m1 0h1m1 0h1m17 0h1m4 0h1m5 0h1m33 0h1m7 0h1M37 99h2m7 0h1m2 0h1m9 0h1m7 0h1m3 0h1m2 0h1m5 0h1m3 0h1m20 0h1m3 0h1m3 0h1m4 0h1m6 0h2m1 0h2m7 0h1m10 0h1M7 100h1m6 0h1m1 0h1m8 0h1m2 0h1m2 0h1m18 0h2m7 0h1m13 0h1m1 0h1m7 0h1m2 0h1m1 0h1m3 0h1m1 0h1m1 0h1m5 0h1m2 0h1m1 0h2m3 0h1m6 0h1m8 0h1m5 0h1m9 0h1m4 0h1M0 101h1m39 0h1m1 0h1m2 0h1m16 0h1m2 0h1m19 0h1m6 0h1m7 0h1m5 0h2m23 0h1m7 0h1m6 0h2m11 0h1m3 0h1M9 102h1m16 0h1m18 0h1m6 0h1m9 0h2m7 0h1m6 0h1m4 0h1m11 0h1m8 0h1m28 0h1M10 103h1m21 0h1m5 0h1m14 0h2m2 0h1m2 0h1m6 0h2m3 0h1m16 0h2m8 0h2m7 0h1m2 0h1m5 0h1m1 0h1m3 0h2m8 0h1m10 0h1m5 0h1m7 0h1M26 104h1m8 0h1m8 0h1m1 0h1m2 0h1m2 0h3m11 0h1m1 0h1m1 0h1m37 0h1m1 0h1m9 0h1m2 0h1m9 0h1m26 0h1M22 105h1m6 0h1m10 0h1m13 0h1m3 0h1m9 0h2m4 0h2m6 0h1m8 0h1m2 0h1m4 0h1m2 0h1m6 0h1m1 0h3m9 0h1m1 0h1m4 0h1m7 0h1m7 0h1m1 0h1m42 0h1M11 106h1m12 0h1m15 0h1m17 0h1m2 0h1m2 0h1m4 0h1m2 0h1m3 0h1m26 0h1m7 0h2m1 0h1m1 0h1m3 0h1m30 0h1m2 0h1m15 0h1M17 107h1m32 0h1m2 0h1m17 0h1m2 0h1m3 0h1m2 0h1m2 0h2m8 0h1m6 0h1m9 0h1m1 0h1m1 0h1m15 0h1M15 108h1m30 0h1m28 0h1m5 0h1m1 0h1m1 0h1m2 0h1m7 0h1m4 0h1m3 0h2m2 0h1m2 0h1m2 0h1m5 0h1m10 0h1m1 0h1M33 109h1m1 0h1m2 0h1m12 0h1m16 0h1m5 0h1m15 0h1m4 0h1m7 0h1m6 0h1m21 0h1m26 0h1m26 0h1M35 110h1m3 0h1m8 0h1m5 0h1m6 0h1m8 0h1m5 0h1m19 0h1m14 0h1m6 0h1m3 0h1m25 0h2m8 0h1M59 111h1m1 0h1m1 0h1m16 0h1m7 0h1m6 0h1m7 0h1m6 0h1m13 0h1m4 0h1m13 0h1m3 0h1M23 112h1m1 0h1m19 0h1m3 0h1m2 0h2m1 0h1m5 0h1m1 0h1m8 0h1m16 0h1m7 0h1m5 0h2m24 0h2m13 0h2m5 0h1M47 113h1m6 0h1m10 0h1m8 0h1m7 0h1m5 0h1m9 0h1m2 0h2m6 0h1m7 0h1m13 0h1m20 0h1m8 0h1M8 114h1m16 0h1m11 0h1m1 0h1m6 0h2m5 0h1m17 0h1m1 0h1m1 0h1m5 0h1m1 0h1m1 0h2m3 0h1m5 0h1m2 0h1m1 0h1m6 0h1m3 0h1m3 0h1m7 0h3m7 0h1m3 0h1M42 115h1m1 0h1m3 0h1m1 0h1m2 0h1m2 0h1m14 0h1m3 0h1m22 0h1m3 0h1m1 0h2m4 0h1m9 0h1m6 0h1m2 0h1m6 0h1m2 0h1M55 116h1m4 0h1m3 0h1m6 0h2m4 0h1m1 0h2m2 0h1m2 0h1m30 0h1m1 0h1M10 117h1m15 0h1m28 0h1m2 0h1m5 0h1m3 0h2m2 0h1m3 0h1m11 0h1m10 0h1m2 0h2m5 0h1m26 0h1m1 0h1m6 0h1m19 0h1M17 118h1m1 0h1m41 0h1m2 0h2m3 0h1m10 0h1m3 0h1m3 0h1m1 0h1m5 0h1m2 0h1m1 0h1m3 0h1m3 0h1m6 0h1m7 0h1m12 0h1m12 0h1m1 0h1m11 0h1M31 119h1m6 0h1m1 0h1m7 0h1m6 0h1m3 0h1m2 0h1m17 0h1m2 0h1m5 0h1m5 0h1m1 0h1m16 0h1m10 0h1m16 0h1M43 120h1m6 0h3m2 0h1m2 0h2m12 0h1m1 0h1m1 0h2m4 0h1m5 0h1m10 0h2M2 121h1m40 0h1m14 0h1m18 0h3m6 0h1m4 0h1m3 0h1m22 0h1m2 0h1m5 0h1m4 0h1m1 0h1m12 0h1m6 0h1M44 122h1m1 0h1m4 0h1m9 0h1m10 0h1m6 0h1m25 0h1m1 0h1m1 0h1m7 0h1m6 0h2m2 0h1m9 0h1M24 123h1m16 0h1m5 0h1m8 0h1m6 0h1m12 0h1m5 0h3m17 0h2m7 0h1m6 0h1M20 124h1m6 0h1m12 0h1m43 0h1m1 0h1m22 0h1m4 0h1m32 0h1M41 125h1m7 0h1m2 0h1m4 0h1m2 0h1m15 0h1m3 0h1m12 0h1m5 0h1m4 0h1m10 0h1m14 0h1m8 0h1m1 0h1m20 0h1m5 0h1m14 0h1M24 126h1m6 0h1m10 0h1m13 0h1m15 0h1m7 0h1m20 0h1m6 0h1m1 0h1m58 0h1M43 127h1m4 0h2m2 0h2m5 0h1m4 0h1m15 0h1m5 0h1m2 0h1m5 0h1m10 0h1m4 0h1m2 0h1m15 0h1M19 128h1m22 0h1m1 0h1m7 0h1m5 0h2m2 0h1m13 0h1m16 0h1m22 0h1m7 0h1m10 0h1m2 0h1m32 0h1M5 129h1m19 0h1m2 0h1m2 0h1m5 0h1m3 0h1m10 0h1m27 0h1m6 0h1m1 0h1m7 0h1m19 0h1m1 0h1m3 0h1m4 0h1m19 0h1M33 130h1m36 0h1m19 0h1m10 0h2m1 0h1m9 0h1m1 0h1m31 0h1m9 0h1M20 131h1m7 0h1m24 0h2m10 0h1m1 0h1m7 0h1m17 0h1m9 0h1m1 0h1m2 0h2m21 0h1m56 0h1M20 132h1m18 0h1m13 0h1m15 0h1m4 0h1m24 0h1m3 0h1m2 0h1m6 0h1m16 0h1m57 0h1M60 133h1m9 0h1m3 0h1m27 0h1m1 0h1m2 0h1m5 0h1m16 0h1m6 0h1M54 134h1m10 0h1m4 0h1m5 0h1m10 0h1m5 0h1m1 0h1m3 0h1m14 0h1m11 0h1M37 135h1m16 0h1m16 0h1m1 0h1m8 0h1m14 0h1m5 0h1m32 0h1m34 0h1M18 136h1m16 0h2m14 0h1m17 0h1m2 0h1m10 0h1m16 0h1m20 0h1M35 137h1m14 0h1m12 0h1m14 0h1m4 0h2m8 0h1m5 0h1m25 0h1m4 0h1m3 0h1M31 138h1m37 0h2m2 0h2m5 0h1m15 0h1m1 0h1m1 0h1m1 0h1m6 0h1m13 0h1m6 0h1m3 0h1M48 139h1m28 0h1m2 0h1m12 0h1m8 0h1m5 0h1m6 0h1m22 0h2M24 140h1m16 0h1m10 0h1m12 0h2m4 0h1m30 0h1M34 141h1m34 0h1m4 0h1m41 0h1m5 0h1m18 0h1M69 142h1m3 0h1m4 0h1m21 0h1m6 0h1m25 0h1m14 0h1m2 0h1M17 143h1m12 0h1m12 0h1m17 0h1m4 0h1m16 0h1m5 0h1m12 0h1m11 0h1m57 0h1M57 144h1m11 0h2m11 0h1m12 0h2m16 0h1M59 145h1m10 0h1m9 0h1m17 0h1m12 0h1M43 146h1m7 0h1m32 0h1m4 0h2m2 0h1m9 0h1m12 0h1m17 0h1m2 0h1m6 0h1M12 147h1m29 0h1m4 0h1m5 0h1m1 0h1m26 0h1m2 0h2m24 0h1m1 0h1m7 0h1m15 0h1M59 148h1m3 0h1m11 0h1m33 0h1m2 0h1m15 0h1M42 149h1m21 0h1m9 0h1m12 0h1m6 0h1m15 0h1m2 0h1m2 0h1m67 0h1M29 150h1m50 0h1m3 0h1m10 0h1m20 0h1m10 0h1m8 0h1M14 151h1m41 0h1m10 0h1m3 0h1m3 0h1m7 0h1m13 0h1m1 0h1m88 0h1M72 152h1m8 0h1m37 0h1m3 0h1M21 153h1m22 0h1m17 0h2m3 0h1m4 0h1m4 0h1m4 0h1m17 0h1m7 0h1M20 154h1m9 0h1m17 0h1m26 0h1m22 0h1m16 0h1M53 155h1m2 0h2m4 0h1m12 0h1m15 0h1m1 0h1M0 156h1m32 0h1m10 0h1m12 0h2m6 0h1m30 0h1M32 157h1m16 0h1m18 0h1m28 0h1m10 0h1m16 0h1M59 158h1m6 0h1m8 0h1m49 0h1M29 159h1m35 0h1m58 0h1m2 0h1m12 0h1M37 160h1m3 0h1m31 0h1m15 0h1m32 0h1M59 161h1m6 0h1m1 0h1m49 0h1M55 162h1m9 0h1m6 0h1m47 0h1M47 163h1m18 0h1M37 164h1m71 0h1M58 165h1m35 0h1m24 0h1M84 167h1m5 0h1m3 0h1M52 168h1m21 0h1m5 0h1m8 0h1M64 169h1m30 0h1m12 0h1m23 0h1M28 170h1m78 0h1m11 0h1m1 0h1m30 0h1M93 171h1m10 0h1m9 0h1m13 0h1M79 172h1m14 0h1M91 173h1M51 174h1m8 0h1m9 0h1M38 175h1m58 0h1m14 0h1m10 0h1M27 176h1m19 0h1m24 0h1m63 0h1M90 177h1M51 178h1m13 0h1m8 0h1m10 0h1M55 179h1m4 0h1M36 180h1m45 0h1M95 182h1m62 0h1M49 183h1m61 0h1M64 184h1m20 0h1M76 186h1m37 0h1m16 0h1M74 187h1m75 0h1M30 188h1m45 0h1m34 0h1M27 189h1M103 190h1M109 194h1M41 196h1"/>
<path stroke="#52ba92" d="M116 1h1M64 4h1M176 5h1M43 11h1M108 12h1M153 13h1M24 14h1M86 15h1m21 0h1M42 16h1M74 17h1M29 18h1M66 19h1M74 20h1m16 0h1M64 21h2m15 0h1M64 22h1m14 0h1M35 23h1m49 0h1M100 25h1m10 0h1m13 0h1M118 26h1M55 27h1m4 0h1m58 0h1m3 0h1M26 28h1m74 0h1M143 29h1M83 30h1M93 31h1m16 0h1M3 32h1m68 0h1m9 0h1m31 0h1m28 0h1M73 33h1m15 0h1M69 34h1M72 35h1m21 0h1m21 0h1M65 36h1m13 0h1m26 0h1M47 37h1m10 0h1m4 0h1m2 0h2m20 0h1m42 0h1M66 38h1m31 0h1m6 0h1m2 0h1M6 39h1m52 0h1m19 0h1m28 0h1M28 40h1m45 0h1m9 0h1m34 0h1M112 41h1M72 42h1m28 0h1m19 0h1m19 0h1M75 43h1m23 0h1m9 0h1m4 0h1m23 0h1M22 44h1m31 0h1m12 0h2m16 0h1m3 0h1m3 0h1M56 45h1m5 0h1m14 0h1m21 0h1m34 0h1m36 0h1M6 46h1m60 0h1m40 0h1m18 0h1m1 0h1m18 0h1M53 47h1m32 0h1m5 0h1m12 0h1m14 0h1M27 48h1m3 0h1m13 0h1m8 0h1m11 0h1m2 0h1m10 0h1M59 49h1m22 0h1m1 0h1m2 0h1M33 50h1m23 0h1m21 0h1m60 0h1M24 51h1m20 0h1m3 0h1m2 0h1m14 0h1m25 0h1m9 0h1m10 0h1m17 0h1m1 0h1M45 52h1m8 0h1m32 0h1m1 0h1m19 0h2m14 0h1m4 0h2M66 53h1m5 0h1m38 0h1m1 0h1m17 0h1M23 54h1m43 0h1m9 0h1m7 0h1m2 0h2m7 0h1m3 0h1m3 0h1m1 0h2m17 0h1M64 55h1m1 0h1m6 0h2m5 0h1m4 0h1m3 0h1m2 0h1m3 0h1m12 0h1m2 0h1m37 0h1M34 56h1m35 0h2m26 0h1m10 0h1m3 0h1m21 0h1M11 57h1m32 0h1m14 0h1m22 0h1m6 0h1m8 0h1m27 0h1M40 58h1m4 0h1m18 0h1m7 0h1m3 0h2m9 0h1m18 0h2m11 0h1m17 0h1m2 0h1m8 0h1M24 59h1m22 0h1m6 0h1m4 0h1m1 0h1m10 0h1m3 0h1m29 0h1m5 0h1m8 0h1M36 60h1m6 0h1m2 0h1m24 0h1m9 0h1m11 0h1m52 0h1M32 61h1m6 0h1m17 0h1m10 0h1m32 0h1m14 0h1m3 0h1M45 62h1m25 0h2m39 0h1m5 0h1m36 0h1m8 0h1M37 63h1m5 0h1m1 0h1m16 0h1m6 0h2m13 0h1m1 0h1m4 0h1m2 0h1m6 0h1m3 0h1m1 0h1m3 0h1m1 0h1m5 0h1m2 0h1m25 0h1M19 64h1m4 0h1m7 0h1m30 0h2m6 0h1m5 0h2m3 0h2m2 0h1m1 0h2m6 0h1m3 0h2m5 0h1m10 0h1m5 0h1M19 65h1m10 0h1m5 0h1m26 0h1m4 0h1m14 0h1m10 0h2m2 0h1m20 0h1m3 0h1m10 0h1m33 0h1M49 66h1m2 0h1m1 0h1m23 0h2m3 0h1m1 0h1m10 0h1m4 0h1m2 0h1m1 0h1m4 0h1M28 67h1m13 0h1m12 0h1m8 0h1m9 0h1m4 0h1m1 0h1m1 0h1m6 0h1m3 0h1m7 0h1m45 0h1m12 0h1M33 68h1m10 0h1m6 0h1m16 0h1m3 0h1m8 0h1m5 0h2m7 0h1m1 0h1m3 0h1m2 0h1m9 0h1M10 69h1m24 0h1m12 0h1m8 0h1m2 0h1m2 0h1m1 0h1m7 0h1m3 0h1m9 0h1m2 0h1m3 0h1m5 0h1m1 0h3m7 0h1m15 0h1m7 0h1m39 0h1M49 70h1m26 0h4m1 0h1m10 0h1m21 0h1m2 0h1m5 0h2m26 0h1M20 71h2m16 0h1m11 0h1m21 0h1m6 0h1m14 0h1m5 0h1m4 0h1m7 0h1m29 0h2m21 0h1M47 72h1m15 0h1m6 0h1m3 0h1m2 0h1m10 0h1m5 0h2m4 0h1m1 0h1m31 0h1M2 73h1m42 0h1m5 0h1m2 0h1m2 0h1m19 0h1m5 0h1m8 0h1m10 0h1m8 0h1m5 0h1m6 0h1m8 0h1m18 0h1M30 74h1m22 0h1m7 0h1m9 0h1m6 0h1m7 0h1m5 0h1m11 0h1m1 0h1m2 0h1m8 0h2m27 0h1m3 0h1M27 75h1m14 0h1m3 0h1m3 0h2m10 0h1m6 0h1m6 0h1m4 0h1m2 0h1m1 0h1m2 0h1m3 0h1m5 0h2m4 0h1m6 0h1m4 0h1m7 0h1m1 0h1m60 0h1M32 76h1m2 0h1m3 0h1m8 0h1m10 0h1m4 0h1m7 0h1m5 0h1m1 0h1m2 0h1m13 0h1m8 0h1m8 0h1m13 0h3m2 0h1m5 0h1m3 0h1M17 77h1m25 0h1m9 0h2m7 0h1m12 0h1m13 0h1m1 0h1m1 0h1m2 0h1m1 0h1m4 0h1m2 0h2m5 0h1m18 0h1m5 0h1m7 0h1M41 78h1m19 0h1m1 0h1m5 0h2m6 0h1m3 0h1m1 0h1m15 0h1m1 0h1m27 0h1M24 79h1m9 0h1m4 0h1m8 0h1m24 0h1m5 0h1m6 0h1m11 0h1m5 0h1m3 0h1m10 0h1m5 0h1m19 0h2M16 80h1m6 0h1m24 0h1m11 0h2m4 0h1m2 0h1m1 0h1m2 0h1m23 0h1m6 0h1m6 0h1m1 0h1m58 0h1M42 81h1m16 0h1m1 0h1m1 0h1m14 0h1m7 0h2m14 0h1m6 0h1m1 0h1m26 0h1m16 0h1M35 82h1m7 0h1m7 0h1m5 0h2m1 0h1m17 0h1m8 0h1m5 0h1m2 0h1m5 0h2m3 0h1m4 0h1m1 0h1m8 0h1m1 0h1m18 0h1M5 83h1m3 0h1m22 0h2m7 0h1m2 0h1m2 0h1m16 0h1m4 0h1m2 0h1m2 0h1m2 0h1m4 0h1m9 0h1m2 0h1m5 0h1m5 0h1m15 0h2m12 0h1m4 0h1m5 0h1m5 0h1M13 84h1m17 0h1m15 0h2m21 0h1m12 0h1m2 0h1m2 0h1m5 0h1m2 0h1m6 0h1m6 0h1m1 0h1m1 0h1m1 0h2m1 0h1m1 0h1m8 0h1m22 0h1M48 85h1m1 0h1m4 0h1m6 0h1m5 0h1m2 0h1m9 0h2m3 0h1m3 0h1m2 0h2m6 0h1m4 0h2m2 0h1m13 0h1m17 0h1m29 0h1M36 86h1m1 0h1m3 0h1m1 0h1m17 0h2m1 0h1m18 0h3m4 0h2m2 0h1m14 0h1m1 0h1m3 0h1m2 0h1m3 0h1m2 0h1m2 0h1m33 0h1M19 87h1m4 0h1m2 0h1m19 0h1m3 0h1m2 0h1m19 0h1m4 0h1m13 0h1m7 0h1m5 0h1m6 0h1m4 0h1m3 0h1m1 0h1M48 88h1m1 0h1m18 0h1m2 0h2m1 0h1m4 0h1m1 0h1m11 0h1m16 0h1m2 0h1m3 0h1m13 0h1m30 0h1M14 89h1m30 0h1m1 0h1m11 0h2m16 0h1m2 0h2m2 0h1m20 0h1m3 0h1m2 0h1m7 0h2m10 0h1m13 0h1m29 0h1M33 90h1m8 0h1m1 0h1m1 0h1m2 0h1m7 0h1m2 0h1m8 0h1m14 0h1m3 0h3m1 0h1m2 0h1m4 0h1m2 0h2m12 0h1m13 0h1m2 0h1m2 0h1m4 0h1M0 91h1m24 0h1m7 0h1m7 0h1m7 0h1m6 0h1m1 0h1m14 0h1m1 0h1m2 0h1m2 0h1m10 0h1m8 0h1m14 0h1m5 0h1m2 0h1m1 0h1m4 0h1M8 92h1m8 0h1m12 0h1m14 0h1m5 0h1m2 0h1m10 0h1m4 0h1m16 0h1m10 0h1m11 0h1m13 0h1m2 0h1m9 0h1M17 93h1m4 0h1m22 0h1m16 0h1m1 0h1m2 0h1m3 0h1m5 0h1m3 0h1m3 0h1m18 0h1m1 0h1m4 0h1m1 0h1m4 0h2m2 0h1m9 0h1m10 0h1M50 94h2m12 0h1m14 0h1m5 0h1m5 0h1m1 0h1m4 0h1m1 0h1m4 0h1m6 0h1m6 0h1m2 0h2m1 0h1m3 0h1m9 0h1m14 0h1m1 0h1M11 95h1m14 0h1m21 0h3m1 0h1m9 0h1m5 0h1m44 0h1m5 0h1m8 0h1m1 0h1m4 0h1m5 0h1m8 0h1M30 96h1m26 0h2m8 0h1m24 0h1m1 0h1m2 0h1m14 0h1m23 0h1M32 97h1m5 0h2m7 0h1m4 0h1m5 0h1m4 0h1m2 0h1m2 0h1m6 0h1m3 0h1m20 0h1m8 0h1m5 0h1m3 0h1m8 0h1m20 0h1m2 0h1m10 0h1M16 98h1m13 0h1m20 0h1m11 0h2m2 0h1m1 0h1m7 0h1m1 0h1m7 0h1m4 0h1m19 0h1m18 0h1M55 99h1m2 0h1m1 0h1m3 0h1m10 0h1m3 0h1m7 0h1m1 0h1m3 0h1m9 0h1m18 0h1m16 0h1m11 0h1m6 0h1M11 100h1m23 0h2m12 0h1m7 0h1m6 0h2m2 0h1m7 0h1m4 0h1m24 0h1m3 0h2m4 0h1m3 0h2m7 0h1m1 0h1m3 0h1m5 0h1m21 0h1M17 101h1m17 0h1m1 0h2m5 0h1m1 0h1m1 0h1m3 0h1m14 0h1m9 0h1m5 0h1m3 0h1m2 0h1m12 0h1m6 0h3m6 0h1m5 0h3m4 0h1m1 0h1m3 0h1m3 0h1m31 0h1M16 102h1m13 0h1m7 0h1m1 0h1m2 0h1m11 0h1m3 0h1m1 0h1m7 0h1m4 0h1m4 0h1m1 0h1m2 0h1m1 0h1m5 0h1m3 0h1m2 0h1m9 0h1m3 0h3m1 0h1m4 0h1m38 0h1m5 0h1M36 103h1m6 0h1m2 0h1m8 0h1m7 0h1m5 0h1m4 0h1m2 0h1m2 0h1m3 0h1m2 0h1m10 0h1m13 0h1m9 0h1m5 0h1m5 0h1m1 0h1m23 0h1M21 104h1m15 0h1m10 0h1m2 0h1m3 0h2m2 0h1m5 0h1m11 0h1m6 0h1m5 0h1m3 0h2m3 0h1m3 0h1m8 0h1m11 0h1m49 0h1M30 105h1m15 0h1m16 0h1m3 0h1m24 0h2m1 0h1m20 0h1m16 0h1m5 0h1m21 0h1M28 106h1m1 0h1m6 0h1m5 0h1m7 0h1m13 0h1m7 0h1m3 0h3m9 0h3m6 0h1m3 0h1m3 0h1m8 0h1m6 0h1m11 0h1m29 0h1m14 0h1M39 107h1m1 0h1m2 0h1m9 0h1m4 0h1m1 0h3m6 0h1m5 0h1m13 0h1m15 0h1m3 0h1m23 0h1m5 0h1m14 0h1M17 108h1m7 0h1m30 0h1m10 0h1m18 0h1m8 0h1m20 0h1m7 0h1m13 0h1m1 0h1M23 109h1m17 0h1m1 0h1m9 0h1m8 0h1m20 0h2m4 0h1m1 0h1m21 0h1m9 0h1m6 0h1m17 0h1m42 0h1M26 110h1m11 0h1m19 0h1m1 0h1m1 0h1m17 0h1m16 0h1m2 0h1m14 0h1m1 0h1m2 0h2m1 0h1m12 0h1m34 0h1M36 111h1m7 0h2m10 0h2m4 0h1m15 0h1m5 0h1m7 0h1m5 0h1m1 0h1m1 0h1m3 0h1m15 0h1m40 0h1M18 112h1m17 0h1m3 0h1m16 0h1m4 0h1m8 0h1m2 0h1m15 0h2m3 0h1m11 0h2m7 0h1m1 0h2m13 0h2M18 113h1m11 0h1m25 0h1m18 0h1m3 0h1m4 0h3m6 0h1m10 0h1m13 0h1m9 0h2M29 114h1m26 0h1m4 0h1m1 0h1m30 0h1m9 0h1m4 0h1m1 0h1m10 0h1m5 0h1m15 0h1M45 115h1m15 0h1m11 0h1m9 0h1m11 0h2m3 0h1m6 0h1m1 0h1m2 0h1m21 0h1m1 0h1m22 0h1M32 116h1m15 0h1m2 0h1m5 0h1m3 0h1m1 0h1m11 0h1m14 0h2m7 0h1m32 0h1m13 0h1M11 117h1m2 0h1m36 0h1m35 0h1m5 0h1m12 0h1m5 0h1m12 0h1m16 0h1m13 0h1M24 118h1m1 0h1m12 0h1m20 0h1m1 0h1m11 0h1m20 0h1m1 0h1m12 0h2m8 0h1m5 0h1m7 0h1m4 0h1M0 119h1m18 0h1m17 0h1m4 0h1m3 0h1m19 0h2m11 0h1m2 0h1m2 0h1m13 0h1m5 0h1m4 0h1m1 0h1m18 0h1m15 0h1m12 0h1M56 120h1m5 0h1m7 0h1m7 0h1m5 0h1m8 0h1m4 0h1m3 0h2m3 0h1m37 0h1M23 121h1m24 0h1m6 0h1m1 0h1m5 0h1m4 0h2m11 0h1m14 0h1m17 0h1m31 0h1m3 0h1M26 122h1m16 0h1m4 0h1m7 0h1m3 0h1m3 0h1m1 0h1m2 0h1m15 0h1m2 0h1m5 0h1m2 0h1m8 0h1m3 0h1m9 0h3m3 0h2m5 0h1m20 0h1m25 0h1M27 123h1m21 0h1m4 0h1m2 0h1m6 0h1m6 0h1m2 0h1m2 0h1m9 0h1m1 0h1m1 0h2m3 0h1m17 0h1m7 0h1m4 0h1M32 124h1m13 0h1m4 0h1m1 0h1m1 0h1m11 0h2m5 0h1m2 0h1m1 0h1m14 0h1m4 0h1m2 0h1m9 0h1m4 0h1M2 125h1m36 0h1m13 0h1m8 0h1m18 0h1m5 0h1m6 0h1m15 0h1m3 0h1m12 0h1m3 0h1m4 0h1m3 0h1M17 126h1m23 0h1m19 0h1m7 0h1m17 0h1m18 0h1m4 0h1m6 0h1m2 0h1m17 0h1m1 0h1M9 127h1m27 0h1m22 0h1m1 0h1m8 0h1m1 0h1m2 0h1m11 0h1m3 0h1m11 0h1m11 0h2m19 0h1m4 0h1M11 128h1m15 0h1m21 0h2m13 0h1m18 0h1m4 0h2m8 0h1m5 0h1m2 0h2m16 0h1m41 0h1M47 129h1m1 0h1m9 0h1m4 0h1m8 0h1m4 0h2m4 0h2m5 0h1m3 0h2m2 0h1m2 0h1m2 0h1m4 0h2m14 0h1M38 130h1m2 0h1m4 0h1m8 0h1m4 0h2m6 0h1m3 0h1m3 0h2m5 0h1m9 0h1m2 0h1M24 131h1m17 0h1m8 0h1m8 0h2m4 0h1m5 0h2m23 0h2m22 0h1m18 0h1m2 0h1M28 132h1m4 0h1m4 0h1m20 0h1m1 0h1m8 0h1m16 0h1m2 0h2m13 0h1m2 0h1m12 0h1m30 0h1M23 133h1m33 0h1m23 0h1m3 0h2m2 0h1m2 0h1m22 0h1m2 0h1m29 0h1M26 134h1m17 0h1m4 0h1m10 0h1m3 0h1m9 0h1m2 0h2m2 0h1m7 0h1m6 0h1m6 0h1m3 0h2m28 0h1M56 135h1m42 0h1m4 0h3m4 0h3m2 0h1M27 136h1m10 0h1m19 0h1m1 0h3m10 0h2m1 0h1m15 0h1m1 0h1m24 0h1M25 137h1m44 0h2m16 0h1m2 0h1m5 0h1m7 0h1m23 0h1m6 0h1m10 0h1M9 138h1m44 0h1m21 0h1m2 0h1m6 0h1m4 0h1m7 0h1m12 0h1m11 0h1m8 0h1m6 0h1M71 139h1m1 0h3m3 0h1m5 0h1m10 0h1m19 0h1m28 0h1m3 0h1M79 140h2m5 0h1m10 0h1m1 0h1m16 0h1m11 0h1m51 0h1M12 141h1m66 0h2m11 0h2m4 0h1m12 0h1M44 142h1m18 0h1m30 0h1m7 0h2m11 0h1m10 0h1m13 0h1M49 143h1m10 0h1m7 0h1m12 0h2m17 0h1m33 0h1m24 0h1M16 144h1m11 0h1m2 0h1m28 0h1m4 0h1m6 0h1m7 0h1m3 0h1m3 0h1m2 0h1m24 0h1m8 0h1M94 145h1m7 0h1m16 0h1m15 0h1m17 0h1M22 146h1m18 0h1m5 0h1m1 0h1m3 0h1m3 0h2m2 0h1m18 0h1m27 0h1m9 0h1m13 0h1m23 0h1m3 0h1M16 147h1m31 0h1m24 0h1m27 0h1m18 0h1m5 0h1M76 148h1m19 0h1m1 0h1m7 0h1m3 0h1m21 0h1m16 0h1M57 149h2m29 0h1m11 0h1m8 0h1m9 0h2M44 150h1m1 0h1m10 0h1m8 0h2m3 0h1m9 0h2m13 0h1m2 0h2m7 0h1m1 0h1m2 0h1M61 151h1m6 0h1m15 0h1m2 0h1m6 0h1m10 0h1m1 0h1M14 152h1m69 0h1m13 0h1m3 0h1m3 0h1m2 0h1m14 0h1m27 0h1M37 153h1m42 0h1m25 0h1M44 154h1m28 0h1m2 0h1m23 0h1m8 0h1m9 0h1M24 155h1m18 0h1m58 0h1m12 0h1m18 0h1M7 156h1m47 0h1m3 0h1m23 0h1m32 0h1M44 157h1m48 0h2m8 0h1m18 0h1M96 158h1M58 159h1m16 0h1m3 0h1m29 0h1m1 0h1M59 160h1m11 0h1m6 0h1m14 0h1m5 0h1m15 0h1m1 0h1M40 161h1m17 0h1m11 0h1m6 0h1m18 0h1m1 0h1m16 0h1M79 162h1m3 0h1m5 0h1M74 163h1m16 0h1M54 164h2m34 0h2m75 0h1M37 165h1m37 0h1m34 0h1M87 166h1m15 0h1M66 167h1m51 0h1M103 168h1M79 169h1M10 170h1m43 0h1m7 0h1m32 0h1M88 171h1m14 0h1M47 172h1M76 173h1M81 174h1m7 0h1M80 175h1m53 0h1M104 176h1M61 177h1m14 0h1m20 0h1M70 178h1m37 0h1m12 0h1M148 180h1M30 181h1m64 0h1m13 0h1M121 186h1M72 188h1m41 0h1m6 0h1M89 189h1M84 191h1M104 193h1M75 195h1M86 197h1M115 198h1"/>
<path stroke="#74bd81" d="M19 8h1m103 0h1M68 11h1M41 22h1M47 26h1M92 27h1M105 28h1M53 29h1m54 0h1M14 30h1m5 0h1M74 31h1m4 0h1m2 0h1M26 32h1m19 0h1m10 0h1m13 0h1M47 33h1M11 34h1m87 0h1m14 0h1M105 35h2M26 36h1m42 0h1m14 0h1M112 37h1M49 38h1M38 39h1m64 0h1M46 40h1m40 0h1m37 0h1M76 41h1M67 42h1M80 43h1m20 0h1M31 44h1m28 0h1m13 0h3m19 0h1m28 0h1m31 0h1M68 45h2m23 0h1m15 0h1m33 0h1M56 46h1m19 0h1m5 0h1M71 47h1m6 0h1m32 0h1m30 0h1M38 48h1M75 49h1m21 0h1m40 0h1M70 50h1m12 0h1m24 0h1M23 51h1m40 0h1m14 0h1M40 52h1m7 0h2m22 0h2m9 0h1m24 0h1m9 0h1m13 0h1M60 53h1m14 0h1m28 0h2M84 54h1m6 0h1m4 0h1m16 0h1m59 0h1M69 55h1m6 0h1m6 0h1m21 0h1m53 0h1M88 56h1m4 0h1m31 0h1m19 0h1M21 57h1m14 0h1m29 0h1m13 0h1m14 0h1m7 0h1m17 0h1M50 58h1m3 0h1m1 0h1m28 0h1m4 0h1m6 0h1m23 0h2M33 59h1m21 0h2m5 0h1m16 0h1m57 0h1m28 0h1M29 60h1m20 0h1m1 0h1m4 0h1m10 0h1m5 0h2m11 0h1m7 0h1m3 0h1m14 0h1m3 0h1m3 0h1M47 61h1m7 0h1m19 0h2m3 0h1m4 0h1m5 0h1m2 0h1m17 0h1m5 0h1m6 0h1m19 0h1M16 62h1m43 0h1m1 0h1m10 0h2m3 0h1m6 0h1m15 0h1M31 63h2m9 0h1m17 0h1m2 0h1m18 0h1m25 0h1m3 0h1m3 0h1M27 64h1m30 0h1m46 0h1m3 0h1m10 0h1m1 0h1m9 0h1M59 65h1m5 0h1m4 0h1m1 0h1m7 0h1m19 0h1m7 0h1m37 0h1M99 66h1m7 0h2m1 0h1m17 0h1m5 0h1m16 0h1M66 67h1m25 0h1m2 0h1m3 0h1m3 0h1m8 0h1m5 0h1m1 0h1m18 0h1m17 0h1M24 68h1m2 0h1m2 0h1m14 0h1m3 0h1m9 0h1m9 0h1m1 0h1m1 0h1m20 0h2m8 0h1m15 0h1M42 69h1m1 0h1m4 0h2m41 0h1m4 0h1m24 0h1m40 0h1M40 70h1m9 0h1m1 0h1m1 0h1m2 0h3m25 0h1m2 0h2m10 0h2m2 0h1m1 0h1m5 0h1m3 0h1m18 0h1M25 71h1m22 0h1m2 0h1m6 0h1m3 0h1m1 0h2m38 0h1m6 0h1m9 0h2m1 0h1m9 0h1m5 0h1m1 0h1m7 0h1m13 0h1M44 72h1m14 0h1m24 0h1m1 0h1m9 0h1m10 0h2m1 0h1m2 0h1m2 0h1m5 0h1m6 0h1M40 73h1m18 0h1m5 0h2m3 0h1m8 0h1m6 0h2m3 0h1m2 0h1m13 0h1m5 0h1m5 0h1M55 74h1m3 0h2m3 0h1m1 0h1m5 0h2m8 0h1m13 0h1m8 0h1m5 0h1m30 0h1m6 0h1M15 75h2m9 0h1m9 0h1m2 0h1m9 0h1m10 0h1m2 0h1m4 0h1m1 0h1m9 0h1m15 0h2m5 0h1m2 0h1m7 0h1m24 0h1m20 0h1M55 76h1m1 0h1m5 0h1m6 0h2m2 0h1m1 0h1m2 0h1m2 0h1m5 0h2m5 0h1m2 0h1m2 0h1m3 0h1m3 0h2m3 0h1m1 0h1m6 0h1m8 0h1m29 0h1M6 77h1m49 0h1m2 0h2m6 0h1m1 0h1m4 0h1m1 0h1m8 0h1m14 0h1m7 0h1m6 0h1m13 0h1m5 0h1M39 78h1m13 0h1m10 0h1m3 0h1m18 0h1m3 0h1m4 0h1m14 0h1m2 0h1m1 0h1m2 0h1m3 0h1m12 0h1m6 0h1m26 0h1M54 79h1m5 0h1m9 0h1m6 0h1m7 0h1m1 0h1m11 0h1m14 0h1m1 0h1m24 0h1m5 0h1M6 80h1m34 0h1m5 0h1m8 0h1m33 0h1m1 0h1m1 0h2m5 0h2m1 0h1m1 0h1m11 0h1m21 0h1M20 81h1m49 0h1m5 0h1m3 0h1m1 0h2m1 0h1m2 0h1m3 0h1m1 0h1m1 0h1m10 0h1m4 0h3m2 0h1m2 0h1m11 0h1m1 0h1m8 0h1m7 0h1M3 82h1m34 0h1m15 0h1m4 0h1m4 0h2m3 0h1m27 0h1m7 0h1m3 0h1m5 0h1m8 0h1M54 83h1m7 0h1m11 0h1m4 0h2m3 0h2m13 0h1m1 0h1m1 0h1m37 0h1M40 84h1m5 0h1m21 0h1m4 0h1m1 0h1m2 0h2m21 0h1m27 0h1m4 0h1m13 0h1M37 85h1m2 0h1m4 0h2m9 0h1m13 0h1m2 0h2m2 0h1m10 0h1m13 0h1m10 0h2m1 0h1m19 0h1M43 86h1m8 0h1m16 0h2m2 0h2m13 0h1m1 0h1m8 0h1m18 0h1m2 0h1m6 0h1m8 0h1m8 0h1m2 0h2M25 87h1m4 0h1m3 0h1m5 0h1m14 0h1m1 0h1m3 0h2m6 0h3m4 0h1m7 0h1m1 0h1m2 0h1m1 0h2m1 0h2m10 0h1m1 0h1m1 0h1m13 0h1m26 0h1m2 0h1M24 88h1m22 0h1m15 0h1m2 0h1m1 0h1m14 0h1m11 0h1m4 0h1m6 0h1m5 0h1m3 0h1m3 0h1m7 0h1m14 0h1m3 0h1m7 0h2M40 89h1m3 0h1m3 0h1m17 0h1m9 0h1m5 0h1m10 0h1m4 0h2m19 0h1m18 0h1M18 90h1m37 0h1m14 0h3m2 0h3m1 0h1m2 0h1m3 0h1m9 0h1m9 0h1m2 0h2m11 0h1m2 0h1M38 91h1m11 0h1m25 0h1m5 0h1m1 0h2m2 0h1m2 0h1m19 0h1m7 0h1m14 0h1m16 0h1M37 92h1m11 0h1m9 0h1m11 0h1m3 0h1m5 0h1m1 0h1m1 0h1m14 0h1m2 0h1m1 0h2m10 0h1m1 0h1m24 0h1M34 93h2m17 0h1m7 0h1m1 0h1m5 0h1m4 0h2m4 0h1m8 0h2m4 0h1m1 0h1m1 0h1m7 0h1m1 0h2m9 0h1m7 0h1m23 0h1m6 0h1M29 94h1m18 0h1m7 0h1m8 0h1m1 0h1m3 0h1m17 0h1m4 0h1m35 0h1m1 0h1m8 0h1m7 0h1m3 0h1M33 95h1m17 0h1m4 0h1m16 0h1m5 0h1m3 0h1m1 0h1m2 0h1m2 0h1m3 0h1m9 0h1m8 0h3m3 0h1m3 0h1m6 0h1M22 96h1m28 0h1m2 0h1m16 0h1m2 0h1m3 0h3m5 0h1m2 0h3m1 0h1m1 0h1m6 0h1m8 0h1m4 0h1m1 0h2m52 0h1M24 97h1m1 0h1m23 0h1m10 0h1m5 0h1m2 0h1m13 0h1m1 0h2m17 0h1m22 0h1m23 0h1M37 98h1m3 0h1m1 0h1m4 0h1m8 0h1m3 0h1m6 0h1m5 0h3m5 0h1m3 0h1m20 0h2m2 0h1m41 0h1M26 99h1m1 0h1m16 0h1m22 0h1m13 0h1m5 0h1m1 0h1m13 0h1m6 0h1m8 0h1m2 0h2M43 100h1m25 0h1m8 0h1m25 0h1m22 0h1m14 0h1m10 0h1M49 101h2m2 0h2m8 0h2m1 0h1m11 0h1m7 0h1m7 0h1m26 0h1m6 0h1m1 0h1m25 0h1M23 102h1m32 0h1m10 0h2m16 0h1m7 0h2m12 0h1m27 0h1m9 0h2M31 103h1m5 0h1m9 0h1m4 0h1m3 0h1m1 0h1m12 0h1m3 0h2m1 0h1m4 0h1m1 0h1m8 0h1m1 0h1m13 0h1m7 0h1M39 104h1m2 0h1m24 0h1m7 0h1m11 0h1m8 0h1m1 0h1m5 0h1m4 0h1m3 0h1m2 0h1m9 0h1m1 0h1m5 0h1m29 0h1M17 105h1m29 0h1m2 0h1m1 0h1m2 0h1m6 0h1m7 0h1m6 0h1m2 0h1m3 0h2m1 0h1m1 0h1m14 0h2m15 0h2m5 0h1m26 0h1M53 106h1m8 0h2m2 0h1m18 0h2m6 0h1m2 0h2m3 0h1m6 0h1m8 0h1m3 0h1m18 0h1m18 0h1M21 107h1m30 0h1m13 0h1m28 0h1m1 0h1m29 0h1M39 108h1m17 0h1m6 0h1m3 0h1m1 0h1m6 0h1m6 0h1m7 0h2m6 0h1m2 0h2m5 0h2m10 0h1m2 0h1m22 0h1m5 0h1m7 0h1M56 109h1m9 0h1m8 0h2m31 0h2m14 0h1m10 0h1m22 0h1M12 110h1m9 0h1m27 0h1m12 0h2m1 0h1m5 0h1m1 0h1m2 0h1m11 0h1m1 0h4m3 0h1m2 0h1m7 0h1m2 0h1m11 0h1m4 0h1m20 0h1M60 111h1m5 0h2m9 0h1m3 0h1m8 0h1m3 0h1m9 0h1m3 0h1m2 0h1m21 0h1m15 0h1M28 112h1m9 0h1m5 0h1m9 0h1m5 0h1m5 0h1m6 0h1m3 0h1m2 0h1m4 0h1m27 0h1m1 0h1m7 0h1m16 0h1M55 113h1m3 0h2m5 0h1m1 0h1m1 0h1m2 0h1m4 0h1m11 0h1m5 0h1m2 0h1m6 0h1m6 0h1m1 0h1m10 0h1m29 0h1M18 114h1m16 0h1m28 0h1m1 0h1m17 0h1m2 0h1m3 0h3m12 0h1m3 0h1m62 0h1M22 115h1m6 0h1m19 0h1m7 0h1m9 0h1m17 0h3m1 0h1m2 0h1m21 0h1m1 0h2m31 0h1M18 116h1m31 0h1m16 0h1m5 0h2m3 0h1m21 0h2m23 0h1M15 117h1m47 0h1m6 0h1m6 0h1m2 0h1m10 0h1m2 0h1m3 0h1m6 0h1m11 0h1m9 0h1m5 0h1m29 0h1m6 0h1M21 118h1m5 0h1m3 0h1m24 0h1m6 0h1m9 0h1m1 0h2m5 0h1m8 0h1m44 0h1m10 0h1M18 119h1m59 0h1m8 0h1m3 0h2m1 0h1m1 0h1m10 0h1m27 0h1m20 0h1M60 120h1m2 0h2m2 0h1m5 0h1m15 0h1m6 0h1m31 0h1M40 121h1m3 0h1m5 0h1m5 0h1m14 0h2m17 0h1m1 0h1m12 0h1M18 122h1m16 0h1m1 0h1m15 0h1m17 0h1m4 0h1m16 0h1m1 0h1m8 0h1M40 123h1m26 0h1m39 0h1m4 0h2m15 0h1m1 0h1m32 0h1m6 0h1M23 124h1m28 0h1m5 0h1m2 0h1m1 0h1m6 0h1m10 0h1m7 0h1m1 0h2m3 0h1m4 0h1m14 0h1m13 0h1m11 0h1m11 0h1M51 125h1m12 0h1m27 0h1m3 0h1m1 0h1m2 0h1m51 0h1M11 126h1m21 0h1m28 0h1m1 0h2m2 0h1m5 0h1m3 0h1m3 0h1m7 0h1m6 0h1m9 0h1m20 0h1M55 127h1m9 0h1m4 0h1m8 0h1m14 0h1m7 0h1m23 0h1M61 128h1m12 0h1m11 0h1m4 0h1m3 0h2m45 0h1M10 129h1m34 0h1m7 0h1m3 0h1m18 0h1m9 0h1m1 0h1m20 0h1m4 0h1M36 130h2m6 0h1m28 0h1m7 0h1m2 0h1m21 0h1M35 131h1m9 0h1m37 0h1m10 0h1m4 0h1m1 0h1m9 0h1M55 132h1m1 0h1m5 0h1m54 0h1m5 0h1m1 0h1M12 133h1m17 0h1m27 0h1m7 0h1m5 0h1m14 0h1m12 0h1m8 0h1M61 134h1m18 0h1m11 0h1m7 0h1m14 0h1m2 0h1m14 0h1m14 0h1M48 135h1m13 0h1m9 0h1m16 0h1m6 0h1m31 0h1m16 0h1M49 136h1m18 0h1m18 0h2m10 0h1m1 0h1m9 0h1m15 0h1M64 137h1m4 0h1m3 0h2m4 0h1m6 0h1m8 0h1m17 0h2m18 0h1M24 138h1m42 0h1m13 0h1m11 0h1m3 0h1m12 0h1m6 0h1m25 0h1M53 139h1m30 0h1m10 0h1m2 0h1m2 0h1m3 0h1M68 140h1m15 0h2m44 0h2M7 141h1m68 0h1m4 0h1m2 0h1m18 0h1M13 142h1m14 0h1m38 0h1m18 0h1m3 0h1m29 0h1m9 0h1M23 143h1m39 0h1m8 0h1m3 0h1m14 0h1m4 0h1m9 0h1M26 144h1m23 0h1m10 0h1m35 0h1m1 0h1m4 0h1M40 145h1m31 0h1m10 0h1m9 0h1m29 0h1M44 146h1m17 0h1m13 0h1m5 0h2M30 147h1m49 0h1m2 0h1m15 0h1m3 0h1m2 0h1M28 148h1m11 0h1m40 0h1m42 0h1M43 149h1m17 0h2m6 0h1m5 0h1m15 0h1m3 0h1m7 0h1m35 0h1m5 0h1M78 150h2m32 0h1m24 0h1M70 151h1m52 0h1M41 152h1m2 0h1m13 0h1m17 0h1M65 153h1m2 0h1m22 0h1m11 0h1M61 154h1m16 0h1m26 0h1M8 155h1m75 0h1m19 0h1m9 0h1M118 156h1M91 157h1M67 158h1m26 0h1M78 159h1m5 0h1m13 0h1m5 0h1m18 0h1M114 160h1M53 161h1m17 0h1m6 0h1m14 0h1M100 162h1M114 163h1m3 0h1M88 164h1m6 0h1m3 0h1m10 0h1M74 165h1m60 0h1M28 166h1m15 0h1m55 0h1M30 167h1m34 0h1m31 0h1m3 0h1M25 169h1m49 0h1m14 0h1m11 0h1m8 0h1M43 170h1M54 172h1m2 0h1m20 0h1m2 0h1m24 0h1M96 173h1M126 174h1M81 175h1M90 176h1M103 177h1M53 178h1M60 182h1M68 183h1M25 185h1M81 187h1m28 0h1M133 188h1M71 189h1M145 190h1M90 193h1M150 194h1"/>
<path stroke="#95be71" d="M72 9h1M96 10h1M111 22h1M61 24h1M89 25h1M41 26h1M46 27h1M67 29h2m1 0h1M86 31h1M61 33h1m24 0h1m50 0h1M98 34h1M51 35h1M54 36h1m47 0h1m19 0h1M55 37h1m22 0h1m17 0h1M148 39h1M130 40h1M55 41h1M41 42h1m42 0h1m5 0h1m28 0h1M82 43h1m52 0h1M99 44h1m34 0h1M23 46h1m25 0h1m108 0h1M94 48h1m21 0h1m29 0h1m11 0h1M63 49h1m16 0h1M65 50h1M86 51h1m20 0h1m3 0h1m12 0h1m1 0h1m16 0h1M31 52h1m50 0h1m45 0h1M74 53h1m16 0h1m23 0h1M76 54h1m3 0h1m6 0h1M41 55h1m14 0h1m8 0h1m25 0h1m10 0h1m29 0h1M47 56h1M62 57h2m32 0h1m39 0h1M41 58h1m6 0h1m52 0h1M15 59h1m74 0h1m23 0h1m23 0h1M53 60h1m4 0h1m5 0h1m42 0h1m18 0h1M65 61h1m12 0h1m8 0h1m20 0h1m20 0h1m16 0h1M35 62h1m34 0h1m40 0h1M66 63h1m31 0h2m88 0h1M14 64h1m51 0h1m31 0h1m20 0h1m1 0h1M66 65h1m7 0h1m4 0h1m7 0h3m11 0h2m19 0h1m19 0h1M68 66h1m7 0h1m13 0h1m3 0h1m23 0h1m20 0h1m1 0h1M60 67h2m35 0h1m11 0h1m3 0h1m5 0h1m7 0h1m28 0h1M25 68h1m9 0h1m17 0h1m13 0h1m2 0h1m12 0h1m26 0h1m11 0h1m11 0h1M58 69h1m8 0h1m17 0h1m13 0h1m1 0h1m21 0h1M46 70h1m1 0h1m33 0h1m15 0h1M70 71h1m17 0h1m12 0h1m1 0h1m6 0h1M48 72h1m26 0h2m1 0h1m19 0h1m5 0h1m9 0h2m16 0h1m2 0h1M33 73h1m28 0h1m10 0h1m6 0h1m8 0h1m11 0h1m8 0h1m13 0h1M34 74h1m9 0h1m11 0h1m12 0h1m5 0h1m7 0h1m3 0h1m3 0h1m2 0h2m6 0h1m20 0h1m6 0h1M37 75h1m19 0h1m8 0h1m12 0h1m22 0h1m5 0h1m11 0h1m25 0h1M38 76h1m12 0h1m2 0h1m10 0h1m1 0h1m22 0h2m8 0h1m6 0h1m16 0h1m2 0h1M58 77h1m6 0h1m6 0h1m7 0h1m9 0h1m6 0h1m6 0h1m5 0h1M47 78h1m31 0h1m8 0h1m8 0h1m12 0h1m10 0h1m16 0h1M23 79h1m25 0h1m7 0h1m23 0h1m24 0h1M43 80h2m5 0h1m14 0h1m17 0h1m15 0h1m21 0h1m22 0h1M25 81h1m9 0h1m8 0h1m4 0h1m8 0h1m13 0h1m1 0h1m18 0h1m22 0h1M47 82h1m8 0h1m6 0h1m6 0h1m1 0h1m1 0h1m1 0h1m9 0h1m5 0h1m5 0h1M76 83h2m3 0h1m12 0h2m22 0h1m13 0h1m1 0h1m47 0h1M1 84h1m47 0h1m22 0h1m4 0h1m4 0h1m1 0h1m2 0h2m17 0h1m26 0h1m5 0h1M44 85h1m15 0h1m14 0h1m11 0h1m11 0h2M18 86h1m15 0h1m11 0h1m2 0h1m17 0h2m8 0h1m2 0h1m22 0h1m11 0h1m6 0h1m22 0h1M42 87h1m35 0h1m2 0h1m20 0h1m15 0h1m2 0h1M34 88h1m20 0h1m6 0h1m7 0h2m12 0h1m2 0h1m4 0h1m8 0h1m7 0h1m10 0h1M22 89h1m14 0h1m16 0h1m15 0h2m7 0h1m5 0h1m1 0h1m3 0h1m2 0h2m6 0h1m3 0h2m3 0h1m2 0h1m7 0h1m8 0h1m17 0h1m19 0h1M19 90h1m30 0h1m4 0h1m7 0h1m2 0h1m7 0h1m10 0h1m5 0h1m1 0h1m5 0h1m8 0h1m3 0h1m14 0h1m5 0h1m16 0h1M51 91h2m17 0h2m21 0h1m4 0h3m5 0h1m2 0h1m8 0h1m2 0h1M39 92h1m39 0h2m1 0h1m6 0h1m2 0h1m1 0h2m8 0h1m11 0h1m48 0h1M70 93h1m1 0h2m2 0h1m15 0h1m19 0h1m3 0h1m14 0h1m4 0h1m7 0h1M21 94h1m33 0h1m1 0h1m32 0h1m6 0h1m5 0h1m4 0h2m11 0h1M44 95h1m2 0h1m10 0h1m6 0h2m3 0h1m1 0h1m1 0h1m1 0h2m8 0h2m8 0h1m1 0h2m1 0h1m4 0h1m2 0h1m51 0h1M14 96h1m22 0h1m21 0h1m2 0h1m6 0h1m11 0h1m3 0h1m10 0h1m2 0h1m3 0h1m9 0h1m3 0h1m3 0h1m2 0h1M54 97h1m5 0h1m7 0h1m6 0h1m1 0h1m16 0h1m2 0h1m5 0h1m9 0h1m1 0h1m10 0h1m3 0h1M12 98h1m37 0h1m5 0h1m2 0h1m20 0h2m27 0h2m3 0h1m4 0h1m19 0h1m7 0h1m6 0h1M50 99h1m6 0h1m4 0h2m27 0h1m6 0h1m3 0h1m28 0h1m24 0h1M44 100h1m18 0h1m2 0h1m7 0h1m2 0h1m2 0h1m1 0h1m14 0h1m1 0h1m3 0h1m10 0h2m1 0h1m5 0h1m1 0h1M68 101h1m3 0h1m6 0h1m8 0h1m10 0h1m2 0h1m2 0h1m2 0h1m59 0h1M24 102h1m21 0h1m1 0h1m27 0h2m4 0h1m17 0h1m7 0h1m11 0h1M41 103h1m7 0h1m12 0h1m3 0h1m14 0h2m10 0h1m27 0h1m9 0h1m8 0h1m5 0h1m10 0h1M62 104h1m8 0h1m1 0h1m5 0h1m5 0h2m2 0h1m7 0h1m8 0h1m11 0h2m7 0h1M37 105h1m23 0h1m4 0h1m9 0h1m19 0h1m4 0h1m6 0h1m27 0h1m6 0h1M41 106h1m6 0h1m18 0h1m3 0h1m3 0h1m8 0h1m7 0h1m76 0h1M27 107h1m9 0h1m11 0h1m25 0h1m4 0h1m11 0h1m3 0h1m3 0h1m6 0h2m3 0h1m8 0h1M27 108h1m25 0h1m7 0h1m10 0h1m5 0h1m1 0h1m6 0h1m1 0h1m8 0h1m3 0h1m14 0h1m12 0h1m5 0h1m37 0h1M58 109h1m2 0h1m7 0h1m3 0h1m3 0h2m3 0h1m2 0h2m1 0h1m8 0h2m2 0h1m2 0h1m2 0h1m14 0h1m18 0h1m8 0h2m21 0h1M73 110h1m11 0h1m1 0h1m7 0h1m14 0h1m8 0h1m12 0h1m1 0h1M27 111h1m30 0h1m9 0h2m6 0h1m2 0h1m2 0h1m2 0h1m3 0h1m3 0h1m5 0h1m1 0h1m10 0h1m3 0h2m69 0h1M76 112h1m2 0h1m7 0h1m6 0h1m3 0h1m3 0h1m17 0h1m1 0h1m5 0h1M39 113h1m9 0h1m11 0h1m1 0h1m7 0h1m4 0h1m14 0h1m2 0h1m2 0h1m2 0h1m7 0h1m2 0h1m4 0h1m10 0h1m6 0h1m7 0h1M45 114h1m31 0h2m16 0h1m35 0h1m1 0h1M14 115h1m24 0h1m20 0h1m8 0h1m7 0h2m1 0h2m11 0h1m31 0h1m7 0h1m12 0h1M43 116h1m10 0h1m13 0h1m20 0h1m2 0h1m4 0h2m4 0h1m3 0h2m2 0h1m14 0h1M49 117h1m23 0h1m5 0h1m6 0h1m8 0h1m24 0h1m26 0h1m27 0h1M48 118h1m54 0h1m15 0h1m2 0h1M13 119h1m16 0h1m18 0h1m4 0h1m2 0h1m11 0h1m3 0h3m8 0h1m1 0h1m1 0h1m15 0h1m10 0h1M33 120h1m56 0h1m6 0h1m15 0h1m9 0h1M54 121h1m25 0h1m25 0h1m6 0h1m2 0h1m11 0h1M65 122h1m9 0h1m10 0h1m3 0h1m17 0h1m6 0h1M62 123h1m35 0h1m5 0h1m4 0h1m6 0h1m2 0h1M75 124h1m2 0h1m3 0h1m4 0h1m5 0h1m4 0h1m27 0h1m6 0h1M32 125h1m32 0h1m4 0h1m6 0h2m24 0h1m4 0h1m8 0h1m5 0h1m11 0h1m29 0h1M46 126h1m23 0h1m13 0h1m7 0h2m35 0h1M45 127h1m21 0h1m4 0h1m23 0h1m48 0h1m10 0h1M65 128h1m1 0h2m2 0h1M36 129h1m25 0h2m13 0h1m4 0h1m11 0h1m41 0h1M31 130h1m8 0h1m72 0h1m32 0h1M34 131h1m34 0h1m8 0h1m3 0h1m8 0h1m10 0h1m1 0h1M72 132h1m10 0h2m7 0h1m18 0h1m16 0h1m2 0h1M42 133h1m12 0h1m80 0h1M33 134h1m50 0h1m6 0h1m24 0h2m1 0h1M80 135h1m6 0h2m1 0h2m3 0h1m19 0h1M25 136h1m4 0h1m36 0h1m37 0h1m14 0h1M94 137h1m60 0h1M63 138h1m14 0h1m26 0h1m7 0h1M70 139h1m21 0h1m38 0h1M75 140h1m18 0h1m11 0h1M77 141h1M58 142h1m21 0h1m10 0h1m62 0h1M69 143h1m18 0h1M46 144h1m19 0h1m97 0h1M141 145h2M16 146h1m75 0h1m17 0h1m1 0h1M109 147h1M57 148h1m87 0h1M55 149h1m9 0h1m30 0h1M40 150h1m63 0h1m15 0h1M37 151h1m5 0h1m70 0h1M36 152h1m78 0h1M117 153h1M79 154h1M36 155h1m23 0h1M92 156h1M85 157h1M53 159h1m15 0h1M20 160h1m32 0h1m76 0h1M109 161h1m18 0h1M107 163h1m23 0h1M44 165h1m68 0h1m28 0h1M15 168h1m25 0h1m19 0h1m2 0h1m1 0h1m40 0h1M130 172h1M24 179h1M105 188h1"/>
<path stroke="#b3bd65" d="M57 19h1M83 21h1M86 22h1M83 27h1M73 28h1M52 30h1M56 33h1m9 0h1m38 0h1m12 0h1M95 34h1m48 0h1M109 37h2M47 39h1m20 0h1M70 40h1M107 41h1m65 0h1M29 44h1m107 0h1M166 45h1M135 46h1M45 47h1M112 49h1M100 50h1m11 0h1m14 0h1M61 51h1m28 0h1M91 52h1M121 53h1M68 54h1M68 55h1m29 0h1M115 57h1M74 58h1m4 0h1m33 0h1M43 59h1m19 0h1m2 0h1m20 0h1m42 0h1M104 60h2M62 61h1m21 0h1m13 0h1M34 62h1m71 0h1m3 0h1M46 63h1m89 0h1M54 64h1m26 0h1m2 0h1m18 0h1M38 65h1m46 0h1m6 0h1m6 0h1M65 66h1m8 0h1m12 0h1m48 0h1M10 67h1m37 0h1m14 0h1m5 0h1m38 0h1m37 0h1M63 68h2m19 0h2m33 0h1m41 0h1M56 69h1m18 0h1m7 0h2m29 0h1M56 70h1m12 0h2m9 0h1m40 0h1M36 71h1m19 0h1m26 0h1m33 0h1M27 72h1m26 0h1m5 0h1m24 0h1m13 0h1m5 0h1m5 0h1M42 73h1m55 0h1m10 0h1M23 74h1m23 0h1m67 0h1m4 0h2M67 75h1M69 76h1m22 0h1m25 0h1M118 77h1m2 0h1m20 0h1M31 78h1m39 0h2m11 0h1m10 0h1m10 0h1m17 0h1m3 0h1m21 0h1M41 79h1m47 0h1m2 0h1m3 0h1m4 0h2m2 0h1M76 80h1m30 0h1M48 81h1m7 0h1m10 0h1m3 0h1m3 0h1m5 0h1m15 0h1m5 0h1m21 0h1M95 82h1M56 83h1m43 0h1m38 0h1M43 84h2m31 0h1m13 0h1m1 0h1m4 0h1m11 0h1m1 0h1M36 85h1m26 0h1m15 0h1m3 0h1m11 0h1m16 0h1M71 86h2m2 0h1m18 0h1m12 0h1m16 0h1M60 87h1m2 0h2m3 0h1m16 0h1m13 0h1m3 0h1m8 0h1m7 0h1m6 0h1m2 0h1m2 0h1M44 88h1m36 0h1m49 0h1M61 89h1m3 0h1m7 0h1m4 0h1m4 0h1m19 0h2m12 0h1m22 0h1M70 90h1m8 0h1m2 0h1m13 0h1m4 0h2m10 0h1m1 0h1m9 0h1M65 91h1m6 0h1m16 0h1m7 0h1m4 0h1m55 0h1m11 0h1M53 92h1m4 0h1m1 0h1m16 0h1m6 0h1m3 0h1m1 0h1m59 0h1M11 93h1m102 0h1M63 94h1m23 0h1m7 0h1m8 0h1M29 95h1m39 0h1m5 0h1m4 0h3m6 0h1m18 0h1m47 0h1M55 96h1m5 0h1m14 0h1m6 0h1m3 0h1m12 0h1m22 0h1M48 97h1m23 0h1m12 0h1m12 0h1M13 98h1m46 0h1m22 0h2m3 0h2m6 0h4m3 0h1m17 0h1m1 0h1m10 0h1M5 99h1m66 0h1m3 0h1m4 0h1m1 0h1M42 100h1m4 0h1m14 0h1m8 0h1m12 0h1m16 0h1M61 101h1m9 0h1m9 0h1m11 0h1m1 0h1m2 0h1m18 0h1M36 102h1m20 0h1m8 0h1m23 0h1m7 0h1m6 0h1m6 0h1m5 0h1m2 0h1m9 0h1m2 0h1M86 103h1m1 0h1m2 0h1m3 0h1m1 0h1m4 0h1m10 0h1m15 0h1M30 104h1m49 0h1m10 0h1m1 0h1m13 0h1m17 0h1m11 0h1M48 105h1m10 0h1m11 0h1m16 0h1m9 0h1m1 0h1m6 0h1m23 0h1M18 106h1m68 0h2m5 0h1m15 0h1m21 0h2M40 107h1m5 0h1m22 0h1m12 0h2m14 0h2m5 0h1m14 0h1M62 108h1m8 0h1m22 0h1M64 109h2m4 0h1m60 0h1M42 110h1m22 0h1m22 0h1m1 0h1m12 0h1m36 0h1m44 0h1M40 111h1m1 0h1m21 0h1m9 0h1m8 0h1m12 0h1m8 0h1m49 0h1M67 112h1m2 0h1m12 0h1m2 0h1m5 0h1m6 0h1m1 0h1m3 0h2m2 0h1m7 0h1M62 113h1m24 0h1m22 0h1m39 0h1M48 114h1m8 0h1m16 0h1m13 0h1m8 0h1M90 115h1M66 116h1m21 0h1m6 0h1m17 0h1m44 0h1M78 117h1m2 0h2m30 0h2m13 0h1m29 0h1M66 118h2m13 0h1m1 0h1m5 0h1m16 0h1M65 119h1m5 0h1m31 0h1M65 120h1m5 0h1m9 0h1m1 0h1m7 0h1m25 0h1m2 0h1m1 0h1m2 0h1M18 121h1m54 0h1m10 0h2m16 0h1m14 0h1M52 122h1m28 0h1m1 0h1m8 0h1m5 0h1m4 0h1M68 123h1m4 0h1m6 0h1m12 0h1m12 0h1m10 0h1M85 124h1M3 125h1m42 0h1m22 0h1m35 0h2m11 0h1M54 126h1m54 0h1M97 127h1m10 0h1m15 0h1m10 0h1M72 128h1m7 0h1m18 0h2m8 0h1m1 0h1M101 129h1m4 0h1m9 0h1M80 130h1m34 0h1M79 131h1m40 0h1m75 0h1M51 132h1m41 0h1m1 0h1m68 0h1M82 133h1m16 0h1m1 0h1m6 0h1m54 0h1M31 134h1m34 0h1m68 0h1M108 135h1m35 0h1M19 136h1m69 0h1M122 137h1M62 138h1m1 0h1m12 0h1m9 0h1M47 139h1m20 0h1m12 0h1M51 140h1m40 0h1m5 0h1M81 142h1m3 0h1m26 0h1M109 143h1m22 0h1m12 0h1M112 144h1M45 145h1M66 146h1m46 0h1M66 147h1M82 148h1M57 151h1m38 0h1m42 0h1M93 152h1M79 153h1M22 155h1m32 0h1m5 0h1M60 156h1m60 0h1M66 157h1M47 158h2m14 0h1M43 159h1M92 160h1M92 162h1m2 0h1M98 163h1m5 0h1M97 168h1m38 0h1M77 172h1M77 175h1M124 178h1"/>
<path stroke="#d1bb59" d="M53 12h1M132 20h1M135 31h1M107 39h1M79 42h1M119 43h1M72 44h1M104 46h1M100 48h1M27 50h1M126 52h1M82 55h1m3 0h1M61 57h1M25 58h1m92 0h1M27 60h1m44 0h1M66 61h1M117 62h1M19 63h1m45 0h1m24 0h1m4 0h1m14 0h1M85 64h1m16 0h1M6 65h1m83 0h1m22 0h1m14 0h1M73 66h1m40 0h1M62 67h1m30 0h1M107 68h2M68 70h1m15 0h1M77 71h1M61 72h1M96 73h1m5 0h1M89 74h1m46 0h1m29 0h1M83 75h1m4 0h1m9 0h1m14 0h1m9 0h1M47 76h1M35 77h1m58 0h1m48 0h1M89 78h1m2 0h1m5 0h1m5 0h1M44 79h1m17 0h1m11 0h1m5 0h1m2 0h1M40 80h1m32 0h1m3 0h2m29 0h1m10 0h1M60 81h1m3 0h1m25 0h1m14 0h1M88 82h1M52 83h1m37 0h2m5 0h1M45 84h1m53 0h1m20 0h1m9 0h1M47 85h1m18 0h1m18 0h1m40 0h1M82 86h1m26 0h1m21 0h1M73 87h1m1 0h1m7 0h1m31 0h1M85 88h1m20 0h1m45 0h1m11 0h1M123 89h1m9 0h1M62 90h1M83 91h1m29 0h1m21 0h1M48 92h1m18 0h1m6 0h1m11 0h1m4 0h1m9 0h1m9 0h1M82 93h1m3 0h1m14 0h1M70 94h1m6 0h2m1 0h1m1 0h1m13 0h1m31 0h1M42 95h1m17 0h1m23 0h1m7 0h1m4 0h1M65 96h1m2 0h1m8 0h1m4 0h1m21 0h1m20 0h1M62 97h1m26 0h1m41 0h1M42 98h1m52 0h1M95 99h1M40 100h1m38 0h1m11 0h1m6 0h1m1 0h1m47 0h1M51 101h1m6 0h1m57 0h1m27 0h1M70 102h1m1 0h1m2 0h1m11 0h2m2 0h1m19 0h1M61 103h1m2 0h1m38 0h2m56 0h1M88 104h1M64 105h1m21 0h1M81 106h1m13 0h1m11 0h1m1 0h1m25 0h1m9 0h2M51 107h1m20 0h1m73 0h1M41 108h1M63 109h1m7 0h1m7 0h1m16 0h1m24 0h1M82 110h1m30 0h2M97 111h1m16 0h1m44 0h1M65 112h1m15 0h1m2 0h1M77 113h1m52 0h1M40 115h1m41 0h1m11 0h1m16 0h1M56 116h1m19 0h1M66 117h1m48 0h1m24 0h1M87 118h1m10 0h1m3 0h1M53 119h1m46 0h1m40 0h1m4 0h1M109 120h2m5 0h1M93 121h1m29 0h1M59 122h1m13 0h1m13 0h1m55 0h1M66 123h1m14 0h1m12 0h1m66 0h1M76 124h1m6 0h1M16 125h1m71 0h1m13 0h1M103 126h1M101 127h1M79 130h1m18 0h1m31 0h1M115 131h1M41 132h1m36 0h1m23 0h1M61 133h1m83 0h1M90 134h1M63 135h1m29 0h1M149 136h1M77 137h1m2 0h1M122 138h1M82 139h1m71 0h1M50 140h1m42 0h1m15 0h1M65 142h1m23 0h1M86 143h1M71 144h1M35 145h1m27 0h1M98 146h1m47 0h1M46 147h1M89 148h1m45 0h1M85 149h1M106 150h1M96 152h1m32 0h1M143 154h1M89 165h1"/>
<path stroke="#e2c04b" d="M104 23h1M115 29h1M74 33h1m13 0h1M52 35h1M122 42h1M91 45h1M87 48h1M44 50h1M94 53h1m30 0h1M33 55h1M29 56h1m74 0h1M75 57h1M73 58h1m29 0h1M86 59h1M56 63h1m72 0h1M86 65h1m28 0h1M119 66h1M74 68h1m56 0h1M93 70h1M7 72h1m98 0h1M63 73h1m4 0h1m13 0h1M51 74h1M111 75h1M43 76h1m43 0h1M15 78h1M75 79h1m14 0h1m4 0h1m24 0h1M63 80h1m3 0h1m13 0h1m9 0h1M84 81h1M121 83h1M34 85h1M100 86h1M76 88h1m9 0h1m9 0h1m8 0h1M63 89h1m26 0h1m39 0h1M61 90h1m36 0h1M109 92h1M154 93h1M101 94h1m36 0h1M93 95h1M88 96h1m16 0h1m28 0h1M37 97h1m68 0h1M65 98h1M115 99h1m3 0h1M52 100h1m8 0h1M76 101h1m20 0h1M44 103h1m69 0h1m1 0h1M82 104h1m22 0h1m26 0h1m17 0h1M129 105h1M104 106h1m8 0h1M88 107h1M74 108h1m15 0h1M72 109h1m8 0h1M28 111h1m84 0h1m14 0h1m5 0h1M32 112h1M80 113h2m21 0h1m10 0h1M139 114h1M26 116h1m75 0h1M62 117h1M70 118h1M113 119h1M92 120h1M52 121h1m21 0h1M17 122h1m134 0h1M51 123h1m18 0h1M54 124h1M119 126h1M69 127h1M48 128h1M50 129h1m21 0h1m34 0h1M88 132h1m47 0h1M84 133h1M101 134h1M77 135h1M24 136h1M113 139h1M96 141h1M47 142h1m45 0h1M54 143h1M81 144h1M48 148h1M128 149h1M34 155h1m120 0h1M123 164h1M121 168h1"/>
<path stroke="#f4c63b" d="M93 61h1M111 64h1M105 69h1M86 76h1M84 79h1M80 80h1m39 0h1M80 82h1M111 83h1M93 88h1M52 93h1M78 98h1M108 99h1m8 0h1M91 101h1M76 104h1M86 107h1M100 109h1M106 110h1M91 111h1M65 115h1M85 117h1m24 0h1M109 119h1M34 120h1M83 129h1M125 152h1"/>
</g>
<use href="#c0" transform="translate(0.17 0)"/>
<line x1="79.6" y1="386.74" x2="600.5" y2="386.74" stroke="#ff0000" stroke-width="3" stroke-dasharray="30 7.5"/>
<line x1="183.78" y1="467.75" x2="183.78" y2="62.7" stroke="#ff0000" stroke-width="3" stroke-dasharray="30 7.5"/>
<path d="M79.6 467.75v-11.8M79.6 62.7v11.8M79.6 467.75h16.5M600.5 467.75h-16.5M90.02 467.75v-6M90.02 62.7v6M79.6 459.65h8.3M600.5 459.65h-8.3M100.44 467.75v-6M100.44 62.7v6M79.6 451.55h8.3M600.5 451.55h-8.3M110.85 467.75v-6M110.85 62.7v6M79.6 443.45h8.3M600.5 443.45h-8.3M121.27 467.75v-6M121.27 62.7v6M79.6 435.35h8.3M600.5 435.35h-8.3M131.69 467.75v-11.8M131.69 62.7v11.8M79.6 427.25h16.5M600.5 427.25h-16.5M142.11 467.75v-6M142.11 62.7v6M79.6 419.14h8.3M600.5 419.14h-8.3M152.53 467.75v-6M152.53 62.7v6M79.6 411.04h8.3M600.5 411.04h-8.3M162.94 467.75v-6M162.94 62.7v6M79.6 402.94h8.3M600.5 402.94h-8.3M173.36 467.75v-6M173.36 62.7v6M79.6 394.84h8.3M600.5 394.84h-8.3M183.78 467.75v-11.8M183.78 62.7v11.8M79.6 386.74h16.5M600.5 386.74h-16.5M194.2 467.75v-6M194.2 62.7v6M79.6 378.64h8.3M600.5 378.64h-8.3M204.62 467.75v-6M204.62 62.7v6M79.6 370.54h8.3M600.5 370.54h-8.3M215.03 467.75v-6M215.03 62.7v6M79.6 362.44h8.3M600.5 362.44h-8.3M225.45 467.75v-6M225.45 62.7v6M79.6 354.34h8.3M600.5 354.34h-8.3M235.87 467.75v-11.8M235.87 62.7v11.8M79.6 346.24h16.5M600.5 346.24h-16.5M246.29 467.75v-6M246.29 62.7v6M79.6 338.13h8.3M600.5 338.13h-8.3M256.71 467.75v-6M256.71 62.7v6M79.6 330.03h8.3M600.5 330.03h-8.3M267.12 467.75v-6M267.12 62.7v6M79.6 321.93h8.3M600.5 321.93h-8.3M277.54 467.75v-6M277.54 62.7v6M79.6 313.83h8.3M600.5 313.83h-8.3M287.96 467.75v-11.8M287.96 62.7v11.8M79.6 305.73h16.5M600.5 305.73h-16.5M298.38 467.75v-6M298.38 62.7v6M79.6 297.63h8.3M600.5 297.63h-8.3M308.8 467.75v-6M308.8 62.7v6M79.6 289.53h8.3M600.5 289.53h-8.3M319.21 467.75v-6M319.21 62.7v6M79.6 281.43h8.3M600.5 281.43h-8.3M329.63 467.75v-6M329.63 62.7v6M79.6 273.33h8.3M600.5 273.33h-8.3M340.05 467.75v-11.8M340.05 62.7v11.8M79.6 265.23h16.5M600.5 265.23h-16.5M350.47 467.75v-6M350.47 62.7v6M79.6 257.12h8.3M600.5 257.12h-8.3M360.89 467.75v-6M360.89 62.7v6M79.6 249.02h8.3M600.5 249.02h-8.3M371.3 467.75v-6M371.3 62.7v6M79.6 240.92h8.3M600.5 240.92h-8.3M381.72 467.75v-6M381.72 62.7v6M79.6 232.82h8.3M600.5 232.82h-8.3M392.14 467.75v-11.8M392.14 62.7v11.8M79.6 224.72h16.5M600.5 224.72h-16.5M402.56 467.75v-6M402.56 62.7v6M79.6 216.62h8.3M600.5 216.62h-8.3M412.98 467.75v-6M412.98 62.7v6M79.6 208.52h8.3M600.5 208.52h-8.3M423.39 467.75v-6M423.39 62.7v6M79.6 200.42h8.3M600.5 200.42h-8.3M433.81 467.75v-6M433.81 62.7v6M79.6 192.32h8.3M600.5 192.32h-8.3M444.23 467.75v-11.8M444.23 62.7v11.8M79.6 184.21h16.5M600.5 184.21h-16.5M454.65 467.75v-6M454.65 62.7v6M79.6 176.11h8.3M600.5 176.11h-8.3M465.07 467.75v-6M465.07 62.7v6M79.6 168.01h8.3M600.5 168.01h-8.3M475.48 467.75v-6M475.48 62.7v6M79.6 159.91h8.3M600.5 159.91h-8.3M485.9 467.75v-6M485.9 62.7v6M79.6 151.81h8.3M600.5 151.81h-8.3M496.32 467.75v-11.8M496.32 62.7v11.8M79.6 143.71h16.5M600.5 143.71h-16.5M506.74 467.75v-6M506.74 62.7v6M79.6 135.61h8.3M600.5 135.61h-8.3M517.16 467.75v-6M517.16 62.7v6M79.6 127.51h8.3M600.5 127.51h-8.3M527.57 467.75v-6M527.57 62.7v6M79.6 119.41h8.3M600.5 119.41h-8.3M537.99 467.75v-6M537.99 62.7v6M79.6 111.31h8.3M600.5 111.31h-8.3M548.41 467.75v-11.8M548.41 62.7v11.8M79.6 103.2h16.5M600.5 103.2h-16.5M558.83 467.75v-6M558.83 62.7v6M79.6 95.1h8.3M600.5 95.1h-8.3M569.25 467.75v-6M569.25 62.7v6M79.6 87h8.3M600.5 87h-8.3M579.66 467.75v-6M579.66 62.7v6M79.6 78.9h8.3M600.5 78.9h-8.3M590.08 467.75v-6M590.08 62.7v6M79.6 70.8h8.3M600.5 70.8h-8.3M600.5 467.75v-11.8M600.5 62.7v11.8M79.6 62.7h16.5M600.5 62.7h-16.5" stroke="#000" stroke-width="1.3" fill="none"/>
<rect x="79.6" y="62.7" width="520.9" height="405.05" fill="none" stroke="#000" stroke-width="1.3"/>
<text x="79.6" y="487.85" font-size="20.9" text-anchor="middle">0</text>
<text x="75" y="474.65" font-size="20.9" text-anchor="end">0</text>
<text x="131.69" y="487.85" font-size="20.9" text-anchor="middle">0.1</text>
<text x="75" y="434.14" font-size="20.9" text-anchor="end">0.1</text>
<text x="183.78" y="487.85" font-size="20.9" text-anchor="middle">0.2</text>
<text x="75" y="393.64" font-size="20.9" text-anchor="end">0.2</text>
<text x="235.87" y="487.85" font-size="20.9" text-anchor="middle">0.3</text>
<text x="75" y="353.13" font-size="20.9" text-anchor="end">0.3</text>
<text x="287.96" y="487.85" font-size="20.9" text-anchor="middle">0.4</text>
<text x="75" y="312.63" font-size="20.9" text-anchor="end">0.4</text>
<text x="340.05" y="487.85" font-size="20.9" text-anchor="middle">0.5</text>
<text x="75" y="272.12" font-size="20.9" text-anchor="end">0.5</text>
<text x="392.14" y="487.85" font-size="20.9" text-anchor="middle">0.6</text>
<text x="75" y="231.62" font-size="20.9" text-anchor="end">0.6</text>
<text x="444.23" y="487.85" font-size="20.9" text-anchor="middle">0.7</text>
<text x="75" y="191.11" font-size="20.9" text-anchor="end">0.7</text>
<text x="496.32" y="487.85" font-size="20.9" text-anchor="middle">0.8</text>
<text x="75" y="150.61" font-size="20.9" text-anchor="end">0.8</text>
<text x="548.41" y="487.85" font-size="20.9" text-anchor="middle">0.9</text>
<text x="75" y="110.1" font-size="20.9" text-anchor="end">0.9</text>
<text x="600.5" y="487.85" font-size="20.9" text-anchor="middle">1</text>
<text x="75" y="69.6" font-size="20.9" text-anchor="end">1</text>
<text x="601.1" y="519.55" font-size="29" text-anchor="end">Leading jet PTF</text>
<text transform="translate(26.5 61.9) rotate(-90)" font-size="28.75" text-anchor="end">Subeading jet PTF</text>
<text x="116.06" y="439.4" font-size="28" font-weight="bold">A</text>
<text x="116.06" y="346.24" font-size="28" font-weight="bold">B</text>
<text x="235.87" y="439.4" font-size="28" font-weight="bold">C</text>
<text x="235.87" y="346.24" font-size="28" font-weight="bold">D</text>
<rect x="604.2" y="447.5" width="38.6" height="20.25" fill="#263ea8"/>
<rect x="604.2" y="427.25" width="38.6" height="20.65" fill="#1652cd"/>
<rect x="604.2" y="406.99" width="38.6" height="20.65" fill="#1064dc"/>
<rect x="604.2" y="386.74" width="38.6" height="20.65" fill="#1272d9"/>
<rect x="604.2" y="366.49" width="38.6" height="20.65" fill="#1481d6"/>
<rect x="604.2" y="346.24" width="38.6" height="20.65" fill="#0e8fd1"/>
<rect x="604.2" y="325.98" width="38.6" height="20.65" fill="#099dcc"/>
<rect x="604.2" y="305.73" width="38.6" height="20.65" fill="#0da7c3"/>
<rect x="604.2" y="285.48" width="38.6" height="20.65" fill="#1eafb3"/>
<rect x="604.2" y="265.23" width="38.6" height="20.65" fill="#2eb7a4"/>
<rect x="604.2" y="244.97" width="38.6" height="20.65" fill="#52ba92"/>
<rect x="604.2" y="224.72" width="38.6" height="20.65" fill="#74bd81"/>
<rect x="604.2" y="204.47" width="38.6" height="20.65" fill="#95be71"/>
<rect x="604.2" y="184.21" width="38.6" height="20.65" fill="#b3bd65"/>
<rect x="604.2" y="163.96" width="38.6" height="20.65" fill="#d1bb59"/>
<rect x="604.2" y="143.71" width="38.6" height="20.65" fill="#e2c04b"/>
<rect x="604.2" y="123.46" width="38.6" height="20.65" fill="#f4c63b"/>
<rect x="604.2" y="103.2" width="38.6" height="20.65" fill="#fdd22b"/>
<rect x="604.2" y="82.95" width="38.6" height="20.65" fill="#fbe61d"/>
<rect x="604.2" y="62.7" width="38.6" height="20.65" fill="#f9f90f"/>
<line x1="642.8" y1="62.05" x2="642.8" y2="468.4" stroke="#000" stroke-width="1.3"/>
<path d="M642.8 467.75h-16.7M642.8 441.8h-8.6M642.8 426.62h-8.6M642.8 415.85h-8.6M642.8 407.5h-8.6M642.8 400.67h-8.6M642.8 394.9h-8.6M642.8 389.9h-8.6M642.8 385.49h-8.6M642.8 381.55h-16.7M642.8 355.6h-8.6M642.8 340.42h-8.6M642.8 329.65h-8.6M642.8 321.3h-8.6M642.8 314.47h-8.6M642.8 308.7h-8.6M642.8 303.7h-8.6M642.8 299.29h-8.6M642.8 295.35h-16.7M642.8 269.4h-8.6M642.8 254.22h-8.6M642.8 243.45h-8.6M642.8 235.1h-8.6M642.8 228.27h-8.6M642.8 222.5h-8.6M642.8 217.5h-8.6M642.8 213.1h-8.6M642.8 209.15h-16.7M642.8 183.2h-8.6M642.8 168.02h-8.6M642.8 157.25h-8.6M642.8 148.9h-8.6M642.8 142.07h-8.6M642.8 136.3h-8.6M642.8 131.3h-8.6M642.8 126.9h-8.6M642.8 122.95h-16.7M642.8 97h-8.6M642.8 81.82h-8.6M642.8 71.05h-8.6M642.8 62.7h-8.6" stroke="#000" stroke-width="1.3" fill="none"/>
<text x="652" y="477.05" font-size="20.9">10<tspan font-size="13.1" dy="-9.8" dx="-0.5">−3</tspan></text>
<text x="652" y="390.85" font-size="20.9">10<tspan font-size="13.1" dy="-9.8" dx="-0.5">−2</tspan></text>
<text x="652" y="304.65" font-size="20.9">10<tspan font-size="13.1" dy="-9.8" dx="-0.5">−1</tspan></text>
<text x="652" y="218.45" font-size="20.9">1</text>
<text x="652" y="132.25" font-size="20.9">10</text>
<text transform="translate(725.6 60.2) rotate(-90)" font-size="29" text-anchor="end">Events / (0.01 X 0.01)</text>
<text x="87.3" y="20.5" font-size="29.4"><tspan font-weight="bold" font-style="italic">ATLAS</tspan> Simulation</text>
<text x="0" y="0" font-size="22.3" style="stroke-width:2px" transform="translate(86.3 47.6) scale(0.43 0.97)">√</text>
<line x1="90.9" y1="29.6" x2="106" y2="29.6" stroke="#000" stroke-width="1.2"/>
<text x="95.3" y="46.6" font-size="22.3">s = 13.6 TeV, 51.8 fb<tspan font-size="14.5" dy="-9">-1</tspan></text>
<text x="382.3" y="46.9" font-size="20.4">Background MC, high-m<tspan font-size="12.5" dy="11.3" dx="0">jj</tspan></text>
<g id="c864" transform="translate(943.81 467.75) scale(2.60450 -2.02525) translate(0 .5)" fill="none" stroke-width="1.085">
<path stroke="#0e8fd1" d="M58 0h1m1 0h1m6 0h1m5 0h1m5 0h1m1 0h1m6 0h1m10 0h1m24 0h1M60 1h1m1 0h2m5 0h1m11 0h3m3 0h2m5 0h2m2 0h1m2 0h2m22 0h1m38 0h1M49 2h1m3 0h1m9 0h1m1 0h1m10 0h4m5 0h1m1 0h1m3 0h1m4 0h1m4 0h1m27 0h1m1 0h1m3 0h1M55 3h1m2 0h1m3 0h1m15 0h4m8 0h1m6 0h1m7 0h2m1 0h1m8 0h1m1 0h1m34 0h1m4 0h1m12 0h1m2 0h1M51 4h1m6 0h1m1 0h1m7 0h1m1 0h1m3 0h1m2 0h2m1 0h1m2 0h3m3 0h1m13 0h1m8 0h1m27 0h1m20 0h1m8 0h1M54 5h1m15 0h2m3 0h1m1 0h1m7 0h2m2 0h1m2 0h1m2 0h1m1 0h1m2 0h1m21 0h1m30 0h1M46 6h1m10 0h1m3 0h1m1 0h1m8 0h1m1 0h1m1 0h1m2 0h1m1 0h1m2 0h3m10 0h1m7 0h1m8 0h1M43 7h1m1 0h1m8 0h1m3 0h2m6 0h1m1 0h1m2 0h1m6 0h2m2 0h1m8 0h1m7 0h2m1 0h1m13 0h1m2 0h1m2 0h1M48 8h1m11 0h1m1 0h1m2 0h2m4 0h1m2 0h1m1 0h1m1 0h1m1 0h1m1 0h2m1 0h1m2 0h1m61 0h1M50 9h1m6 0h1m2 0h1m4 0h1m11 0h1m1 0h1m6 0h1m14 0h1m6 0h1m33 0h1m15 0h1M47 10h1m1 0h1m1 0h3m6 0h2m1 0h1m2 0h3m3 0h1m4 0h1m1 0h1m1 0h2m1 0h1m4 0h2m25 0h1m4 0h1m1 0h1m10 0h1M47 11h1m5 0h1m2 0h2m1 0h2m1 0h6m1 0h2m7 0h2m8 0h1m21 0h1m2 0h1m42 0h1m16 0h1M44 12h1m3 0h1m1 0h1m1 0h1m1 0h2m5 0h1m2 0h1m1 0h3m3 0h3m13 0h2m6 0h1m1 0h1m29 0h1M41 13h1m3 0h1m1 0h3m4 0h1m1 0h1m1 0h2m2 0h1m5 0h1m2 0h2m2 0h2m4 0h1m3 0h1m2 0h1m60 0h1M41 14h1m5 0h1m1 0h2m1 0h1m2 0h1m1 0h1m1 0h1m1 0h1m1 0h1m3 0h2m6 0h1m1 0h1m1 0h1m2 0h3m2 0h1m1 0h1m3 0h1m16 0h1M36 15h1m6 0h1m5 0h1m1 0h1m5 0h3m6 0h2m4 0h1m1 0h1m12 0h1m1 0h1m8 0h1m77 0h1M38 16h1m1 0h1m4 0h2m3 0h2m2 0h2m3 0h2m5 0h2m1 0h1m1 0h2m2 0h1m2 0h1m7 0h1m20 0h2M40 17h1m3 0h2m7 0h2m2 0h1m1 0h1m5 0h1m10 0h1m1 0h1m26 0h1M32 18h1m6 0h1m2 0h1m15 0h1m5 0h2m1 0h1m1 0h1m2 0h1m3 0h1m18 0h1m3 0h1M36 19h2m5 0h1m1 0h1m1 0h1m9 0h1m6 0h1m2 0h1m2 0h1m2 0h1m2 0h1m2 0h1m5 0h2m2 0h1m14 0h1m15 0h1m15 0h1M26 20h1m16 0h1m1 0h4m6 0h1m1 0h1m1 0h1m6 0h2m5 0h2m3 0h1m6 0h1m4 0h1m7 0h1m18 0h1M44 21h1m3 0h1m1 0h1m1 0h2m5 0h1m1 0h1m5 0h1m8 0h1m15 0h1m8 0h1m2 0h1m7 0h1m24 0h1M30 22h1m7 0h1m3 0h1m6 0h2m16 0h1m34 0h1m4 0h1M25 23h1m8 0h1m1 0h1m4 0h1m2 0h1m5 0h3m2 0h2m3 0h2m3 0h1m10 0h1m1 0h1m2 0h1m3 0h1m9 0h1m75 0h1m19 0h1M20 24h1m12 0h1m8 0h2m1 0h1m3 0h1m4 0h1m5 0h4m1 0h2m7 0h2m4 0h1m13 0h1m8 0h1M35 25h1m2 0h3m3 0h3m1 0h1m2 0h1m1 0h4m1 0h1m2 0h3m21 0h1m17 0h1M30 26h1m4 0h1m4 0h1m1 0h1m2 0h6m3 0h1m3 0h1m2 0h2m4 0h1m5 0h1m18 0h1m11 0h1m11 0h1M33 27h2m4 0h1m1 0h1m8 0h1m2 0h1m7 0h1m2 0h1m4 0h1m1 0h1m20 0h1m4 0h1m25 0h1M22 28h1m4 0h1m1 0h2m1 0h1m2 0h4m8 0h3m3 0h1m1 0h1m2 0h2m6 0h1m1 0h2m2 0h1m15 0h1M29 29h1m11 0h2m3 0h1m3 0h6m3 0h1m3 0h1m3 0h1m15 0h1m60 0h1M15 30h1m17 0h1m4 0h1m3 0h1m1 0h3m2 0h1m2 0h2m13 0h1M28 31h1m2 0h1m2 0h1m2 0h1m2 0h1m2 0h1m1 0h1m1 0h1m1 0h1m4 0h1m1 0h2m1 0h1m2 0h1m4 0h1m5 0h1M25 32h2m3 0h2m1 0h3m2 0h2m1 0h1m6 0h1m4 0h1m25 0h1m5 0h1M25 33h1m5 0h3m2 0h1m4 0h1m3 0h1m2 0h1m3 0h1m1 0h1m1 0h1m2 0h1m1 0h1m2 0h2m6 0h1M34 34h3m1 0h1m3 0h2m9 0h1m1 0h1m2 0h1m1 0h1m3 0h1m1 0h1m9 0h1m6 0h1M23 35h2m4 0h1m2 0h1m5 0h2m3 0h2m1 0h2m1 0h1m9 0h2m10 0h1m38 0h1m79 0h1M29 36h1m3 0h1m2 0h2m12 0h1m2 0h1m2 0h1m22 0h2m5 0h1m8 0h1M29 37h1m1 0h1m2 0h1m4 0h2m3 0h2m1 0h2m25 0h1m4 0h1M33 38h2m1 0h1m2 0h1m1 0h1m1 0h1m2 0h1m10 0h1m1 0h2m1 0h1m6 0h1m4 0h1m4 0h1m8 0h1M23 39h2m4 0h3m1 0h2m1 0h1m2 0h1m1 0h1m4 0h1m2 0h1m10 0h1m11 0h1m5 0h1m11 0h1M14 40h1m10 0h1m1 0h1m4 0h2m13 0h1m2 0h1m7 0h1m33 0h1m26 0h1M25 41h1m3 0h2m1 0h3m1 0h2m3 0h1m1 0h1m1 0h1m56 0h1M19 42h2m8 0h3m4 0h1m1 0h1m2 0h1m4 0h1m1 0h1m4 0h1m1 0h1m3 0h1M26 43h1m1 0h3m4 0h2m2 0h2m1 0h1m5 0h1m1 0h1m6 0h1m2 0h1m57 0h1M16 44h1m1 0h1m10 0h2m7 0h3m2 0h3m1 0h3m20 0h1m5 0h1m3 0h1M11 45h1m6 0h1m1 0h2m2 0h1m1 0h2m3 0h1m2 0h2m1 0h1m3 0h1m2 0h1m1 0h1m1 0h1m12 0h1m3 0h1m17 0h1m10 0h1M19 46h1m2 0h3m1 0h1m1 0h1m2 0h1m1 0h7m2 0h1m1 0h1m5 0h1m2 0h1m28 0h1M18 47h1m5 0h1m3 0h1m3 0h2m4 0h1m12 0h1m11 0h1m8 0h1M19 48h1m3 0h1m2 0h1m8 0h2m1 0h3m1 0h1m5 0h1m2 0h1m9 0h1M14 49h1m2 0h1m2 0h1m1 0h1m7 0h2m4 0h2m4 0h1m1 0h1m1 0h1m15 0h1m102 0h1M10 50h1m3 0h1m1 0h2m3 0h1m2 0h1m2 0h1m2 0h3m1 0h1m1 0h2m1 0h4m9 0h1m4 0h1m8 0h1m21 0h1m7 0h1M11 51h1m4 0h1m2 0h1m5 0h1m1 0h7m34 0h1M19 52h1m1 0h1m1 0h2m1 0h2m6 0h2m5 0h1m7 0h2m1 0h1m28 0h1m20 0h1M10 53h3m3 0h1m1 0h2m5 0h1m7 0h1m2 0h1m4 0h2m5 0h1m1 0h1m1 0h1m12 0h1m44 0h1M16 54h1m1 0h1m2 0h2m6 0h1m1 0h1m4 0h1m3 0h2m14 0h2m7 0h1m39 0h1M12 55h1m3 0h1m2 0h1m4 0h2m2 0h1m1 0h1m1 0h1m1 0h1m3 0h1m12 0h1m1 0h1M6 56h2m2 0h1m1 0h1m6 0h2m3 0h3m4 0h1m1 0h1m11 0h1m2 0h1M4 57h1m1 0h1m4 0h2m2 0h4m2 0h2m1 0h1m2 0h1m3 0h1m1 0h1m1 0h2m7 0h1m4 0h1m3 0h1M5 58h1m1 0h1m4 0h1m7 0h5m6 0h2m13 0h1M10 59h1m1 0h1m2 0h1m6 0h1m3 0h1m3 0h1m4 0h1m31 0h1m16 0h1M8 60h1m4 0h1m1 0h2m1 0h2m1 0h1m2 0h1m5 0h1m13 0h1m9 0h1m20 0h1M9 61h2m3 0h2m1 0h1m2 0h1m3 0h1m7 0h1m3 0h1m6 0h1m2 0h1m24 0h2m96 0h1m9 0h1M10 62h1m1 0h1m5 0h1m2 0h4m5 0h1m3 0h1m1 0h2m17 0h1m11 0h1m26 0h1M10 63h2m7 0h1m2 0h1m4 0h2m9 0h1m4 0h1m4 0h1m2 0h1m6 0h1m2 0h1m13 0h1m50 0h1M0 64h1m6 0h2m3 0h1m1 0h1m1 0h1m1 0h1m5 0h1m2 0h1m13 0h1M9 65h1m4 0h1m5 0h1m3 0h1m9 0h1m4 0h1m8 0h1m18 0h1M7 66h1m7 0h1m2 0h3m7 0h1m2 0h1m1 0h2m4 0h1m2 0h1m4 0h1m1 0h1m26 0h1m7 0h1M2 67h1m5 0h1m2 0h1m6 0h1m3 0h1m6 0h1m1 0h1m3 0h2m9 0h1M3 68h1m1 0h1m2 0h1m6 0h2m1 0h1m5 0h1m2 0h1m1 0h2m3 0h1m1 0h1m38 0h1M9 69h1m4 0h1m1 0h2m4 0h2m2 0h1m13 0h1m1 0h1m5 0h1m74 0h1M3 70h1m1 0h4m3 0h1m7 0h1m2 0h1m1 0h2m35 0h1M9 71h1m6 0h1m10 0h1m3 0h1m5 0h1m2 0h2m23 0h1M1 72h1m3 0h1m8 0h1m2 0h1m1 0h1m1 0h1m3 0h2m1 0h1m9 0h1M8 73h2m1 0h1m2 0h1m2 0h2m1 0h1m5 0h1m11 0h1m14 0h1m4 0h1M10 74h1m6 0h1m2 0h1m2 0h2m8 0h2m20 0h1M1 75h1m7 0h1m3 0h2m1 0h3m2 0h1m1 0h2m5 0h1m9 0h1M9 76h2m2 0h1m3 0h1m12 0h1m2 0h1m5 0h2m2 0h1m29 0h1M2 77h1m4 0h1m1 0h1m8 0h2m4 0h1m1 0h1m36 0h1M7 78h2m6 0h1m1 0h1m3 0h2m4 0h1m18 0h1m4 0h1M8 79h2m1 0h1m4 0h1m1 0h1m4 0h1m13 0h1m20 0h1m26 0h1M5 80h1m1 0h1m3 0h2m1 0h1m1 0h3m1 0h2m3 0h1m11 0h1m86 0h1M2 81h1m4 0h2m1 0h1m2 0h1m4 0h1m2 0h1m2 0h1M4 82h1m4 0h2m1 0h2m1 0h2m3 0h2m6 0h1m4 0h1m63 0h1M7 83h1m2 0h1m2 0h5m3 0h1m16 0h1m20 0h1M7 84h3m5 0h1m1 0h1m6 0h1m14 0h1M7 85h1m20 0h1m22 0h1m22 0h1M6 86h1m5 0h4m3 0h1m3 0h1m2 0h1M1 87h1m1 0h2m2 0h1m3 0h1m1 0h4m15 0h1m15 0h1M0 88h1m3 0h2m3 0h1m2 0h1m1 0h1m1 0h1m3 0h1m3 0h1M3 89h2m1 0h2m2 0h3m2 0h1m1 0h1m6 0h2m1 0h1m6 0h1m11 0h1M2 90h1m1 0h1m3 0h1m13 0h1m2 0h1m1 0h1M1 91h2m1 0h2m1 0h5m1 0h1m6 0h1m3 0h1m9 0h1m4 0h1M5 92h1m9 0h1m23 0h1M7 93h2m1 0h1m6 0h2m3 0h1m7 0h1M1 94h2m1 0h1m2 0h1m5 0h2m14 0h1m5 0h1m9 0h1M0 95h1m2 0h1m3 0h1m4 0h1m1 0h1m1 0h1m9 0h1m9 0h1m6 0h1m7 0h1M1 96h1m1 0h1m1 0h1m2 0h2m3 0h1m5 0h1m1 0h3m27 0h1m1 0h1M14 97h1m3 0h2m1 0h1m15 0h1m10 0h1M4 98h1m2 0h1m2 0h1m3 0h1m4 0h2m2 0h1m3 0h1m4 0h1m4 0h1m7 0h1M3 99h2m6 0h1M6 100h1m3 0h1m14 0h1m7 0h1m3 0h1M0 101h1m1 0h2m2 0h1m1 0h1m2 0h1m4 0h1m1 0h2M9 102h1m3 0h1m2 0h1m37 0h1M4 103h3m4 0h1m3 0h1m6 0h1m11 0h1m3 0h1M0 104h2m1 0h1m1 0h1m9 0h2m7 0h1M0 105h1m1 0h2m12 0h2m22 0h1M1 106h1m2 0h1m1 0h2m16 0h1M15 107h1m43 0h1m35 0h1M4 108h1m3 0h1m5 0h1m10 0h1m22 0h1m10 0h1M1 109h1m3 0h1m3 0h1m1 0h1m1 0h1m5 0h1m1 0h1m10 0h1m1 0h1M0 110h2m7 0h1m1 0h2m1 0h1m55 0h1M4 111h3m6 0h1m4 0h1m94 0h1M1 112h2m2 0h1m5 0h4M2 113h1m1 0h2m4 0h3m3 0h1m7 0h1m5 0h1M6 114h1m4 0h1m4 0h1M0 115h1m4 0h2m14 0h1m1 0h1M0 116h2m5 0h1m2 0h2m4 0h1m14 0h1m8 0h1M8 117h1m4 0h2m17 0h1m26 0h1M0 118h2m29 0h1M1 119h1m4 0h1m3 0h1m17 0h1M2 120h1m7 0h1M0 121h2m5 0h1m29 0h1M0 122h1m6 0h1m3 0h2M0 123h1m8 0h4m16 0h1M12 124h1m3 0h1M0 125h1m5 0h1m15 0h1m31 0h1M0 126h1m2 0h1m2 0h2m2 0h1m1 0h1m5 0h1M0 127h1m1 0h1m2 0h2m1 0h1m9 0h1m3 0h1m36 0h1M1 128h3m6 0h2M11 129h1m14 0h1M1 130h1m3 0h1m1 0h2m6 0h1M32 131h1m6 0h1M2 132h1m31 0h1M6 133h1m7 0h1M0 134h1m2 0h1m7 0h1m5 0h1M6 135h1m27 0h1M5 136h2m3 0h1M1 137h1m2 0h1M0 138h1m2 0h1m2 0h1m3 0h1m3 0h1M0 139h1m9 0h1m11 0h1M2 140h1m4 0h1m19 0h1m10 0h1M18 142h1M4 143h2m8 0h1m3 0h1M6 144h1m17 0h1m19 0h1M1 145h1m4 0h1m2 0h1m5 0h1M2 146h2M5 147h1m3 0h2m5 0h1M3 148h1m22 0h1M0 149h1m8 0h1M1 150h1m2 0h2M20 151h1M7 152h1M3 154h1m14 0h1M5 155h1m10 0h1m34 0h1M2 156h2m1 0h1m7 0h1M1 157h1m1 0h1M12 158h2M2 159h2m29 0h1M8 160h2m11 0h1M21 161h1M30 162h1M23 164h1M9 165h1M17 166h1m35 0h1M0 167h1M2 168h1m34 0h1M13 169h1M0 170h1m3 0h1m2 0h1m19 0h1M0 171h1M3 172h1M13 173h1M25 174h1M3 175h1M19 176h1M6 177h1m11 0h1M14 179h1M1 180h1M3 181h1M11 183h1M18 184h1m42 0h1M2 186h1m46 0h1M3 187h1M18 188h1M3 190h1M2 191h1m5 0h1M15 192h1M4 195h1m16 0h1M34 198h1"/>
<path stroke="#099dcc" d="M57 0h1m4 0h1m2 0h1m3 0h1m1 0h1m2 0h3m9 0h1m8 0h1m4 0h1M56 1h1m2 0h1m4 0h1m6 0h2m2 0h1m4 0h1M48 2h1m2 0h2m1 0h1m6 0h1m2 0h1m4 0h1m11 0h1m2 0h1M54 3h1m9 0h8m1 0h1m3 0h1m5 0h2M52 4h2m5 0h1m5 0h3m3 0h1m18 0h2M45 5h1m9 0h3m1 0h2m1 0h3m4 0h1m6 0h1M43 6h1m10 0h1m4 0h1m6 0h1m2 0h3m11 0h1m5 0h1m28 0h1M37 7h1m2 0h1m6 0h1m2 0h1m2 0h1m13 0h1m2 0h1m1 0h2m14 0h1M45 8h1m1 0h1m1 0h2m1 0h3m3 0h2m1 0h1m10 0h1m2 0h1m1 0h1M37 9h1m2 0h1m5 0h1m1 0h1m4 0h2m6 0h2m5 0h2m18 0h1M38 10h1m1 0h1m7 0h1m6 0h1m1 0h1m6 0h2m4 0h2m8 0h1m2 0h1M41 11h1m2 0h1m9 0h1m18 0h1m8 0h1M45 12h2m18 0h1m5 0h1m9 0h1M27 13h1m10 0h1m13 0h1m10 0h2m2 0h1m1 0h1M33 14h1m2 0h1m2 0h2m1 0h1m10 0h1m4 0h1m3 0h1m9 0h2m4 0h1M23 15h1m15 0h3m4 0h1m3 0h1m1 0h1m2 0h1m4 0h2m1 0h1m13 0h1M27 16h1m8 0h1m5 0h2m4 0h1m4 0h1M39 17h1m1 0h1m4 0h1m1 0h2m10 0h1m3 0h1m2 0h2M31 18h1m9 0h1m3 0h1m1 0h2m6 0h3m17 0h1M38 19h1m1 0h1m3 0h1m1 0h1m2 0h1m1 0h1m1 0h1m1 0h1m3 0h1m3 0h1m5 0h1M28 20h1m1 0h1m1 0h1m4 0h3m2 0h1m7 0h1M28 21h1m9 0h3m4 0h1m5 0h1m8 0h1M31 22h1m4 0h1m10 0h1m3 0h1m1 0h1m2 0h1m1 0h1m1 0h1M35 23h1m3 0h2m2 0h1m1 0h1m1 0h3M31 24h1m7 0h1m1 0h1m2 0h1m1 0h1m1 0h1m1 0h2m5 0h2M32 25h1m1 0h1m12 0h1m19 0h1M31 26h1m1 0h2m2 0h1m1 0h1m4 0h1m6 0h2m3 0h1M32 27h1m3 0h1m1 0h1m1 0h1m1 0h2m2 0h1m2 0h1M24 28h1m6 0h1m1 0h2m5 0h1m1 0h2m7 0h2m10 0h1M21 29h2m3 0h1m1 0h1m2 0h2m3 0h3m1 0h1m2 0h2m3 0h1m7 0h1M26 30h2m2 0h1m1 0h1m3 0h1m2 0h2m2 0h1m7 0h1m6 0h1M20 31h1m9 0h1m4 0h2m5 0h1m1 0h1m20 0h2M9 32h1m10 0h1m11 0h1m3 0h1m5 0h1m4 0h1M16 33h1m18 0h1m2 0h1m1 0h1m5 0h1M16 34h1m3 0h1m3 0h1m1 0h1m1 0h2m3 0h1m5 0h3m2 0h1m6 0h1M16 35h1m5 0h1m7 0h2m1 0h1m6 0h1m10 0h1M13 36h2m9 0h1m5 0h1m1 0h1m5 0h1m1 0h1m3 0h1m1 0h1m2 0h1m11 0h1M13 37h1m14 0h1m1 0h1m2 0h1m9 0h1M16 38h1m2 0h1m3 0h1m1 0h1m1 0h1m1 0h1m5 0h1m1 0h1M19 39h1m12 0h1m2 0h1m4 0h1M23 40h1m4 0h2m5 0h1m1 0h3m2 0h2M21 41h2m4 0h2M9 42h1m5 0h1m5 0h1m3 0h1m9 0h1m1 0h1m5 0h1m1 0h1M18 43h3m3 0h2m12 0h1m6 0h1M10 44h1m8 0h1m5 0h1m1 0h1m5 0h1m1 0h1M15 45h2m2 0h1m5 0h1m2 0h1m1 0h1M14 46h1m1 0h1m3 0h1m4 0h1m1 0h1m12 0h1m10 0h1M11 47h1m1 0h1m5 0h2m1 0h2m2 0h2m8 0h1m2 0h1M14 48h2m1 0h1m11 0h1m1 0h1m2 0h1M23 49h1m1 0h4m3 0h1M15 50h1m3 0h1m8 0h1m4 0h1m39 0h1M9 51h1m4 0h1m2 0h1M9 52h1m6 0h1m1 0h1m13 0h1M13 53h1m1 0h1m6 0h1m6 0h1M5 54h1m4 0h3m4 0h1m6 0h1m1 0h2m4 0h1M9 55h2m2 0h1m1 0h1m4 0h1m5 0h1m4 0h1M11 56h1m4 0h1m5 0h1m9 0h1M5 57h1m2 0h1m10 0h1m10 0h1M3 58h1m5 0h1m1 0h1m1 0h2m1 0h2m1 0h1m5 0h1M3 59h1m3 0h2m2 0h1m4 0h1m1 0h1m5 0h1m7 0h1m5 0h1m15 0h1M11 60h1m10 0h1m5 0h1M7 61h2m2 0h1m18 0h1M9 62h1m3 0h1m2 0h2m1 0h1m6 0h1m1 0h1M8 63h1m4 0h1m15 0h1M9 64h1m5 0h1m7 0h1m2 0h1m8 0h1M0 65h1m4 0h1m2 0h1m12 0h1m4 0h1M2 66h1m1 0h1m4 0h1m2 0h2m3 0h1m20 0h1M3 67h1m2 0h1m7 0h1m2 0h1m1 0h1m3 0h1m1 0h1M1 68h2m4 0h1m3 0h2m1 0h1m4 0h1m1 0h1m1 0h1M4 69h1m3 0h1m1 0h1m1 0h1m2 0h1m2 0h1m16 0h1M11 70h1m2 0h2m8 0h1M4 71h1m1 0h2m2 0h2m1 0h1m3 0h1m1 0h1m4 0h1m5 0h1M4 72h1m5 0h1m5 0h1m1 0h1M1 73h1m1 0h1m6 0h1m1 0h2m1 0h1M0 74h1m3 0h2m2 0h1m2 0h2m3 0h1m10 0h1M2 75h1m1 0h1m1 0h2m3 0h1m3 0h1M5 76h1m2 0h1m2 0h1m2 0h1m4 0h2M3 77h1m9 0h1m8 0h1M4 78h1m1 0h1m3 0h2m8 0h1M4 79h2m1 0h1m5 0h1m3 0h1m4 0h1m1 0h1m14 0h1M1 80h1m1 0h2M0 81h1m2 0h1m5 0h1m4 0h1M6 82h2m9 0h1M2 83h1m2 0h1M1 84h1m1 0h1m1 0h1m7 0h1M0 85h1m2 0h3m2 0h1m6 0h1M8 86h2M2 87h1m6 0h1m2 0h1m5 0h1M1 88h1m4 0h1M2 89h1m2 0h1m24 0h1M3 90h1m2 0h1M3 91h1m2 0h1m8 0h1m15 0h1M0 92h1m5 0h1M1 93h1m1 0h3m8 0h1M0 94h1m2 0h1m4 0h1m2 0h1M1 95h1m2 0h1m1 0h1m1 0h1m1 0h1M6 96h1m5 0h1M10 97h1M0 98h1m1 0h1m6 0h1m8 0h1M0 99h2m3 0h1m9 0h1m2 0h1M1 100h1m2 0h1m2 0h1M1 101h1m7 0h1M0 102h1m1 0h1M3 103h1m6 0h1M4 105h1m1 0h1M0 106h1m1 0h1m7 0h1M1 107h2m8 0h1M2 108h2M0 109h1M5 110h1M0 111h1m10 0h1M4 112h1m1 0h1m1 0h1M0 113h1M2 114h1m6 0h1M2 116h1m15 0h1M0 117h1M12 118h1M20 122h1M0 124h2M1 125h1M5 131h1m5 0h1M7 133h1M21 139h1M2 142h1M3 144h1M0 157h1"/>
<path stroke="#0da7c3" d="M52 0h2m5 0h1m8 0h1m9 0h1M44 1h1m1 0h1m4 0h1m2 0h1m6 0h1m6 0h1m4 0h2M50 2h1m6 0h2m7 0h2m4 0h1m7 0h1M44 3h1m4 0h1m9 0h3m10 0h1M50 4h1m6 0h1m3 0h2M47 5h2m16 0h3m6 0h1M45 6h1m6 0h1m5 0h1m1 0h1m12 0h1M46 7h1m5 0h1m2 0h2m3 0h2m2 0h1M35 8h1m5 0h1m4 0h1m4 0h1m5 0h1m5 0h1m6 0h1M36 9h1m15 0h1m2 0h2m7 0h1m6 0h1M34 10h1m15 0h1m8 0h1M28 11h1m7 0h1m2 0h1m5 0h1m2 0h1m3 0h1m19 0h1M32 12h1m6 0h1m17 0h1M32 13h1m2 0h1m6 0h3m6 0h1m1 0h1m6 0h1M37 14h1m5 0h1m1 0h2m1 0h1m2 0h1m13 0h1M37 15h1m4 0h1m1 0h1M35 16h1m3 0h1m1 0h1m2 0h1m12 0h1M38 17h1m11 0h2m6 0h1M33 18h1m1 0h1m2 0h1m1 0h1m9 0h2m2 0h1m4 0h1m21 0h1M25 19h1m3 0h1m9 0h1m1 0h2M35 20h2m12 0h1M23 21h1m6 0h1m10 0h1m1 0h1m2 0h1m11 0h1M27 22h1m4 0h2m1 0h1m3 0h1m8 0h1m6 0h1M30 23h1m1 0h1M23 24h1m2 0h1m2 0h1m2 0h1m4 0h2m1 0h1m6 0h1m5 0h1M25 25h2m1 0h1m1 0h1m2 0h1M29 26h1m6 0h1m4 0h1m1 0h1M21 27h1m2 0h1m2 0h1m7 0h1m16 0h1M41 28h1M34 29h1m4 0h1m25 0h1M13 30h2m5 0h1m8 0h1m1 0h1m2 0h2M15 31h1m6 0h1m2 0h2m5 0h1M19 32h1m7 0h1m12 0h1M22 33h1m1 0h1m2 0h1m2 0h1m8 0h1m3 0h2m5 0h1M13 34h1m3 0h1m1 0h1m5 0h1m6 0h1M17 35h2m17 0h1m4 0h1M16 36h2m4 0h1m3 0h2m7 0h1M12 37h1m2 0h1m2 0h2m7 0h1m8 0h1M10 38h1m6 0h2m2 0h1m4 0h1m11 0h1M11 39h1m4 0h1m4 0h1m3 0h4M18 40h4m19 0h1M14 41h2m1 0h1m1 0h1m3 0h1m7 0h1M14 42h1m8 0h1m2 0h2m14 0h1M15 43h1m1 0h1m5 0h1m3 0h1M6 44h1m1 0h1m11 0h3m5 0h1m3 0h1m1 0h1M17 45h1m5 0h1M10 46h1m2 0h1m4 0h1M9 47h2m6 0h1m11 0h1m5 0h1M12 48h1m3 0h1m7 0h2m11 0h1M6 49h1m2 0h1m1 0h1m4 0h1m1 0h1m2 0h1m7 0h1M7 50h1m3 0h1m10 0h2m1 0h1M4 51h1m10 0h1m6 0h2M13 52h2m2 0h1m2 0h1m8 0h1M2 53h1m11 0h1m6 0h1m2 0h1m5 0h1M7 54h1m1 0h1m4 0h1m4 0h2m7 0h1M11 55h1m2 0h1m3 0h1m3 0h1M21 56h1M3 57h1m5 0h2m2 0h2m5 0h1M8 58h1m6 0h1M0 59h1m3 0h2m8 0h1m4 0h1M12 60h1M0 61h1m5 0h1m6 0h1M2 62h1m1 0h1m6 0h1m3 0h1m16 0h1M9 63h1m4 0h1m1 0h1m4 0h1M2 64h1m2 0h2m3 0h1m2 0h1M1 65h1m5 0h1M0 66h1m2 0h1m2 0h1m3 0h1m5 0h1M0 67h1m6 0h1m2 0h1m1 0h1M4 68h1m4 0h2m2 0h1M0 69h1m4 0h1m1 0h1m12 0h1M2 70h1m1 0h1m5 0h1m5 0h1M0 71h1m2 0h1m1 0h1m6 0h1m5 0h1M3 72h1m9 0h1M6 73h2m8 0h1M2 74h2m10 0h1M8 75h1m13 0h1M0 76h1m5 0h2M5 77h1m5 0h2m3 0h1M9 78h1m2 0h2m4 0h1M1 79h1m1 0h1m2 0h1m3 0h1M0 80h1m5 0h1M1 81h1M0 82h2M0 83h1m2 0h1m5 0h1m2 0h1M2 84h1m1 0h1m5 0h1m1 0h1m1 0h1M6 85h1m5 0h1M1 86h1m2 0h1M5 87h1M3 88h1M1 89h1M1 90h1m3 0h1M0 91h1M1 92h1m1 0h1m6 0h1m1 0h2M0 93h1M1 97h1m2 0h1m3 0h1m3 0h1M2 99h1M2 100h1m5 0h1M0 108h1M3 110h1"/>
<path stroke="#1eafb3" d="M37 0h1m1 0h1m6 0h1m3 0h2m2 0h3m6 0h2m1 0h1m5 0h1M35 1h1m5 0h3m1 0h1m1 0h3m2 0h2m1 0h1m1 0h2m6 0h3M36 2h1m1 0h2m2 0h2m1 0h2m8 0h1m3 0h2m7 0h1m1 0h1M35 3h1m2 0h2m5 0h4m1 0h3m3 0h2m5 0h1M32 4h1m4 0h1m1 0h1m1 0h1m1 0h1m1 0h5m4 0h1m1 0h1m6 0h1M35 5h1m1 0h1m1 0h5m6 0h4m7 0h1M32 6h1m5 0h4m5 0h5m12 0h1M35 7h2m1 0h2m1 0h2m6 0h1m1 0h1M30 8h1m5 0h1m1 0h3m2 0h2m10 0h2M31 9h1m1 0h1m1 0h1m3 0h1m1 0h1m1 0h1m3 0h1m1 0h1m1 0h1m6 0h2M26 10h1m5 0h1m2 0h1m1 0h1m1 0h1m1 0h4m1 0h1m15 0h1m6 0h1M25 11h2m2 0h4m1 0h2m1 0h1m2 0h1m1 0h2m2 0h1m3 0h2m3 0h1m2 0h1m2 0h1M24 12h1m1 0h1m1 0h2m1 0h1m1 0h3m1 0h2m1 0h4m3 0h1m3 0h1M29 13h1m1 0h1m1 0h2m1 0h2m1 0h2M26 14h3m5 0h1m3 0h1m5 0h1m9 0h1m5 0h1M30 15h2m1 0h1m1 0h1m11 0h1M21 16h1m3 0h2m2 0h4m1 0h1m12 0h1m1 0h1M20 17h1m5 0h1m2 0h1m1 0h7m5 0h1m3 0h1m4 0h1m2 0h2M24 18h2m1 0h3m6 0h2m6 0h1m1 0h1M23 19h1m2 0h3m1 0h1m1 0h4m12 0h1M24 20h2m1 0h1m1 0h1m1 0h1m1 0h2m6 0h1M21 21h1m2 0h2m1 0h1m1 0h1m1 0h3m2 0h2M17 22h2m4 0h4m1 0h2m7 0h1m2 0h2m1 0h1M17 23h1m2 0h5m1 0h4m1 0h1m5 0h2m3 0h1m3 0h1M24 24h1m3 0h1m1 0h1m3 0h3M21 25h4m2 0h1m1 0h1m1 0h1m5 0h1m3 0h1m7 0h1M16 26h1m2 0h10m3 0h1m5 0h1M17 27h3m2 0h2m1 0h1m3 0h1m1 0h1m5 0h1M15 28h2m1 0h4m6 0h1m15 0h1M14 29h1m1 0h1m2 0h2m2 0h2m2 0h1m2 0h1m4 0h1M10 30h1m7 0h2m4 0h2M12 31h1m1 0h1m1 0h2m5 0h2m2 0h1m1 0h1M12 32h1m2 0h1m1 0h2m2 0h4m3 0h2m16 0h1M7 33h1m2 0h1m2 0h3m2 0h4m1 0h1m2 0h1m2 0h1M10 34h1m1 0h1m1 0h1m3 0h1m2 0h3m3 0h1M10 35h2m1 0h1m1 0h1m3 0h3m3 0h4M12 36h1m2 0h1m3 0h3m1 0h1m1 0h1m2 0h1m2 0h1m7 0h1M8 37h1m1 0h2m4 0h2m2 0h1m1 0h5M13 38h2m5 0h1m1 0h1m9 0h1M7 39h4m2 0h3m1 0h2M12 40h2m2 0h2m4 0h1m1 0h1m5 0h1M4 41h2m1 0h3m6 0h1m1 0h1m1 0h1m3 0h1M5 42h1m2 0h1m1 0h1m2 0h1m2 0h3m3 0h1m1 0h1m3 0h1m5 0h1M6 43h1m1 0h1m1 0h2m1 0h1m2 0h1M3 44h1m3 0h1m3 0h2m1 0h2m1 0h1m6 0h1m1 0h1M6 45h4m2 0h3M2 46h1m2 0h2m1 0h2m1 0h2m2 0h1m1 0h1m3 0h1M8 47h1m3 0h1m1 0h3m4 0h1m3 0h1M5 48h3m2 0h2m6 0h1m2 0h2M2 49h3m2 0h1m2 0h1m1 0h2m1 0h1m3 0h1M2 50h1m1 0h1m1 0h1m5 0h2M2 51h2m2 0h3m1 0h1m1 0h2m4 0h1m2 0h1M1 52h2m5 0h1m1 0h1m1 0h1m2 0h1M6 53h4m7 0h1m2 0h1m2 0h1M1 54h1m6 0h1m4 0h1M0 55h1m2 0h6m8 0h1M2 56h2m1 0h1m2 0h1m4 0h1m3 0h1M0 57h1m1 0h1m4 0h1M2 58h1m1 0h1m1 0h1M2 59h1m6 0h1M0 60h1m4 0h3m6 0h1M1 61h1m1 0h3m13 0h1m3 0h1M3 62h1m1 0h2m1 0h1m5 0h1m5 0h1M1 63h1m1 0h5m4 0h1M4 64h1m6 0h1M2 65h1m7 0h1m2 0h1m2 0h1M1 66h1M1 67h1m2 0h2M0 68h1m5 0h1m10 0h1M1 69h2m3 0h1m4 0h1m1 0h1M0 70h2M1 71h2m5 0h1M0 72h1m1 0h1m4 0h2m6 0h1M0 73h1m1 0h1m1 0h2M6 74h1m2 0h1M0 75h1M1 76h2m1 0h1M1 77h1m4 0h1m1 0h1M2 78h2m1 0h1M0 79h1m1 0h1M2 80h1M6 81h1M2 82h2M0 84h1M1 85h2M0 86h1m6 0h1M0 87h1m5 0h1M0 89h1M0 90h1M2 95h1M0 96h1M0 97h1M0 100h1"/>
<path stroke="#2eb7a4" d="M33 0h1m6 0h6m1 0h3m11 0h1M36 1h5m9 0h1M34 2h2m4 0h2m2 0h1m2 0h1m14 0h1m10 0h1M33 3h2m1 0h2m2 0h4m9 0h1M30 4h1m3 0h3m1 0h1m1 0h1m1 0h1m1 0h1M29 5h1m3 0h1m4 0h1m5 0h1m1 0h1m2 0h1M22 6h1m5 0h2m1 0h1m1 0h4m5 0h1m1 0h1m8 0h1M29 7h6m9 0h1m3 0h1M27 8h3m2 0h1m1 0h1m2 0h1m4 0h1M24 9h1m2 0h4m3 0h1m3 0h1m3 0h1m1 0h2M24 10h2m1 0h3m1 0h1m1 0h1m2 0h1m8 0h1M21 11h1m2 0h1m8 0h1m4 0h1M25 12h1m1 0h1m8 0h1m12 0h1M20 13h2m2 0h2m2 0h1m1 0h1M17 14h1m2 0h5m4 0h4m2 0h1M21 15h2m2 0h1m1 0h3m2 0h1m1 0h1M14 16h1m3 0h1m1 0h1m1 0h1m1 0h1m3 0h1m4 0h1m3 0h1M19 17h1m1 0h1m1 0h3m1 0h2m1 0h1M19 18h3m1 0h1m2 0h1m3 0h1m3 0h1M16 19h1m1 0h3m1 0h1m1 0h1m6 0h1M14 20h2m1 0h1m1 0h1m1 0h1m1 0h1M13 21h1m2 0h1m1 0h1m1 0h1m1 0h1m3 0h1M15 22h1m3 0h4M10 23h1m3 0h3m1 0h2m13 0h1M13 24h1m1 0h5m1 0h2m2 0h1M10 25h1m2 0h2m1 0h5m15 0h1M12 26h1m1 0h2m1 0h2M4 27h1m6 0h1m2 0h2m4 0h1m5 0h1M11 28h3m3 0h1m5 0h1m1 0h2M7 29h1m1 0h2m1 0h2m1 0h1m1 0h2m6 0h1M6 30h2m3 0h2m3 0h2m3 0h3M7 31h5m1 0h1m4 0h2m1 0h1M8 32h1m2 0h1m1 0h2m1 0h1M6 33h1m1 0h2m1 0h2m4 0h1M6 34h4m1 0h1m3 0h1M9 35h1m2 0h1m1 0h1M5 36h7M6 37h2m1 0h1m4 0h1M6 38h2m1 0h1m1 0h2m2 0h1M2 39h5m5 0h1m7 0h1M2 40h1m4 0h5m3 0h1M1 41h1m1 0h1m6 0h4M2 42h1m3 0h2m3 0h2M1 43h1m2 0h2m1 0h1m1 0h1m2 0h1m1 0h1M0 44h3m2 0h1m7 0h1M0 45h1m1 0h2m1 0h1m4 0h1M0 46h2m1 0h2m2 0h1M3 47h5M0 48h5m3 0h2m3 0h1M0 49h2m3 0h1m2 0h1M0 50h2m1 0h1m1 0h1m2 0h2m8 0h1M0 51h2m3 0h1M3 52h5m14 0h1M0 53h2m2 0h2M0 54h1m1 0h1m1 0h1m1 0h1M1 55h2M1 56h1m2 0h1m10 0h1M1 57h1M0 58h2M1 59h1M1 60h4M2 61h1M0 62h2m5 0h1M0 63h1m1 0h1M1 64h1m1 0h1M3 65h2m1 0h1M5 66h1M3 75h1M0 77h1"/>
<path stroke="#52ba92" d="M30 0h3m2 0h2m1 0h1M32 1h2M28 2h1m1 0h4m3 0h1M27 3h3m1 0h2M25 4h5m1 0h1m1 0h1M26 5h3m1 0h3m1 0h1m1 0h1M23 6h1m1 0h3m2 0h1m6 0h1M24 7h1m1 0h3M22 8h1m1 0h3m4 0h1m1 0h1M22 9h1m2 0h2m5 0h1M20 10h1m1 0h2m6 0h1M22 11h1m4 0h1M17 12h2m1 0h2m1 0h1m6 0h1M17 13h2m3 0h2m2 0h1M11 14h1m4 0h1m1 0h2m5 0h1M14 15h1m1 0h5m3 0h1m1 0h1m11 0h1M12 16h1m2 0h3m1 0h1m3 0h1M14 17h1m1 0h3m3 0h1M12 18h7m3 0h1M12 19h2m1 0h1m1 0h1m3 0h1M9 20h5m2 0h1m1 0h1m1 0h1m1 0h1M9 21h3m2 0h2m1 0h1m1 0h1M8 22h3m1 0h3m1 0h1M12 23h2M8 24h5m1 0h1M9 25h1m1 0h2m2 0h1M6 26h2m1 0h3m1 0h1M6 27h5m1 0h2m2 0h1M5 28h1m1 0h4m3 0h1M4 29h3m1 0h1m2 0h1M4 30h2m2 0h2M4 31h3M4 32h1m1 0h2m2 0h1M4 33h1M2 34h4M1 35h8M3 36h2M1 37h5M3 38h3m2 0h1M0 39h1M0 40h2m1 0h4M0 41h1m1 0h1m3 0h1M0 42h1m2 0h2M0 43h1m1 0h2M4 44h1M1 45h1m2 0h1M0 47h3M0 52h1M3 53h1M3 54h1M0 56h1"/>
<path stroke="#74bd81" d="M22 0h1m1 0h6m4 0h1M23 1h1m1 0h7m2 0h1M20 2h8m1 0h1M20 3h3m1 0h1m1 0h1m3 0h1M18 4h7M19 5h7M16 6h6m2 0h1M13 7h1m4 0h6m1 0h1M16 8h4m1 0h1m1 0h1M14 9h8m1 0h1M13 10h7m1 0h1M14 11h7m2 0h1M13 12h4m2 0h1m2 0h1M11 13h6m2 0h1M12 14h4M12 15h2m1 0h1M7 16h4m2 0h1M6 17h1m1 0h2m1 0h3m1 0h1M7 18h1m1 0h3M8 19h4m2 0h1M5 20h1m2 0h1M6 21h3m3 0h1M3 22h1m3 0h1m3 0h1M3 23h1m1 0h5m1 0h1M3 24h5M4 25h5M3 26h3m2 0h1M3 27h1m1 0h1M4 28h1m1 0h1M1 29h3M2 30h2M1 31h1m1 0h1M1 32h3m1 0h1M0 33h4m1 0h1M0 34h2M0 35h1M0 36h3M0 37h1M0 38h3M1 39h1M1 42h1"/>
<path stroke="#95be71" d="M18 0h1m1 0h2m1 0h1M17 1h2m1 0h3m1 0h1M15 2h5M16 3h4m3 0h1m1 0h1M15 4h3M13 5h6M12 6h4M11 7h1m2 0h4M11 8h5m4 0h1M11 9h3M8 10h5M8 11h6M7 12h6M8 13h3M5 14h6M6 15h6M4 16h3m4 0h1M3 17h3m1 0h1m2 0h1M2 18h5m1 0h1M3 19h5M3 20h2m1 0h2M2 21h4M0 22h3m1 0h3M0 23h3m1 0h1M0 24h3M0 25h4M0 26h3M1 27h2M0 28h4M0 29h1M0 30h2M0 31h1m1 0h1M0 32h1"/>
<path stroke="#b3bd65" d="M14 0h4m1 0h1M13 1h4m2 0h1M12 2h3M9 3h7M9 4h6M9 5h4M7 6h5M6 7h5m1 0h1M6 8h5M6 9h5M4 10h4M4 11h4M3 12h4M2 13h1m1 0h4M1 14h4M0 15h6M1 16h3M0 17h3M0 18h2M0 19h3M0 20h3M0 21h2M0 27h1"/>
<path stroke="#d1bb59" d="M9 0h5M7 1h6M6 2h6M5 3h4M5 4h4M5 5h4M3 6h4M2 7h4M2 8h4M1 9h5M1 10h3M1 11h3M0 12h3M0 13h2m1 0h1M0 14h1M0 16h1"/>
<path stroke="#e2c04b" d="M3 0h1m1 0h4M3 1h4M2 2h4M1 3h4M1 4h4M0 5h5M0 6h3M0 7h2M0 8h2M0 9h1M0 10h1M0 11h1"/>
<path stroke="#f4c63b" d="M0 0h3m1 0h1M0 1h3M0 2h2M0 3h1M0 4h1"/>
</g>
<use href="#c864" transform="translate(0.17 0)"/>
<line x1="943.9" y1="386.74" x2="1464.8" y2="386.74" stroke="#ff0000" stroke-width="3" stroke-dasharray="30 7.5"/>
<line x1="1048.08" y1="467.75" x2="1048.08" y2="62.7" stroke="#ff0000" stroke-width="3" stroke-dasharray="30 7.5"/>
<path d="M943.9 467.75v-11.8M943.9 62.7v11.8M943.9 467.75h16.5M1464.8 467.75h-16.5M954.32 467.75v-6M954.32 62.7v6M943.9 459.65h8.3M1464.8 459.65h-8.3M964.74 467.75v-6M964.74 62.7v6M943.9 451.55h8.3M1464.8 451.55h-8.3M975.15 467.75v-6M975.15 62.7v6M943.9 443.45h8.3M1464.8 443.45h-8.3M985.57 467.75v-6M985.57 62.7v6M943.9 435.35h8.3M1464.8 435.35h-8.3M995.99 467.75v-11.8M995.99 62.7v11.8M943.9 427.25h16.5M1464.8 427.25h-16.5M1006.41 467.75v-6M1006.41 62.7v6M943.9 419.14h8.3M1464.8 419.14h-8.3M1016.83 467.75v-6M1016.83 62.7v6M943.9 411.04h8.3M1464.8 411.04h-8.3M1027.24 467.75v-6M1027.24 62.7v6M943.9 402.94h8.3M1464.8 402.94h-8.3M1037.66 467.75v-6M1037.66 62.7v6M943.9 394.84h8.3M1464.8 394.84h-8.3M1048.08 467.75v-11.8M1048.08 62.7v11.8M943.9 386.74h16.5M1464.8 386.74h-16.5M1058.5 467.75v-6M1058.5 62.7v6M943.9 378.64h8.3M1464.8 378.64h-8.3M1068.92 467.75v-6M1068.92 62.7v6M943.9 370.54h8.3M1464.8 370.54h-8.3M1079.33 467.75v-6M1079.33 62.7v6M943.9 362.44h8.3M1464.8 362.44h-8.3M1089.75 467.75v-6M1089.75 62.7v6M943.9 354.34h8.3M1464.8 354.34h-8.3M1100.17 467.75v-11.8M1100.17 62.7v11.8M943.9 346.24h16.5M1464.8 346.24h-16.5M1110.59 467.75v-6M1110.59 62.7v6M943.9 338.13h8.3M1464.8 338.13h-8.3M1121.01 467.75v-6M1121.01 62.7v6M943.9 330.03h8.3M1464.8 330.03h-8.3M1131.42 467.75v-6M1131.42 62.7v6M943.9 321.93h8.3M1464.8 321.93h-8.3M1141.84 467.75v-6M1141.84 62.7v6M943.9 313.83h8.3M1464.8 313.83h-8.3M1152.26 467.75v-11.8M1152.26 62.7v11.8M943.9 305.73h16.5M1464.8 305.73h-16.5M1162.68 467.75v-6M1162.68 62.7v6M943.9 297.63h8.3M1464.8 297.63h-8.3M1173.1 467.75v-6M1173.1 62.7v6M943.9 289.53h8.3M1464.8 289.53h-8.3M1183.51 467.75v-6M1183.51 62.7v6M943.9 281.43h8.3M1464.8 281.43h-8.3M1193.93 467.75v-6M1193.93 62.7v6M943.9 273.33h8.3M1464.8 273.33h-8.3M1204.35 467.75v-11.8M1204.35 62.7v11.8M943.9 265.23h16.5M1464.8 265.23h-16.5M1214.77 467.75v-6M1214.77 62.7v6M943.9 257.12h8.3M1464.8 257.12h-8.3M1225.19 467.75v-6M1225.19 62.7v6M943.9 249.02h8.3M1464.8 249.02h-8.3M1235.6 467.75v-6M1235.6 62.7v6M943.9 240.92h8.3M1464.8 240.92h-8.3M1246.02 467.75v-6M1246.02 62.7v6M943.9 232.82h8.3M1464.8 232.82h-8.3M1256.44 467.75v-11.8M1256.44 62.7v11.8M943.9 224.72h16.5M1464.8 224.72h-16.5M1266.86 467.75v-6M1266.86 62.7v6M943.9 216.62h8.3M1464.8 216.62h-8.3M1277.28 467.75v-6M1277.28 62.7v6M943.9 208.52h8.3M1464.8 208.52h-8.3M1287.69 467.75v-6M1287.69 62.7v6M943.9 200.42h8.3M1464.8 200.42h-8.3M1298.11 467.75v-6M1298.11 62.7v6M943.9 192.32h8.3M1464.8 192.32h-8.3M1308.53 467.75v-11.8M1308.53 62.7v11.8M943.9 184.21h16.5M1464.8 184.21h-16.5M1318.95 467.75v-6M1318.95 62.7v6M943.9 176.11h8.3M1464.8 176.11h-8.3M1329.37 467.75v-6M1329.37 62.7v6M943.9 168.01h8.3M1464.8 168.01h-8.3M1339.78 467.75v-6M1339.78 62.7v6M943.9 159.91h8.3M1464.8 159.91h-8.3M1350.2 467.75v-6M1350.2 62.7v6M943.9 151.81h8.3M1464.8 151.81h-8.3M1360.62 467.75v-11.8M1360.62 62.7v11.8M943.9 143.71h16.5M1464.8 143.71h-16.5M1371.04 467.75v-6M1371.04 62.7v6M943.9 135.61h8.3M1464.8 135.61h-8.3M1381.46 467.75v-6M1381.46 62.7v6M943.9 127.51h8.3M1464.8 127.51h-8.3M1391.87 467.75v-6M1391.87 62.7v6M943.9 119.41h8.3M1464.8 119.41h-8.3M1402.29 467.75v-6M1402.29 62.7v6M943.9 111.31h8.3M1464.8 111.31h-8.3M1412.71 467.75v-11.8M1412.71 62.7v11.8M943.9 103.2h16.5M1464.8 103.2h-16.5M1423.13 467.75v-6M1423.13 62.7v6M943.9 95.1h8.3M1464.8 95.1h-8.3M1433.55 467.75v-6M1433.55 62.7v6M943.9 87h8.3M1464.8 87h-8.3M1443.96 467.75v-6M1443.96 62.7v6M943.9 78.9h8.3M1464.8 78.9h-8.3M1454.38 467.75v-6M1454.38 62.7v6M943.9 70.8h8.3M1464.8 70.8h-8.3M1464.8 467.75v-11.8M1464.8 62.7v11.8M943.9 62.7h16.5M1464.8 62.7h-16.5" stroke="#000" stroke-width="1.3" fill="none"/>
<rect x="943.9" y="62.7" width="520.9" height="405.05" fill="none" stroke="#000" stroke-width="1.3"/>
<text x="943.9" y="487.85" font-size="20.9" text-anchor="middle">0</text>
<text x="939.3" y="474.65" font-size="20.9" text-anchor="end">0</text>
<text x="995.99" y="487.85" font-size="20.9" text-anchor="middle">0.1</text>
<text x="939.3" y="434.14" font-size="20.9" text-anchor="end">0.1</text>
<text x="1048.08" y="487.85" font-size="20.9" text-anchor="middle">0.2</text>
<text x="939.3" y="393.64" font-size="20.9" text-anchor="end">0.2</text>
<text x="1100.17" y="487.85" font-size="20.9" text-anchor="middle">0.3</text>
<text x="939.3" y="353.13" font-size="20.9" text-anchor="end">0.3</text>
<text x="1152.26" y="487.85" font-size="20.9" text-anchor="middle">0.4</text>
<text x="939.3" y="312.63" font-size="20.9" text-anchor="end">0.4</text>
<text x="1204.35" y="487.85" font-size="20.9" text-anchor="middle">0.5</text>
<text x="939.3" y="272.12" font-size="20.9" text-anchor="end">0.5</text>
<text x="1256.44" y="487.85" font-size="20.9" text-anchor="middle">0.6</text>
<text x="939.3" y="231.62" font-size="20.9" text-anchor="end">0.6</text>
<text x="1308.53" y="487.85" font-size="20.9" text-anchor="middle">0.7</text>
<text x="939.3" y="191.11" font-size="20.9" text-anchor="end">0.7</text>
<text x="1360.62" y="487.85" font-size="20.9" text-anchor="middle">0.8</text>
<text x="939.3" y="150.61" font-size="20.9" text-anchor="end">0.8</text>
<text x="1412.71" y="487.85" font-size="20.9" text-anchor="middle">0.9</text>
<text x="939.3" y="110.1" font-size="20.9" text-anchor="end">0.9</text>
<text x="1464.8" y="487.85" font-size="20.9" text-anchor="middle">1</text>
<text x="939.3" y="69.6" font-size="20.9" text-anchor="end">1</text>
<text x="1465.4" y="519.55" font-size="29" text-anchor="end">Leading jet PTF</text>
<text transform="translate(890.8 61.9) rotate(-90)" font-size="28.75" text-anchor="end">Subleading jet PTF</text>
<text x="980.36" y="439.4" font-size="28" font-weight="bold">A</text>
<text x="980.36" y="346.24" font-size="28" font-weight="bold">B</text>
<text x="1100.17" y="439.4" font-size="28" font-weight="bold">C</text>
<text x="1100.17" y="346.24" font-size="28" font-weight="bold">D</text>
<rect x="1468.5" y="447.5" width="38.6" height="20.25" fill="#263ea8"/>
<rect x="1468.5" y="427.25" width="38.6" height="20.65" fill="#1652cd"/>
<rect x="1468.5" y="406.99" width="38.6" height="20.65" fill="#1064dc"/>
<rect x="1468.5" y="386.74" width="38.6" height="20.65" fill="#1272d9"/>
<rect x="1468.5" y="366.49" width="38.6" height="20.65" fill="#1481d6"/>
<rect x="1468.5" y="346.24" width="38.6" height="20.65" fill="#0e8fd1"/>
<rect x="1468.5" y="325.98" width="38.6" height="20.65" fill="#099dcc"/>
<rect x="1468.5" y="305.73" width="38.6" height="20.65" fill="#0da7c3"/>
<rect x="1468.5" y="285.48" width="38.6" height="20.65" fill="#1eafb3"/>
<rect x="1468.5" y="265.23" width="38.6" height="20.65" fill="#2eb7a4"/>
<rect x="1468.5" y="244.97" width="38.6" height="20.65" fill="#52ba92"/>
<rect x="1468.5" y="224.72" width="38.6" height="20.65" fill="#74bd81"/>
<rect x="1468.5" y="204.47" width="38.6" height="20.65" fill="#95be71"/>
<rect x="1468.5" y="184.21" width="38.6" height="20.65" fill="#b3bd65"/>
<rect x="1468.5" y="163.96" width="38.6" height="20.65" fill="#d1bb59"/>
<rect x="1468.5" y="143.71" width="38.6" height="20.65" fill="#e2c04b"/>
<rect x="1468.5" y="123.46" width="38.6" height="20.65" fill="#f4c63b"/>
<rect x="1468.5" y="103.2" width="38.6" height="20.65" fill="#fdd22b"/>
<rect x="1468.5" y="82.95" width="38.6" height="20.65" fill="#fbe61d"/>
<rect x="1468.5" y="62.7" width="38.6" height="20.65" fill="#f9f90f"/>
<line x1="1507.1" y1="62.05" x2="1507.1" y2="468.4" stroke="#000" stroke-width="1.3"/>
<path d="M1507.1 467.75h-16.7M1507.1 441.8h-8.6M1507.1 426.62h-8.6M1507.1 415.85h-8.6M1507.1 407.5h-8.6M1507.1 400.67h-8.6M1507.1 394.9h-8.6M1507.1 389.9h-8.6M1507.1 385.49h-8.6M1507.1 381.55h-16.7M1507.1 355.6h-8.6M1507.1 340.42h-8.6M1507.1 329.65h-8.6M1507.1 321.3h-8.6M1507.1 314.47h-8.6M1507.1 308.7h-8.6M1507.1 303.7h-8.6M1507.1 299.29h-8.6M1507.1 295.35h-16.7M1507.1 269.4h-8.6M1507.1 254.22h-8.6M1507.1 243.45h-8.6M1507.1 235.1h-8.6M1507.1 228.27h-8.6M1507.1 222.5h-8.6M1507.1 217.5h-8.6M1507.1 213.1h-8.6M1507.1 209.15h-16.7M1507.1 183.2h-8.6M1507.1 168.02h-8.6M1507.1 157.25h-8.6M1507.1 148.9h-8.6M1507.1 142.07h-8.6M1507.1 136.3h-8.6M1507.1 131.3h-8.6M1507.1 126.9h-8.6M1507.1 122.95h-16.7M1507.1 97h-8.6M1507.1 81.82h-8.6M1507.1 71.05h-8.6M1507.1 62.7h-8.6" stroke="#000" stroke-width="1.3" fill="none"/>
<text x="1516.3" y="477.05" font-size="20.9">10<tspan font-size="13.1" dy="-9.8" dx="-0.5">−3</tspan></text>
<text x="1516.3" y="390.85" font-size="20.9">10<tspan font-size="13.1" dy="-9.8" dx="-0.5">−2</tspan></text>
<text x="1516.3" y="304.65" font-size="20.9">10<tspan font-size="13.1" dy="-9.8" dx="-0.5">−1</tspan></text>
<text x="1516.3" y="218.45" font-size="20.9">1</text>
<text x="1516.3" y="132.25" font-size="20.9">10</text>
<text transform="translate(1589.9 60.2) rotate(-90)" font-size="29" text-anchor="end">Events / (0.01 X 0.01)</text>
<text x="951.6" y="20.5" font-size="29.4"><tspan font-weight="bold" font-style="italic">ATLAS</tspan> Simulation</text>
<text x="0" y="0" font-size="22.3" style="stroke-width:2px" transform="translate(950.6 47.6) scale(0.43 0.97)">√</text>
<line x1="955.2" y1="29.6" x2="970.3" y2="29.6" stroke="#000" stroke-width="1.2"/>
<text x="959.6" y="46.6" font-size="22.3">s = 13.6 TeV, 51.8 fb<tspan font-size="14.5" dy="-9">-1</tspan></text>
<text y="16.6" font-size="20.4"><tspan x="1207.35">m</tspan><tspan x="1224" dy="3.5" font-size="13">π</tspan><tspan x="1231.9" dy="5.3" font-size="8.6">d</tspan><tspan x="1241.3" dy="-8.8">= 10 GeV, m</tspan><tspan x="1355.9" dy="8.8" font-size="12.2">Z'</tspan><tspan x="1371.8" dy="-8.8">= 1.5 TeV</tspan></text>
<text y="46.7" font-size="20.4"><tspan x="1276.2">c</tspan><tspan x="1287.6">τ</tspan><tspan x="1295.8" dy="3.5" font-size="13">π</tspan><tspan x="1302.7" dy="5.6" font-size="8.6">d</tspan><tspan x="1312.2" dy="-9.1">= 5 mm, high-m</tspan><tspan dx="-0.4" dy="10.3" font-size="12.5">jj</tspan></text>
<text class="cap" x="386.2" y="618.7" font-size="35" text-anchor="middle">(a)</text>
<text class="cap" x="1250.5" y="618.7" font-size="35" text-anchor="middle">(b)</text>
<g shape-rendering="crispEdges">
<rect x="79.6" y="1091.16" width="74.41" height="57.74" fill="#1064dc"/>
<rect x="154.01" y="1091.16" width="74.41" height="57.74" fill="#74bd81"/>
<rect x="228.43" y="1091.16" width="74.41" height="57.74" fill="#1652cd"/>
<rect x="302.84" y="1091.16" width="74.41" height="57.74" fill="#263ea8"/>
<rect x="79.6" y="1033.41" width="74.41" height="57.74" fill="#1652cd"/>
<rect x="154.01" y="1033.41" width="74.41" height="57.74" fill="#fdd22b"/>
<rect x="228.43" y="1033.41" width="74.41" height="57.74" fill="#95be71"/>
<rect x="302.84" y="1033.41" width="74.41" height="57.74" fill="#263ea8"/>
<rect x="377.26" y="1033.41" width="74.41" height="57.74" fill="#263ea8"/>
<rect x="79.6" y="975.67" width="74.41" height="57.74" fill="#0da7c3"/>
<rect x="154.01" y="975.67" width="74.41" height="57.74" fill="#0e8fd1"/>
<rect x="228.43" y="975.67" width="74.41" height="57.74" fill="#263ea8"/>
<rect x="302.84" y="975.67" width="74.41" height="57.74" fill="#263ea8"/>
<rect x="79.6" y="917.93" width="74.41" height="57.74" fill="#263ea8"/>
<rect x="154.01" y="917.93" width="74.41" height="57.74" fill="#263ea8"/>
<rect x="228.43" y="917.93" width="74.41" height="57.74" fill="#263ea8"/>
<rect x="228.43" y="860.19" width="74.41" height="57.74" fill="#263ea8"/>
<rect x="79.6" y="802.44" width="74.41" height="57.74" fill="#263ea8"/>
</g>
<line x1="79.6" y1="1033.41" x2="600.5" y2="1033.41" stroke="#ff0000" stroke-width="3" stroke-dasharray="30 7.5"/>
<line x1="228.43" y1="1148.9" x2="228.43" y2="744.7" stroke="#ff0000" stroke-width="3" stroke-dasharray="30 7.5"/>
<path d="M154.01 1148.9v-12M154.01 744.7v12M79.6 1091.16h17M600.5 1091.16h-17M228.43 1148.9v-12M228.43 744.7v12M79.6 1033.41h17M600.5 1033.41h-17M302.84 1148.9v-12M302.84 744.7v12M79.6 975.67h17M600.5 975.67h-17M377.26 1148.9v-12M377.26 744.7v12M79.6 917.93h17M600.5 917.93h-17M451.67 1148.9v-12M451.67 744.7v12M79.6 860.19h17M600.5 860.19h-17M526.09 1148.9v-12M526.09 744.7v12M79.6 802.44h17M600.5 802.44h-17" stroke="#000" stroke-width="1.3" fill="none"/>
<rect x="79.6" y="744.7" width="520.9" height="404.2" fill="none" stroke="#000" stroke-width="1.3"/>
<text x="115.51" y="1177.5" font-size="29" text-anchor="middle">1</text>
<text x="71.3" y="1130.33" font-size="29" text-anchor="end">1</text>
<text x="189.92" y="1177.5" font-size="29" text-anchor="middle">2</text>
<text x="71.3" y="1072.59" font-size="29" text-anchor="end">2</text>
<text x="264.34" y="1177.5" font-size="29" text-anchor="middle">3</text>
<text x="71.3" y="1014.84" font-size="29" text-anchor="end">3</text>
<text x="338.75" y="1177.5" font-size="29" text-anchor="middle">4</text>
<text x="71.3" y="957.1" font-size="29" text-anchor="end">4</text>
<text x="413.16" y="1177.5" font-size="29" text-anchor="middle">5</text>
<text x="71.3" y="899.36" font-size="29" text-anchor="end">5</text>
<text x="487.58" y="1177.5" font-size="29" text-anchor="middle">6</text>
<text x="71.3" y="841.61" font-size="29" text-anchor="end">6</text>
<text x="561.99" y="1177.5" font-size="29" text-anchor="middle">7</text>
<text x="71.3" y="783.87" font-size="29" text-anchor="end">7</text>
<text x="600.3" y="1203.8" font-size="29" text-anchor="end">Leading jet N<tspan font-size="19" dy="15.6">subjet</tspan></text>
<text transform="translate(21.7 742) rotate(-90)" font-size="29" text-anchor="end">Subleading jet N<tspan font-size="19" dy="14.4" dx="-1">subjet</tspan></text>
<text x="273.08" y="998.77" font-size="28" font-weight="bold">A</text>
<text x="139.13" y="998.77" font-size="28" font-weight="bold">B</text>
<text x="273.08" y="1102.71" font-size="28" font-weight="bold">C</text>
<text x="139.13" y="1102.71" font-size="28" font-weight="bold">D</text>
<rect x="604.2" y="1128.69" width="38.6" height="20.21" fill="#263ea8"/>
<rect x="604.2" y="1108.48" width="38.6" height="20.61" fill="#1652cd"/>
<rect x="604.2" y="1088.27" width="38.6" height="20.61" fill="#1064dc"/>
<rect x="604.2" y="1068.06" width="38.6" height="20.61" fill="#1272d9"/>
<rect x="604.2" y="1047.85" width="38.6" height="20.61" fill="#1481d6"/>
<rect x="604.2" y="1027.64" width="38.6" height="20.61" fill="#0e8fd1"/>
<rect x="604.2" y="1007.43" width="38.6" height="20.61" fill="#099dcc"/>
<rect x="604.2" y="987.22" width="38.6" height="20.61" fill="#0da7c3"/>
<rect x="604.2" y="967.01" width="38.6" height="20.61" fill="#1eafb3"/>
<rect x="604.2" y="946.8" width="38.6" height="20.61" fill="#2eb7a4"/>
<rect x="604.2" y="926.59" width="38.6" height="20.61" fill="#52ba92"/>
<rect x="604.2" y="906.38" width="38.6" height="20.61" fill="#74bd81"/>
<rect x="604.2" y="886.17" width="38.6" height="20.61" fill="#95be71"/>
<rect x="604.2" y="865.96" width="38.6" height="20.61" fill="#b3bd65"/>
<rect x="604.2" y="845.75" width="38.6" height="20.61" fill="#d1bb59"/>
<rect x="604.2" y="825.54" width="38.6" height="20.61" fill="#e2c04b"/>
<rect x="604.2" y="805.33" width="38.6" height="20.61" fill="#f4c63b"/>
<rect x="604.2" y="785.12" width="38.6" height="20.61" fill="#fdd22b"/>
<rect x="604.2" y="764.91" width="38.6" height="20.61" fill="#fbe61d"/>
<rect x="604.2" y="744.7" width="38.6" height="20.61" fill="#f9f90f"/>
<line x1="642.8" y1="744.05" x2="642.8" y2="1149.55" stroke="#000" stroke-width="1.3"/>
<text x="647.3" y="1158.1" font-size="29">0</text>
<text x="647.3" y="1100.36" font-size="29">20</text>
<text x="647.3" y="1042.61" font-size="29">40</text>
<text x="647.3" y="984.87" font-size="29">60</text>
<text x="647.3" y="927.13" font-size="29">80</text>
<text x="647.3" y="869.39" font-size="29">100</text>
<text x="647.3" y="811.64" font-size="29">120</text>
<text x="647.3" y="753.9" font-size="29">140</text>
<path d="M642.8 1148.9h-17M642.8 1091.16h-17M642.8 1033.41h-17M642.8 975.67h-17M642.8 917.93h-17M642.8 860.19h-17M642.8 802.44h-17M642.8 744.7h-17" stroke="#000" stroke-width="1.3" fill="none"/>
<text transform="translate(734.3 753.2) rotate(-90)" font-size="29" text-anchor="end">Events</text>
<text x="87.3" y="702.5" font-size="29.4"><tspan font-weight="bold" font-style="italic">ATLAS</tspan> Simulation</text>
<text x="0" y="0" font-size="22.3" style="stroke-width:2px" transform="translate(86.3 729.6) scale(0.43 0.97)">√</text>
<line x1="90.9" y1="711.6" x2="106" y2="711.6" stroke="#000" stroke-width="1.2"/>
<text x="95.3" y="728.6" font-size="22.3">s = 13.6 TeV, 51.8 fb<tspan font-size="14.5" dy="-9">-1</tspan></text>
<text x="382.3" y="728.9" font-size="20.4">Background MC, low-m<tspan font-size="12.5" dy="11.3" dx="0">jj</tspan></text>
<g shape-rendering="crispEdges">
<rect x="943.9" y="1091.16" width="74.41" height="57.74" fill="#263ea8"/>
<rect x="1018.31" y="1091.16" width="74.41" height="57.74" fill="#1652cd"/>
<rect x="1092.73" y="1091.16" width="74.41" height="57.74" fill="#1064dc"/>
<rect x="1167.14" y="1091.16" width="74.41" height="57.74" fill="#1064dc"/>
<rect x="1241.56" y="1091.16" width="74.41" height="57.74" fill="#1652cd"/>
<rect x="1315.97" y="1091.16" width="74.41" height="57.74" fill="#263ea8"/>
<rect x="1390.39" y="1091.16" width="74.41" height="57.74" fill="#263ea8"/>
<rect x="943.9" y="1033.41" width="74.41" height="57.74" fill="#1652cd"/>
<rect x="1018.31" y="1033.41" width="74.41" height="57.74" fill="#0da7c3"/>
<rect x="1092.73" y="1033.41" width="74.41" height="57.74" fill="#95be71"/>
<rect x="1167.14" y="1033.41" width="74.41" height="57.74" fill="#52ba92"/>
<rect x="1241.56" y="1033.41" width="74.41" height="57.74" fill="#1481d6"/>
<rect x="1315.97" y="1033.41" width="74.41" height="57.74" fill="#1652cd"/>
<rect x="1390.39" y="1033.41" width="74.41" height="57.74" fill="#263ea8"/>
<rect x="943.9" y="975.67" width="74.41" height="57.74" fill="#1064dc"/>
<rect x="1018.31" y="975.67" width="74.41" height="57.74" fill="#74bd81"/>
<rect x="1092.73" y="975.67" width="74.41" height="57.74" fill="#f9f90f"/>
<rect x="1167.14" y="975.67" width="74.41" height="57.74" fill="#fdd22b"/>
<rect x="1241.56" y="975.67" width="74.41" height="57.74" fill="#099dcc"/>
<rect x="1315.97" y="975.67" width="74.41" height="57.74" fill="#1064dc"/>
<rect x="1390.39" y="975.67" width="74.41" height="57.74" fill="#263ea8"/>
<rect x="943.9" y="917.93" width="74.41" height="57.74" fill="#1064dc"/>
<rect x="1018.31" y="917.93" width="74.41" height="57.74" fill="#1eafb3"/>
<rect x="1092.73" y="917.93" width="74.41" height="57.74" fill="#d1bb59"/>
<rect x="1167.14" y="917.93" width="74.41" height="57.74" fill="#95be71"/>
<rect x="1241.56" y="917.93" width="74.41" height="57.74" fill="#1481d6"/>
<rect x="1315.97" y="917.93" width="74.41" height="57.74" fill="#1652cd"/>
<rect x="1390.39" y="917.93" width="74.41" height="57.74" fill="#263ea8"/>
<rect x="943.9" y="860.19" width="74.41" height="57.74" fill="#263ea8"/>
<rect x="1018.31" y="860.19" width="74.41" height="57.74" fill="#1064dc"/>
<rect x="1092.73" y="860.19" width="74.41" height="57.74" fill="#0e8fd1"/>
<rect x="1167.14" y="860.19" width="74.41" height="57.74" fill="#1481d6"/>
<rect x="1241.56" y="860.19" width="74.41" height="57.74" fill="#1652cd"/>
<rect x="1315.97" y="860.19" width="74.41" height="57.74" fill="#263ea8"/>
<rect x="1390.39" y="860.19" width="74.41" height="57.74" fill="#263ea8"/>
<rect x="943.9" y="802.44" width="74.41" height="57.74" fill="#263ea8"/>
<rect x="1018.31" y="802.44" width="74.41" height="57.74" fill="#263ea8"/>
<rect x="1092.73" y="802.44" width="74.41" height="57.74" fill="#1652cd"/>
<rect x="1167.14" y="802.44" width="74.41" height="57.74" fill="#263ea8"/>
<rect x="1241.56" y="802.44" width="74.41" height="57.74" fill="#263ea8"/>
<rect x="1315.97" y="802.44" width="74.41" height="57.74" fill="#263ea8"/>
<rect x="1390.39" y="802.44" width="74.41" height="57.74" fill="#263ea8"/>
<rect x="943.9" y="744.7" width="74.41" height="57.74" fill="#263ea8"/>
<rect x="1018.31" y="744.7" width="74.41" height="57.74" fill="#263ea8"/>
<rect x="1092.73" y="744.7" width="74.41" height="57.74" fill="#263ea8"/>
<rect x="1167.14" y="744.7" width="74.41" height="57.74" fill="#263ea8"/>
<rect x="1241.56" y="744.7" width="74.41" height="57.74" fill="#263ea8"/>
<rect x="1315.97" y="744.7" width="74.41" height="57.74" fill="#263ea8"/>
</g>
<line x1="943.9" y1="1033.41" x2="1464.8" y2="1033.41" stroke="#ff0000" stroke-width="3" stroke-dasharray="30 7.5"/>
<line x1="1092.73" y1="1148.9" x2="1092.73" y2="744.7" stroke="#ff0000" stroke-width="3" stroke-dasharray="30 7.5"/>
<path d="M1018.31 1148.9v-12M1018.31 744.7v12M943.9 1091.16h17M1464.8 1091.16h-17M1092.73 1148.9v-12M1092.73 744.7v12M943.9 1033.41h17M1464.8 1033.41h-17M1167.14 1148.9v-12M1167.14 744.7v12M943.9 975.67h17M1464.8 975.67h-17M1241.56 1148.9v-12M1241.56 744.7v12M943.9 917.93h17M1464.8 917.93h-17M1315.97 1148.9v-12M1315.97 744.7v12M943.9 860.19h17M1464.8 860.19h-17M1390.39 1148.9v-12M1390.39 744.7v12M943.9 802.44h17M1464.8 802.44h-17" stroke="#000" stroke-width="1.3" fill="none"/>
<rect x="943.9" y="744.7" width="520.9" height="404.2" fill="none" stroke="#000" stroke-width="1.3"/>
<text x="979.81" y="1177.5" font-size="29" text-anchor="middle">1</text>
<text x="935.6" y="1130.33" font-size="29" text-anchor="end">1</text>
<text x="1054.22" y="1177.5" font-size="29" text-anchor="middle">2</text>
<text x="935.6" y="1072.59" font-size="29" text-anchor="end">2</text>
<text x="1128.64" y="1177.5" font-size="29" text-anchor="middle">3</text>
<text x="935.6" y="1014.84" font-size="29" text-anchor="end">3</text>
<text x="1203.05" y="1177.5" font-size="29" text-anchor="middle">4</text>
<text x="935.6" y="957.1" font-size="29" text-anchor="end">4</text>
<text x="1277.46" y="1177.5" font-size="29" text-anchor="middle">5</text>
<text x="935.6" y="899.36" font-size="29" text-anchor="end">5</text>
<text x="1351.88" y="1177.5" font-size="29" text-anchor="middle">6</text>
<text x="935.6" y="841.61" font-size="29" text-anchor="end">6</text>
<text x="1426.29" y="1177.5" font-size="29" text-anchor="middle">7</text>
<text x="935.6" y="783.87" font-size="29" text-anchor="end">7</text>
<text x="1464.6" y="1203.8" font-size="29" text-anchor="end">Leading jet N<tspan font-size="19" dy="15.6">subjet</tspan></text>
<text transform="translate(886 742) rotate(-90)" font-size="29" text-anchor="end">Subleading jet N<tspan font-size="19" dy="14.4" dx="-1">subjet</tspan></text>
<text x="1137.38" y="998.77" font-size="28" font-weight="bold">A</text>
<text x="1003.43" y="998.77" font-size="28" font-weight="bold">B</text>
<text x="1137.38" y="1102.71" font-size="28" font-weight="bold">C</text>
<text x="1003.43" y="1102.71" font-size="28" font-weight="bold">D</text>
<rect x="1468.5" y="1128.69" width="38.6" height="20.21" fill="#263ea8"/>
<rect x="1468.5" y="1108.48" width="38.6" height="20.61" fill="#1652cd"/>
<rect x="1468.5" y="1088.27" width="38.6" height="20.61" fill="#1064dc"/>
<rect x="1468.5" y="1068.06" width="38.6" height="20.61" fill="#1272d9"/>
<rect x="1468.5" y="1047.85" width="38.6" height="20.61" fill="#1481d6"/>
<rect x="1468.5" y="1027.64" width="38.6" height="20.61" fill="#0e8fd1"/>
<rect x="1468.5" y="1007.43" width="38.6" height="20.61" fill="#099dcc"/>
<rect x="1468.5" y="987.22" width="38.6" height="20.61" fill="#0da7c3"/>
<rect x="1468.5" y="967.01" width="38.6" height="20.61" fill="#1eafb3"/>
<rect x="1468.5" y="946.8" width="38.6" height="20.61" fill="#2eb7a4"/>
<rect x="1468.5" y="926.59" width="38.6" height="20.61" fill="#52ba92"/>
<rect x="1468.5" y="906.38" width="38.6" height="20.61" fill="#74bd81"/>
<rect x="1468.5" y="886.17" width="38.6" height="20.61" fill="#95be71"/>
<rect x="1468.5" y="865.96" width="38.6" height="20.61" fill="#b3bd65"/>
<rect x="1468.5" y="845.75" width="38.6" height="20.61" fill="#d1bb59"/>
<rect x="1468.5" y="825.54" width="38.6" height="20.61" fill="#e2c04b"/>
<rect x="1468.5" y="805.33" width="38.6" height="20.61" fill="#f4c63b"/>
<rect x="1468.5" y="785.12" width="38.6" height="20.61" fill="#fdd22b"/>
<rect x="1468.5" y="764.91" width="38.6" height="20.61" fill="#fbe61d"/>
<rect x="1468.5" y="744.7" width="38.6" height="20.61" fill="#f9f90f"/>
<line x1="1507.1" y1="744.05" x2="1507.1" y2="1149.55" stroke="#000" stroke-width="1.3"/>
<text x="1511.6" y="1158.1" font-size="29">0</text>
<text x="1511.6" y="1116.21" font-size="29">20</text>
<text x="1511.6" y="1074.33" font-size="29">40</text>
<text x="1511.6" y="1032.44" font-size="29">60</text>
<text x="1511.6" y="990.56" font-size="29">80</text>
<text x="1511.6" y="948.67" font-size="29">100</text>
<text x="1511.6" y="906.78" font-size="29">120</text>
<text x="1511.6" y="864.9" font-size="29">140</text>
<text x="1511.6" y="823.01" font-size="29">160</text>
<text x="1511.6" y="781.13" font-size="29">180</text>
<path d="M1507.1 1148.9h-17M1507.1 1107.01h-17M1507.1 1065.13h-17M1507.1 1023.24h-17M1507.1 981.36h-17M1507.1 939.47h-17M1507.1 897.58h-17M1507.1 855.7h-17M1507.1 813.81h-17M1507.1 771.93h-17" stroke="#000" stroke-width="1.3" fill="none"/>
<text transform="translate(1598.6 753.2) rotate(-90)" font-size="29" text-anchor="end">Events</text>
<text x="951.6" y="702.5" font-size="29.4"><tspan font-weight="bold" font-style="italic">ATLAS</tspan> Simulation</text>
<text x="0" y="0" font-size="22.3" style="stroke-width:2px" transform="translate(950.6 729.6) scale(0.43 0.97)">√</text>
<line x1="955.2" y1="711.6" x2="970.3" y2="711.6" stroke="#000" stroke-width="1.2"/>
<text x="959.6" y="728.6" font-size="22.3">s = 13.6 TeV, 51.8 fb<tspan font-size="14.5" dy="-9">-1</tspan></text>
<text y="698.6" font-size="20.4"><tspan x="1207.35">m</tspan><tspan x="1224" dy="3.5" font-size="13">π</tspan><tspan x="1231.9" dy="5.3" font-size="8.6">d</tspan><tspan x="1241.3" dy="-8.8">= 10 GeV, m</tspan><tspan x="1355.9" dy="8.8" font-size="12.2">Z'</tspan><tspan x="1371.8" dy="-8.8">= 0.6 TeV</tspan></text>
<text y="728.7" font-size="20.4"><tspan x="1276.2">c</tspan><tspan x="1287.6">τ</tspan><tspan x="1295.8" dy="3.5" font-size="13">π</tspan><tspan x="1302.7" dy="5.6" font-size="8.6">d</tspan><tspan x="1312.2" dy="-9.1">= 50 mm, low-m</tspan><tspan dx="-0.4" dy="8.1" font-size="12.5">jj</tspan></text>
</svg></body></html>
